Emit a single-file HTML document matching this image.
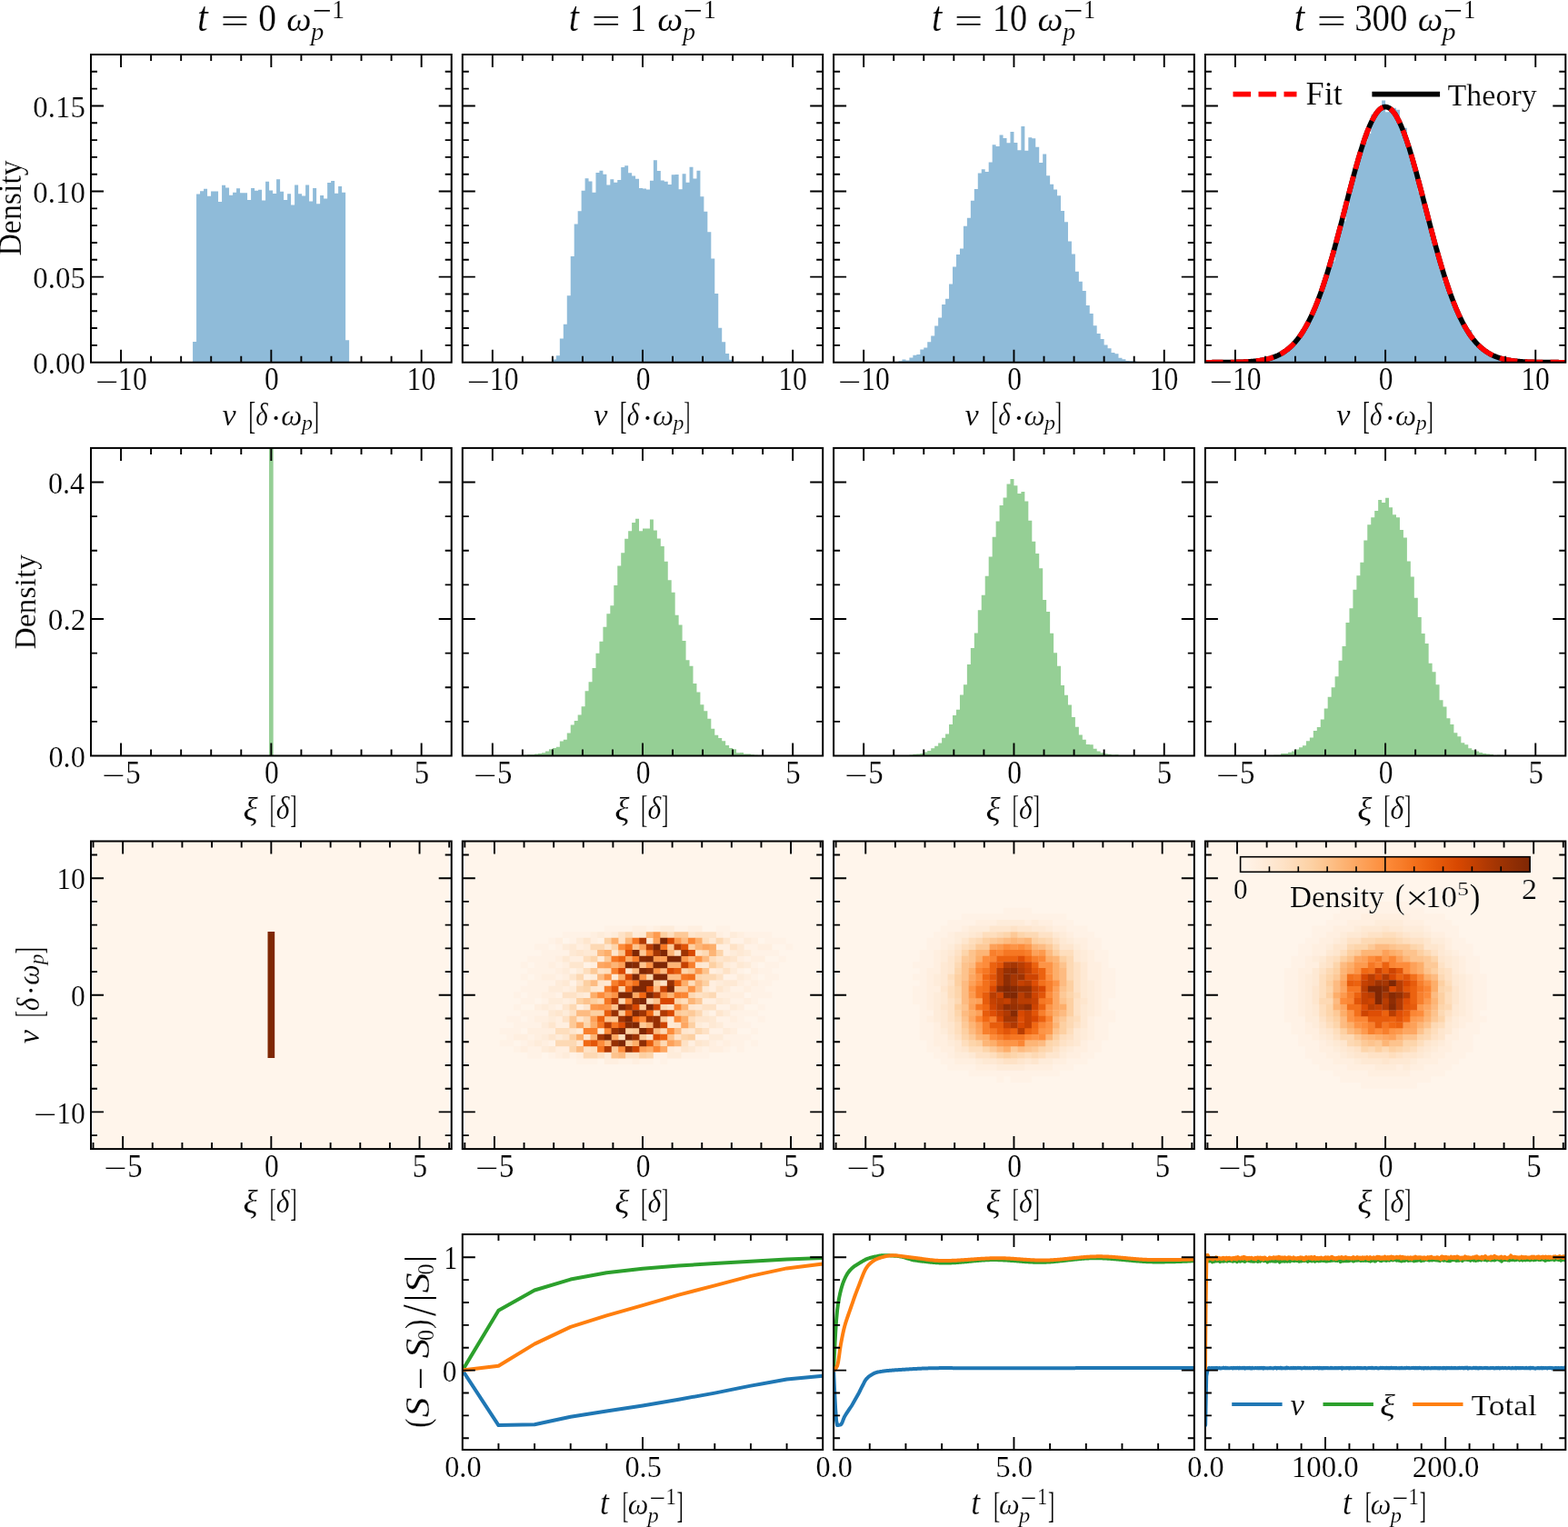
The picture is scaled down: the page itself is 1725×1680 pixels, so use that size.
<!DOCTYPE html><html><head><meta charset="utf-8"><title>Figure</title><style>html,body{margin:0;padding:0;background:#fff;overflow:hidden;width:1725px;height:1680px;}svg{display:block;}text{stroke:#fff;stroke-width:0.2px;vector-effect:non-scaling-stroke;}</style></head><body><svg width="1725" height="1680" viewBox="0 0 1725 1680" font-family="'Liberation Serif', 'DejaVu Serif', serif"><rect width="100%" height="100%" fill="#fff"/><clipPath id="c100_60"><rect x="100" y="60" width="396.7" height="338.7"/></clipPath>
<g clip-path="url(#c100_60)">
<path d="M212.07 398.7L212.07 376.12L216.07 376.12L216.07 213.6L220.07 213.6L220.07 210.32L224.07 210.32L224.07 207.85L228.07 207.85L228.07 215.73L232.08 215.73L232.08 210.52L236.08 210.52L236.08 210.54L240.08 210.54L240.08 222.09L244.08 222.09L244.08 203.83L248.08 203.83L248.08 206.58L252.08 206.58L252.08 214.65L256.09 214.65L256.09 211.66L260.09 211.66L260.09 207.21L264.09 207.21L264.09 212.25L268.09 212.25L268.09 212.13L272.09 212.13L272.09 220.1L276.09 220.1L276.09 206.88L280.09 206.88L280.09 209.72L284.1 209.72L284.1 208.73L288.1 208.73L288.1 220.59L292.1 220.59L292.1 199.66L296.1 199.66L296.1 209.52L300.1 209.52L300.1 213.08L304.1 213.08L304.1 197.17L308.11 197.17L308.11 210.83L312.11 210.83L312.11 220.09L316.11 220.09L316.11 213.2L320.11 213.2L320.11 225.6L324.11 225.6L324.11 203.62L328.11 203.62L328.11 213.28L332.12 213.28L332.12 215.42L336.12 215.42L336.12 203.47L340.12 203.47L340.12 221.41L344.12 221.41L344.12 207.01L348.12 207.01L348.12 224.13L352.12 224.13L352.12 214.89L356.13 214.89L356.13 218.46L360.13 218.46L360.13 200.91L364.13 200.91L364.13 198.9L368.13 198.9L368.13 212.7L372.13 212.7L372.13 205L376.13 205L376.13 211.72L380.13 211.72L380.13 374.24L384.14 374.24L384.14 398.7Z" fill="#8fbbd9"/>
</g>
<clipPath id="c508_60"><rect x="508.8" y="60" width="396.4" height="338.7"/></clipPath>
<g clip-path="url(#c508_60)">
<path d="M508.8 398.7L508.8 398.7L512.76 398.7L512.76 398.7L516.73 398.7L516.73 398.7L520.69 398.7L520.69 398.7L524.66 398.7L524.66 398.7L528.62 398.7L528.62 398.7L532.58 398.7L532.58 398.7L536.55 398.7L536.55 398.7L540.51 398.7L540.51 398.7L544.48 398.7L544.48 398.7L548.44 398.7L548.44 398.7L552.4 398.7L552.4 398.7L556.37 398.7L556.37 398.7L560.33 398.7L560.33 398.7L564.3 398.7L564.3 398.7L568.26 398.7L568.26 398.7L572.22 398.7L572.22 398.7L576.19 398.7L576.19 398.7L580.15 398.7L580.15 398.7L584.12 398.7L584.12 398.7L588.08 398.7L588.08 398.65L592.04 398.65L592.04 398.7L596.01 398.7L596.01 398.7L599.97 398.7L599.97 398.7L603.94 398.7L603.94 398.27L607.9 398.27L607.9 395.5L611.86 395.5L611.86 391.37L615.83 391.37L615.83 372.39L619.79 372.39L619.79 356.79L623.76 356.79L623.76 325.36L627.72 325.36L627.72 281.99L631.68 281.99L631.68 246.51L635.65 246.51L635.65 232.18L639.61 232.18L639.61 209.66L643.58 209.66L643.58 196.14L647.54 196.14L647.54 199.62L651.5 199.62L651.5 211.82L655.47 211.82L655.47 189.9L659.43 189.9L659.43 187.65L663.4 187.65L663.4 191.83L667.36 191.83L667.36 203.61L671.32 203.61L671.32 197.21L675.29 197.21L675.29 200.68L679.25 200.68L679.25 198.12L683.22 198.12L683.22 184.08L687.18 184.08L687.18 182.13L691.14 182.13L691.14 190.28L695.11 190.28L695.11 193.49L699.07 193.49L699.07 196.82L703.04 196.82L703.04 207.08L707 207.08L707 207.62L710.96 207.62L710.96 208.49L714.93 208.49L714.93 198.77L718.89 198.77L718.89 176.31L722.86 176.31L722.86 187.94L726.82 187.94L726.82 198.5L730.78 198.5L730.78 199.63L734.75 199.63L734.75 203.09L738.71 203.09L738.71 192.19L742.68 192.19L742.68 192.04L746.64 192.04L746.64 208.19L750.6 208.19L750.6 191.24L754.57 191.24L754.57 200.67L758.53 200.67L758.53 183.67L762.5 183.67L762.5 196.56L766.46 196.56L766.46 187.64L770.42 187.64L770.42 216.31L774.39 216.31L774.39 232.78L778.35 232.78L778.35 255.33L782.32 255.33L782.32 284.44L786.28 284.44L786.28 322.95L790.24 322.95L790.24 360.64L794.21 360.64L794.21 376.19L798.17 376.19L798.17 389.07L802.14 389.07L802.14 395.65L806.1 395.65L806.1 398.01L810.06 398.01L810.06 397.83L814.03 397.83L814.03 398.7L817.99 398.7L817.99 398.7L821.96 398.7L821.96 398.68L825.92 398.68L825.92 398.7L829.88 398.7L829.88 398.7L833.85 398.7L833.85 398.7L837.81 398.7L837.81 398.7L841.78 398.7L841.78 398.7L845.74 398.7L845.74 398.7L849.7 398.7L849.7 398.7L853.67 398.7L853.67 398.7L857.63 398.7L857.63 398.7L861.6 398.7L861.6 398.7L865.56 398.7L865.56 398.7L869.52 398.7L869.52 398.7L873.49 398.7L873.49 398.7L877.45 398.7L877.45 398.7L881.42 398.7L881.42 398.7L885.38 398.7L885.38 398.7L889.34 398.7L889.34 398.7L893.31 398.7L893.31 398.7L897.27 398.7L897.27 398.7L901.24 398.7L901.24 398.7L905.2 398.7L905.2 398.7Z" fill="#8fbbd9"/>
</g>
<clipPath id="c917_60"><rect x="917.1" y="60" width="396.7" height="338.7"/></clipPath>
<g clip-path="url(#c917_60)">
<path d="M917.1 398.7L917.1 398.7L921.07 398.7L921.07 398.7L925.03 398.7L925.03 398.7L929 398.7L929 398.7L932.97 398.7L932.97 398.7L936.94 398.7L936.94 398.7L940.9 398.7L940.9 398.7L944.87 398.7L944.87 398.7L948.84 398.7L948.84 398.7L952.8 398.7L952.8 398.7L956.77 398.7L956.77 398.65L960.74 398.65L960.74 398.59L964.7 398.59L964.7 398.48L968.67 398.48L968.67 398.7L972.64 398.7L972.64 398.39L976.61 398.39L976.61 398.11L980.57 398.11L980.57 397.88L984.54 397.88L984.54 398.2L988.51 398.2L988.51 397.14L992.47 397.14L992.47 395.46L996.44 395.46L996.44 396.59L1000.41 396.59L1000.41 393.51L1004.37 393.51L1004.37 390.63L1008.34 390.63L1008.34 389.88L1012.31 389.88L1012.31 384.41L1016.28 384.41L1016.28 382.45L1020.24 382.45L1020.24 376.33L1024.21 376.33L1024.21 369.43L1028.18 369.43L1028.18 358.56L1032.14 358.56L1032.14 349.46L1036.11 349.46L1036.11 334.94L1040.08 334.94L1040.08 328.86L1044.04 328.86L1044.04 312.51L1048.01 312.51L1048.01 293.62L1051.98 293.62L1051.98 280.1L1055.95 280.1L1055.95 273.54L1059.91 273.54L1059.91 248.71L1063.88 248.71L1063.88 239.63L1067.85 239.63L1067.85 220.8L1071.81 220.8L1071.81 207.94L1075.78 207.94L1075.78 190.47L1079.75 190.47L1079.75 186.2L1083.71 186.2L1083.71 189.04L1087.68 189.04L1087.68 178.57L1091.65 178.57L1091.65 159.3L1095.62 159.3L1095.62 160.89L1099.58 160.89L1099.58 148.6L1103.55 148.6L1103.55 151.95L1107.52 151.95L1107.52 157.31L1111.48 157.31L1111.48 144.95L1115.45 144.95L1115.45 157.06L1119.42 157.06L1119.42 165.16L1123.38 165.16L1123.38 138.95L1127.35 138.95L1127.35 165.64L1131.32 165.64L1131.32 151.16L1135.29 151.16L1135.29 152.3L1139.25 152.3L1139.25 161.68L1143.22 161.68L1143.22 178.88L1147.19 178.88L1147.19 169.4L1151.15 169.4L1151.15 193.14L1155.12 193.14L1155.12 202.67L1159.09 202.67L1159.09 208.57L1163.05 208.57L1163.05 215.14L1167.02 215.14L1167.02 231.91L1170.99 231.91L1170.99 244.16L1174.96 244.16L1174.96 265.58L1178.92 265.58L1178.92 279.56L1182.89 279.56L1182.89 298.68L1186.86 298.68L1186.86 309.72L1190.82 309.72L1190.82 320.12L1194.79 320.12L1194.79 335.98L1198.76 335.98L1198.76 345.11L1202.72 345.11L1202.72 358.25L1206.69 358.25L1206.69 366.96L1210.66 366.96L1210.66 372.95L1214.63 372.95L1214.63 379.57L1218.59 379.57L1218.59 383.28L1222.56 383.28L1222.56 387.91L1226.53 387.91L1226.53 389.23L1230.49 389.23L1230.49 393.68L1234.46 393.68L1234.46 395.32L1238.43 395.32L1238.43 397L1242.39 397L1242.39 397.16L1246.36 397.16L1246.36 397.46L1250.33 397.46L1250.33 398.34L1254.3 398.34L1254.3 398.36L1258.26 398.36L1258.26 398.36L1262.23 398.36L1262.23 398.6L1266.2 398.6L1266.2 398.69L1270.16 398.69L1270.16 398.59L1274.13 398.59L1274.13 398.68L1278.1 398.68L1278.1 398.68L1282.06 398.68L1282.06 398.66L1286.03 398.66L1286.03 398.68L1290 398.68L1290 398.7L1293.97 398.7L1293.97 398.7L1297.93 398.7L1297.93 398.7L1301.9 398.7L1301.9 398.7L1305.87 398.7L1305.87 398.7L1309.83 398.7L1309.83 398.7L1313.8 398.7L1313.8 398.7Z" fill="#8fbbd9"/>
</g>
<clipPath id="c1325_60"><rect x="1325.9" y="60" width="396.4" height="338.7"/></clipPath>
<g clip-path="url(#c1325_60)">
<path d="M1325.9 398.7L1325.9 398.69L1329.86 398.69L1329.86 398.64L1333.83 398.64L1333.83 398.7L1337.79 398.7L1337.79 398.56L1341.76 398.56L1341.76 398.69L1345.72 398.69L1345.72 398.62L1349.68 398.62L1349.68 398.7L1353.65 398.7L1353.65 398.53L1357.61 398.53L1357.61 398.47L1361.58 398.47L1361.58 398.37L1365.54 398.37L1365.54 398.08L1369.5 398.08L1369.5 397.98L1373.47 397.98L1373.47 397.41L1377.43 397.41L1377.43 397.59L1381.4 397.59L1381.4 397.42L1385.36 397.42L1385.36 396.42L1389.32 396.42L1389.32 395.31L1393.29 395.31L1393.29 393.91L1397.25 393.91L1397.25 392.96L1401.22 392.96L1401.22 393.69L1405.18 393.69L1405.18 389.97L1409.14 389.97L1409.14 386.51L1413.11 386.51L1413.11 385.38L1417.07 385.38L1417.07 382.94L1421.04 382.94L1421.04 377.89L1425 377.89L1425 374.68L1428.96 374.68L1428.96 367.29L1432.93 367.29L1432.93 362.36L1436.89 362.36L1436.89 352.11L1440.86 352.11L1440.86 345.99L1444.82 345.99L1444.82 340.13L1448.78 340.13L1448.78 326.41L1452.75 326.41L1452.75 314.21L1456.71 314.21L1456.71 306.99L1460.68 306.99L1460.68 293.69L1464.64 293.69L1464.64 287.13L1468.6 287.13L1468.6 260.46L1472.57 260.46L1472.57 251.61L1476.53 251.61L1476.53 243.26L1480.5 243.26L1480.5 226.74L1484.46 226.74L1484.46 204.52L1488.42 204.52L1488.42 184.94L1492.39 184.94L1492.39 175.16L1496.35 175.16L1496.35 159.17L1500.32 159.17L1500.32 155.85L1504.28 155.85L1504.28 147.04L1508.24 147.04L1508.24 126.15L1512.21 126.15L1512.21 121.76L1516.17 121.76L1516.17 120.27L1520.14 120.27L1520.14 110.46L1524.1 110.46L1524.1 123.3L1528.06 123.3L1528.06 122.5L1532.03 122.5L1532.03 118.73L1535.99 118.73L1535.99 120.81L1539.96 120.81L1539.96 139.59L1543.92 139.59L1543.92 140.8L1547.88 140.8L1547.88 164.85L1551.85 164.85L1551.85 173.01L1555.81 173.01L1555.81 189.58L1559.78 189.58L1559.78 211.06L1563.74 211.06L1563.74 217.42L1567.7 217.42L1567.7 229.81L1571.67 229.81L1571.67 249.77L1575.63 249.77L1575.63 264.34L1579.6 264.34L1579.6 273.22L1583.56 273.22L1583.56 296.61L1587.52 296.61L1587.52 310.07L1591.49 310.07L1591.49 319.14L1595.45 319.14L1595.45 331.6L1599.42 331.6L1599.42 334.6L1603.38 334.6L1603.38 346.46L1607.34 346.46L1607.34 357.21L1611.31 357.21L1611.31 363.6L1615.27 363.6L1615.27 363.11L1619.24 363.11L1619.24 374.87L1623.2 374.87L1623.2 379.55L1627.16 379.55L1627.16 381.8L1631.13 381.8L1631.13 384.66L1635.09 384.66L1635.09 387.89L1639.06 387.89L1639.06 391.24L1643.02 391.24L1643.02 393.16L1646.98 393.16L1646.98 393.13L1650.95 393.13L1650.95 394.79L1654.91 394.79L1654.91 396.66L1658.88 396.66L1658.88 395.8L1662.84 395.8L1662.84 396.62L1666.8 396.62L1666.8 397.5L1670.77 397.5L1670.77 397.83L1674.73 397.83L1674.73 397.93L1678.7 397.93L1678.7 398.35L1682.66 398.35L1682.66 398.61L1686.62 398.61L1686.62 398.38L1690.59 398.38L1690.59 398.7L1694.55 398.7L1694.55 398.52L1698.52 398.52L1698.52 398.7L1702.48 398.7L1702.48 398.64L1706.44 398.64L1706.44 398.66L1710.41 398.66L1710.41 398.56L1714.37 398.56L1714.37 398.7L1718.34 398.7L1718.34 398.7L1722.3 398.7L1722.3 398.7Z" fill="#8fbbd9"/>
<path d="M1325.9 398.69L1326.89 398.69L1327.89 398.69L1328.88 398.68L1329.87 398.68L1330.87 398.68L1331.86 398.68L1332.85 398.68L1333.85 398.67L1334.84 398.67L1335.83 398.67L1336.83 398.67L1337.82 398.66L1338.82 398.66L1339.81 398.65L1340.8 398.65L1341.8 398.65L1342.79 398.64L1343.78 398.63L1344.78 398.63L1345.77 398.62L1346.76 398.61L1347.76 398.61L1348.75 398.6L1349.74 398.59L1350.74 398.58L1351.73 398.56L1352.72 398.55L1353.72 398.54L1354.71 398.52L1355.7 398.51L1356.7 398.49L1357.69 398.47L1358.68 398.45L1359.68 398.43L1360.67 398.41L1361.67 398.38L1362.66 398.35L1363.65 398.32L1364.65 398.29L1365.64 398.26L1366.63 398.22L1367.63 398.18L1368.62 398.14L1369.61 398.09L1370.61 398.04L1371.6 397.99L1372.59 397.93L1373.59 397.87L1374.58 397.8L1375.57 397.73L1376.57 397.66L1377.56 397.57L1378.55 397.49L1379.55 397.39L1380.54 397.29L1381.54 397.19L1382.53 397.07L1383.52 396.95L1384.52 396.82L1385.51 396.69L1386.5 396.54L1387.5 396.38L1388.49 396.21L1389.48 396.04L1390.48 395.85L1391.47 395.65L1392.46 395.43L1393.46 395.21L1394.45 394.97L1395.44 394.71L1396.44 394.44L1397.43 394.16L1398.42 393.85L1399.42 393.53L1400.41 393.2L1401.4 392.84L1402.4 392.46L1403.39 392.06L1404.39 391.64L1405.38 391.2L1406.37 390.73L1407.37 390.24L1408.36 389.72L1409.35 389.18L1410.35 388.61L1411.34 388L1412.33 387.37L1413.33 386.71L1414.32 386.02L1415.31 385.29L1416.31 384.53L1417.3 383.73L1418.29 382.89L1419.29 382.02L1420.28 381.1L1421.27 380.15L1422.27 379.16L1423.26 378.12L1424.25 377.03L1425.25 375.91L1426.24 374.73L1427.24 373.51L1428.23 372.24L1429.22 370.92L1430.22 369.54L1431.21 368.12L1432.2 366.64L1433.2 365.11L1434.19 363.52L1435.18 361.88L1436.18 360.18L1437.17 358.42L1438.16 356.6L1439.16 354.72L1440.15 352.78L1441.14 350.78L1442.14 348.72L1443.13 346.6L1444.12 344.41L1445.12 342.16L1446.11 339.85L1447.11 337.47L1448.1 335.03L1449.09 332.53L1450.09 329.96L1451.08 327.33L1452.07 324.63L1453.07 321.88L1454.06 319.06L1455.05 316.18L1456.05 313.24L1457.04 310.24L1458.03 307.18L1459.03 304.06L1460.02 300.89L1461.01 297.66L1462.01 294.37L1463 291.04L1463.99 287.65L1464.99 284.22L1465.98 280.74L1466.97 277.22L1467.97 273.65L1468.96 270.04L1469.96 266.4L1470.95 262.73L1471.94 259.02L1472.94 255.28L1473.93 251.52L1474.92 247.74L1475.92 243.94L1476.91 240.12L1477.9 236.3L1478.9 232.46L1479.89 228.62L1480.88 224.78L1481.88 220.94L1482.87 217.11L1483.86 213.29L1484.86 209.49L1485.85 205.71L1486.84 201.95L1487.84 198.22L1488.83 194.52L1489.82 190.86L1490.82 187.25L1491.81 183.68L1492.81 180.16L1493.8 176.69L1494.79 173.28L1495.79 169.94L1496.78 166.67L1497.77 163.47L1498.77 160.34L1499.76 157.3L1500.75 154.34L1501.75 151.47L1502.74 148.69L1503.73 146.02L1504.73 143.44L1505.72 140.96L1506.71 138.6L1507.71 136.34L1508.7 134.21L1509.69 132.18L1510.69 130.28L1511.68 128.51L1512.67 126.86L1513.67 125.33L1514.66 123.94L1515.66 122.69L1516.65 121.56L1517.64 120.58L1518.64 119.73L1519.63 119.02L1520.62 118.45L1521.62 118.02L1522.61 117.74L1523.6 117.6L1524.6 117.6L1525.59 117.74L1526.58 118.02L1527.58 118.45L1528.57 119.02L1529.56 119.73L1530.56 120.58L1531.55 121.56L1532.54 122.69L1533.54 123.94L1534.53 125.33L1535.53 126.86L1536.52 128.51L1537.51 130.28L1538.51 132.18L1539.5 134.21L1540.49 136.34L1541.49 138.6L1542.48 140.96L1543.47 143.44L1544.47 146.02L1545.46 148.69L1546.45 151.47L1547.45 154.34L1548.44 157.3L1549.43 160.34L1550.43 163.47L1551.42 166.67L1552.41 169.94L1553.41 173.28L1554.4 176.69L1555.39 180.16L1556.39 183.68L1557.38 187.25L1558.38 190.86L1559.37 194.52L1560.36 198.22L1561.36 201.95L1562.35 205.71L1563.34 209.49L1564.34 213.29L1565.33 217.11L1566.32 220.94L1567.32 224.78L1568.31 228.62L1569.3 232.46L1570.3 236.3L1571.29 240.12L1572.28 243.94L1573.28 247.74L1574.27 251.52L1575.26 255.28L1576.26 259.02L1577.25 262.73L1578.24 266.4L1579.24 270.04L1580.23 273.65L1581.23 277.22L1582.22 280.74L1583.21 284.22L1584.21 287.65L1585.2 291.04L1586.19 294.37L1587.19 297.66L1588.18 300.89L1589.17 304.06L1590.17 307.18L1591.16 310.24L1592.15 313.24L1593.15 316.18L1594.14 319.06L1595.13 321.88L1596.13 324.63L1597.12 327.33L1598.11 329.96L1599.11 332.53L1600.1 335.03L1601.09 337.47L1602.09 339.85L1603.08 342.16L1604.08 344.41L1605.07 346.6L1606.06 348.72L1607.06 350.78L1608.05 352.78L1609.04 354.72L1610.04 356.6L1611.03 358.42L1612.02 360.18L1613.02 361.88L1614.01 363.52L1615 365.11L1616 366.64L1616.99 368.12L1617.98 369.54L1618.98 370.92L1619.97 372.24L1620.96 373.51L1621.96 374.73L1622.95 375.91L1623.95 377.03L1624.94 378.12L1625.93 379.16L1626.93 380.15L1627.92 381.1L1628.91 382.02L1629.91 382.89L1630.9 383.73L1631.89 384.53L1632.89 385.29L1633.88 386.02L1634.87 386.71L1635.87 387.37L1636.86 388L1637.85 388.61L1638.85 389.18L1639.84 389.72L1640.83 390.24L1641.83 390.73L1642.82 391.2L1643.81 391.64L1644.81 392.06L1645.8 392.46L1646.8 392.84L1647.79 393.2L1648.78 393.53L1649.78 393.85L1650.77 394.16L1651.76 394.44L1652.76 394.71L1653.75 394.97L1654.74 395.21L1655.74 395.43L1656.73 395.65L1657.72 395.85L1658.72 396.04L1659.71 396.21L1660.7 396.38L1661.7 396.54L1662.69 396.69L1663.68 396.82L1664.68 396.95L1665.67 397.07L1666.66 397.19L1667.66 397.29L1668.65 397.39L1669.65 397.49L1670.64 397.57L1671.63 397.66L1672.63 397.73L1673.62 397.8L1674.61 397.87L1675.61 397.93L1676.6 397.99L1677.59 398.04L1678.59 398.09L1679.58 398.14L1680.57 398.18L1681.57 398.22L1682.56 398.26L1683.55 398.29L1684.55 398.32L1685.54 398.35L1686.53 398.38L1687.53 398.41L1688.52 398.43L1689.52 398.45L1690.51 398.47L1691.5 398.49L1692.5 398.51L1693.49 398.52L1694.48 398.54L1695.48 398.55L1696.47 398.56L1697.46 398.58L1698.46 398.59L1699.45 398.6L1700.44 398.61L1701.44 398.61L1702.43 398.62L1703.42 398.63L1704.42 398.63L1705.41 398.64L1706.4 398.65L1707.4 398.65L1708.39 398.65L1709.38 398.66L1710.38 398.66L1711.37 398.67L1712.37 398.67L1713.36 398.67L1714.35 398.67L1715.35 398.68L1716.34 398.68L1717.33 398.68L1718.33 398.68L1719.32 398.68L1720.31 398.69L1721.31 398.69L1722.3 398.69" fill="none" stroke="#000" stroke-width="5.6" stroke-linejoin="round" stroke-linecap="butt"/>
<path d="M1325.9 398.69L1326.89 398.69L1327.89 398.69L1328.88 398.68L1329.87 398.68L1330.87 398.68L1331.86 398.68L1332.85 398.68L1333.85 398.67L1334.84 398.67L1335.83 398.67L1336.83 398.67L1337.82 398.66L1338.82 398.66L1339.81 398.65L1340.8 398.65L1341.8 398.65L1342.79 398.64L1343.78 398.63L1344.78 398.63L1345.77 398.62L1346.76 398.61L1347.76 398.61L1348.75 398.6L1349.74 398.59L1350.74 398.58L1351.73 398.56L1352.72 398.55L1353.72 398.54L1354.71 398.52L1355.7 398.51L1356.7 398.49L1357.69 398.47L1358.68 398.45L1359.68 398.43L1360.67 398.41L1361.67 398.38L1362.66 398.35L1363.65 398.32L1364.65 398.29L1365.64 398.26L1366.63 398.22L1367.63 398.18L1368.62 398.14L1369.61 398.09L1370.61 398.04L1371.6 397.99L1372.59 397.93L1373.59 397.87L1374.58 397.8L1375.57 397.73L1376.57 397.66L1377.56 397.57L1378.55 397.49L1379.55 397.39L1380.54 397.29L1381.54 397.19L1382.53 397.07L1383.52 396.95L1384.52 396.82L1385.51 396.69L1386.5 396.54L1387.5 396.38L1388.49 396.21L1389.48 396.04L1390.48 395.85L1391.47 395.65L1392.46 395.43L1393.46 395.21L1394.45 394.97L1395.44 394.71L1396.44 394.44L1397.43 394.16L1398.42 393.85L1399.42 393.53L1400.41 393.2L1401.4 392.84L1402.4 392.46L1403.39 392.06L1404.39 391.64L1405.38 391.2L1406.37 390.73L1407.37 390.24L1408.36 389.72L1409.35 389.18L1410.35 388.61L1411.34 388L1412.33 387.37L1413.33 386.71L1414.32 386.02L1415.31 385.29L1416.31 384.53L1417.3 383.73L1418.29 382.89L1419.29 382.02L1420.28 381.1L1421.27 380.15L1422.27 379.16L1423.26 378.12L1424.25 377.03L1425.25 375.91L1426.24 374.73L1427.24 373.51L1428.23 372.24L1429.22 370.92L1430.22 369.54L1431.21 368.12L1432.2 366.64L1433.2 365.11L1434.19 363.52L1435.18 361.88L1436.18 360.18L1437.17 358.42L1438.16 356.6L1439.16 354.72L1440.15 352.78L1441.14 350.78L1442.14 348.72L1443.13 346.6L1444.12 344.41L1445.12 342.16L1446.11 339.85L1447.11 337.47L1448.1 335.03L1449.09 332.53L1450.09 329.96L1451.08 327.33L1452.07 324.63L1453.07 321.88L1454.06 319.06L1455.05 316.18L1456.05 313.24L1457.04 310.24L1458.03 307.18L1459.03 304.06L1460.02 300.89L1461.01 297.66L1462.01 294.37L1463 291.04L1463.99 287.65L1464.99 284.22L1465.98 280.74L1466.97 277.22L1467.97 273.65L1468.96 270.04L1469.96 266.4L1470.95 262.73L1471.94 259.02L1472.94 255.28L1473.93 251.52L1474.92 247.74L1475.92 243.94L1476.91 240.12L1477.9 236.3L1478.9 232.46L1479.89 228.62L1480.88 224.78L1481.88 220.94L1482.87 217.11L1483.86 213.29L1484.86 209.49L1485.85 205.71L1486.84 201.95L1487.84 198.22L1488.83 194.52L1489.82 190.86L1490.82 187.25L1491.81 183.68L1492.81 180.16L1493.8 176.69L1494.79 173.28L1495.79 169.94L1496.78 166.67L1497.77 163.47L1498.77 160.34L1499.76 157.3L1500.75 154.34L1501.75 151.47L1502.74 148.69L1503.73 146.02L1504.73 143.44L1505.72 140.96L1506.71 138.6L1507.71 136.34L1508.7 134.21L1509.69 132.18L1510.69 130.28L1511.68 128.51L1512.67 126.86L1513.67 125.33L1514.66 123.94L1515.66 122.69L1516.65 121.56L1517.64 120.58L1518.64 119.73L1519.63 119.02L1520.62 118.45L1521.62 118.02L1522.61 117.74L1523.6 117.6L1524.6 117.6L1525.59 117.74L1526.58 118.02L1527.58 118.45L1528.57 119.02L1529.56 119.73L1530.56 120.58L1531.55 121.56L1532.54 122.69L1533.54 123.94L1534.53 125.33L1535.53 126.86L1536.52 128.51L1537.51 130.28L1538.51 132.18L1539.5 134.21L1540.49 136.34L1541.49 138.6L1542.48 140.96L1543.47 143.44L1544.47 146.02L1545.46 148.69L1546.45 151.47L1547.45 154.34L1548.44 157.3L1549.43 160.34L1550.43 163.47L1551.42 166.67L1552.41 169.94L1553.41 173.28L1554.4 176.69L1555.39 180.16L1556.39 183.68L1557.38 187.25L1558.38 190.86L1559.37 194.52L1560.36 198.22L1561.36 201.95L1562.35 205.71L1563.34 209.49L1564.34 213.29L1565.33 217.11L1566.32 220.94L1567.32 224.78L1568.31 228.62L1569.3 232.46L1570.3 236.3L1571.29 240.12L1572.28 243.94L1573.28 247.74L1574.27 251.52L1575.26 255.28L1576.26 259.02L1577.25 262.73L1578.24 266.4L1579.24 270.04L1580.23 273.65L1581.23 277.22L1582.22 280.74L1583.21 284.22L1584.21 287.65L1585.2 291.04L1586.19 294.37L1587.19 297.66L1588.18 300.89L1589.17 304.06L1590.17 307.18L1591.16 310.24L1592.15 313.24L1593.15 316.18L1594.14 319.06L1595.13 321.88L1596.13 324.63L1597.12 327.33L1598.11 329.96L1599.11 332.53L1600.1 335.03L1601.09 337.47L1602.09 339.85L1603.08 342.16L1604.08 344.41L1605.07 346.6L1606.06 348.72L1607.06 350.78L1608.05 352.78L1609.04 354.72L1610.04 356.6L1611.03 358.42L1612.02 360.18L1613.02 361.88L1614.01 363.52L1615 365.11L1616 366.64L1616.99 368.12L1617.98 369.54L1618.98 370.92L1619.97 372.24L1620.96 373.51L1621.96 374.73L1622.95 375.91L1623.95 377.03L1624.94 378.12L1625.93 379.16L1626.93 380.15L1627.92 381.1L1628.91 382.02L1629.91 382.89L1630.9 383.73L1631.89 384.53L1632.89 385.29L1633.88 386.02L1634.87 386.71L1635.87 387.37L1636.86 388L1637.85 388.61L1638.85 389.18L1639.84 389.72L1640.83 390.24L1641.83 390.73L1642.82 391.2L1643.81 391.64L1644.81 392.06L1645.8 392.46L1646.8 392.84L1647.79 393.2L1648.78 393.53L1649.78 393.85L1650.77 394.16L1651.76 394.44L1652.76 394.71L1653.75 394.97L1654.74 395.21L1655.74 395.43L1656.73 395.65L1657.72 395.85L1658.72 396.04L1659.71 396.21L1660.7 396.38L1661.7 396.54L1662.69 396.69L1663.68 396.82L1664.68 396.95L1665.67 397.07L1666.66 397.19L1667.66 397.29L1668.65 397.39L1669.65 397.49L1670.64 397.57L1671.63 397.66L1672.63 397.73L1673.62 397.8L1674.61 397.87L1675.61 397.93L1676.6 397.99L1677.59 398.04L1678.59 398.09L1679.58 398.14L1680.57 398.18L1681.57 398.22L1682.56 398.26L1683.55 398.29L1684.55 398.32L1685.54 398.35L1686.53 398.38L1687.53 398.41L1688.52 398.43L1689.52 398.45L1690.51 398.47L1691.5 398.49L1692.5 398.51L1693.49 398.52L1694.48 398.54L1695.48 398.55L1696.47 398.56L1697.46 398.58L1698.46 398.59L1699.45 398.6L1700.44 398.61L1701.44 398.61L1702.43 398.62L1703.42 398.63L1704.42 398.63L1705.41 398.64L1706.4 398.65L1707.4 398.65L1708.39 398.65L1709.38 398.66L1710.38 398.66L1711.37 398.67L1712.37 398.67L1713.36 398.67L1714.35 398.67L1715.35 398.68L1716.34 398.68L1717.33 398.68L1718.33 398.68L1719.32 398.68L1720.31 398.69L1721.31 398.69L1722.3 398.69" fill="none" stroke="#ff0000" stroke-width="5.6" stroke-linejoin="round" stroke-linecap="butt" stroke-dasharray="19.6 8.4"/>
</g>
<path d="M1356.5 103.6H1426.5" stroke="#ff0000" stroke-width="5.8" stroke-dasharray="19.6 8.4"/>
<path d="M1509.4 103.6H1584.1" stroke="#000" stroke-width="5.8"/>
<text transform="matrix(0.3629 0 0 0.3509 1436.61 115.35)" font-size="100">Fit</text>
<text transform="matrix(0.3400 0 0 0.3374 1592.61 115.55)" font-size="100">Theory</text>
<clipPath id="c100_492"><rect x="100" y="492.9" width="396.7" height="338.6"/></clipPath>
<g clip-path="url(#c100_492)">
<rect x="296.04" y="492.9" width="4.63" height="338.6" fill="#95cf95"/>
</g>
<clipPath id="c508_492"><rect x="508.8" y="492.9" width="396.4" height="338.6"/></clipPath>
<g clip-path="url(#c508_492)">
<path d="M508.8 831.5L508.8 831.5L512.76 831.5L512.76 831.5L516.73 831.5L516.73 831.5L520.69 831.5L520.69 831.49L524.66 831.49L524.66 831.49L528.62 831.49L528.62 831.47L532.58 831.47L532.58 831.5L536.55 831.5L536.55 831.42L540.51 831.42L540.51 831.41L544.48 831.41L544.48 831.48L548.44 831.48L548.44 831.5L552.4 831.5L552.4 831.44L556.37 831.44L556.37 831.4L560.33 831.4L560.33 831.5L564.3 831.5L564.3 831.27L568.26 831.27L568.26 831.21L572.22 831.21L572.22 831.18L576.19 831.18L576.19 830.67L580.15 830.67L580.15 830.23L584.12 830.23L584.12 830.26L588.08 830.26L588.08 829.45L592.04 829.45L592.04 829.08L596.01 829.08L596.01 828.19L599.97 828.19L599.97 826.38L603.94 826.38L603.94 824.33L607.9 824.33L607.9 822.97L611.86 822.97L611.86 821.81L615.83 821.81L615.83 815.57L619.79 815.57L619.79 813.86L623.76 813.86L623.76 806.49L627.72 806.49L627.72 797.61L631.68 797.61L631.68 792.96L635.65 792.96L635.65 786.53L639.61 786.53L639.61 777.35L643.58 777.35L643.58 760.26L647.54 760.26L647.54 750.36L651.5 750.36L651.5 734.97L655.47 734.97L655.47 718.72L659.43 718.72L659.43 705.63L663.4 705.63L663.4 689.86L667.36 689.86L667.36 675.13L671.32 675.13L671.32 666.14L675.29 666.14L675.29 643.93L679.25 643.93L679.25 622.44L683.22 622.44L683.22 608.24L687.18 608.24L687.18 592.79L691.14 592.79L691.14 584.17L695.11 584.17L695.11 575.02L699.07 575.02L699.07 570.8L703.04 570.8L703.04 584.18L707 584.18L707 581.54L710.96 581.54L710.96 581.48L714.93 581.48L714.93 571.4L718.89 571.4L718.89 583.45L722.86 583.45L722.86 592.42L726.82 592.42L726.82 601.09L730.78 601.09L730.78 617.82L734.75 617.82L734.75 638.29L738.71 638.29L738.71 651.83L742.68 651.83L742.68 676.84L746.64 676.84L746.64 687.39L750.6 687.39L750.6 705.04L754.57 705.04L754.57 726.15L758.53 726.15L758.53 732.81L762.5 732.81L762.5 752.09L766.46 752.09L766.46 761.38L770.42 761.38L770.42 775.16L774.39 775.16L774.39 782.36L778.35 782.36L778.35 790.67L782.32 790.67L782.32 801.66L786.28 801.66L786.28 808.78L790.24 808.78L790.24 812.06L794.21 812.06L794.21 815.28L798.17 815.28L798.17 820.05L802.14 820.05L802.14 823.01L806.1 823.01L806.1 824.35L810.06 824.35L810.06 828.16L814.03 828.16L814.03 828.12L817.99 828.12L817.99 829.41L821.96 829.41L821.96 829.42L825.92 829.42L825.92 830.34L829.88 830.34L829.88 830.82L833.85 830.82L833.85 830.89L837.81 830.89L837.81 831.31L841.78 831.31L841.78 831.18L845.74 831.18L845.74 831.37L849.7 831.37L849.7 831.39L853.67 831.39L853.67 831.47L857.63 831.47L857.63 831.37L861.6 831.37L861.6 831.47L865.56 831.47L865.56 831.45L869.52 831.45L869.52 831.47L873.49 831.47L873.49 831.5L877.45 831.5L877.45 831.48L881.42 831.48L881.42 831.49L885.38 831.49L885.38 831.49L889.34 831.49L889.34 831.5L893.31 831.5L893.31 831.5L897.27 831.5L897.27 831.49L901.24 831.49L901.24 831.49L905.2 831.49L905.2 831.5Z" fill="#95cf95"/>
</g>
<clipPath id="c917_492"><rect x="917.1" y="492.9" width="396.7" height="338.6"/></clipPath>
<g clip-path="url(#c917_492)">
<path d="M917.1 831.5L917.1 831.5L921.07 831.5L921.07 831.5L925.03 831.5L925.03 831.5L929 831.5L929 831.5L932.97 831.5L932.97 831.5L936.94 831.5L936.94 831.5L940.9 831.5L940.9 831.5L944.87 831.5L944.87 831.5L948.84 831.5L948.84 831.5L952.8 831.5L952.8 831.5L956.77 831.5L956.77 831.5L960.74 831.5L960.74 831.5L964.7 831.5L964.7 831.47L968.67 831.47L968.67 831.4L972.64 831.4L972.64 831.5L976.61 831.5L976.61 831.46L980.57 831.46L980.57 831.38L984.54 831.38L984.54 831.35L988.51 831.35L988.51 831.31L992.47 831.31L992.47 831.36L996.44 831.36L996.44 831.13L1000.41 831.13L1000.41 830.45L1004.37 830.45L1004.37 829.86L1008.34 829.86L1008.34 829.55L1012.31 829.55L1012.31 829.11L1016.28 829.11L1016.28 827.46L1020.24 827.46L1020.24 826.03L1024.21 826.03L1024.21 823.23L1028.18 823.23L1028.18 820.63L1032.14 820.63L1032.14 817.6L1036.11 817.6L1036.11 811.84L1040.08 811.84L1040.08 807.62L1044.04 807.62L1044.04 797.09L1048.01 797.09L1048.01 787.09L1051.98 787.09L1051.98 780.66L1055.95 780.66L1055.95 764.49L1059.91 764.49L1059.91 753.16L1063.88 753.16L1063.88 731.1L1067.85 731.1L1067.85 712.96L1071.81 712.96L1071.81 696.53L1075.78 696.53L1075.78 671.29L1079.75 671.29L1079.75 654.67L1083.71 654.67L1083.71 633.82L1087.68 633.82L1087.68 612.41L1091.65 612.41L1091.65 590.68L1095.62 590.68L1095.62 573.49L1099.58 573.49L1099.58 555.95L1103.55 555.95L1103.55 547.43L1107.52 547.43L1107.52 532.49L1111.48 532.49L1111.48 526.94L1115.45 526.94L1115.45 534.25L1119.42 534.25L1119.42 542.97L1123.38 542.97L1123.38 541.12L1127.35 541.12L1127.35 551.41L1131.32 551.41L1131.32 572.78L1135.29 572.78L1135.29 595.63L1139.25 595.63L1139.25 608.95L1143.22 608.95L1143.22 625.28L1147.19 625.28L1147.19 660.04L1151.15 660.04L1151.15 673.1L1155.12 673.1L1155.12 696.8L1159.09 696.8L1159.09 718.22L1163.05 718.22L1163.05 732.68L1167.02 732.68L1167.02 753.93L1170.99 753.93L1170.99 764.77L1174.96 764.77L1174.96 775.61L1178.92 775.61L1178.92 788.91L1182.89 788.91L1182.89 799.81L1186.86 799.81L1186.86 808.46L1190.82 808.46L1190.82 813.65L1194.79 813.65L1194.79 818.89L1198.76 818.89L1198.76 819.28L1202.72 819.28L1202.72 823.85L1206.69 823.85L1206.69 826.56L1210.66 826.56L1210.66 828.24L1214.63 828.24L1214.63 829.21L1218.59 829.21L1218.59 829.72L1222.56 829.72L1222.56 830.61L1226.53 830.61L1226.53 830.2L1230.49 830.2L1230.49 831.09L1234.46 831.09L1234.46 831.26L1238.43 831.26L1238.43 831.22L1242.39 831.22L1242.39 831.19L1246.36 831.19L1246.36 831.29L1250.33 831.29L1250.33 831.48L1254.3 831.48L1254.3 831.45L1258.26 831.45L1258.26 831.47L1262.23 831.47L1262.23 831.47L1266.2 831.47L1266.2 831.49L1270.16 831.49L1270.16 831.5L1274.13 831.5L1274.13 831.5L1278.1 831.5L1278.1 831.5L1282.06 831.5L1282.06 831.5L1286.03 831.5L1286.03 831.49L1290 831.49L1290 831.5L1293.97 831.5L1293.97 831.5L1297.93 831.5L1297.93 831.5L1301.9 831.5L1301.9 831.5L1305.87 831.5L1305.87 831.5L1309.83 831.5L1309.83 831.5L1313.8 831.5L1313.8 831.5Z" fill="#95cf95"/>
</g>
<clipPath id="c1325_492"><rect x="1325.9" y="492.9" width="396.4" height="338.6"/></clipPath>
<g clip-path="url(#c1325_492)">
<path d="M1325.9 831.5L1325.9 831.5L1329.86 831.5L1329.86 831.5L1333.83 831.5L1333.83 831.5L1337.79 831.5L1337.79 831.5L1341.76 831.5L1341.76 831.5L1345.72 831.5L1345.72 831.49L1349.68 831.49L1349.68 831.5L1353.65 831.5L1353.65 831.48L1357.61 831.48L1357.61 831.5L1361.58 831.5L1361.58 831.49L1365.54 831.49L1365.54 831.5L1369.5 831.5L1369.5 831.5L1373.47 831.5L1373.47 831.43L1377.43 831.43L1377.43 831.4L1381.4 831.4L1381.4 831.5L1385.36 831.5L1385.36 831.47L1389.32 831.47L1389.32 831.22L1393.29 831.22L1393.29 830.95L1397.25 830.95L1397.25 831.09L1401.22 831.09L1401.22 830.74L1405.18 830.74L1405.18 830.75L1409.14 830.75L1409.14 828.89L1413.11 828.89L1413.11 828.88L1417.07 828.88L1417.07 827.65L1421.04 827.65L1421.04 826.4L1425 826.4L1425 824.41L1428.96 824.41L1428.96 822.3L1432.93 822.3L1432.93 820.19L1436.89 820.19L1436.89 815.36L1440.86 815.36L1440.86 811.44L1444.82 811.44L1444.82 804L1448.78 804L1448.78 800.07L1452.75 800.07L1452.75 791.58L1456.71 791.58L1456.71 779.56L1460.68 779.56L1460.68 766.78L1464.64 766.78L1464.64 756.37L1468.6 756.37L1468.6 744.2L1472.57 744.2L1472.57 726.82L1476.53 726.82L1476.53 710.91L1480.5 710.91L1480.5 685.01L1484.46 685.01L1484.46 669.3L1488.42 669.3L1488.42 648.7L1492.39 648.7L1492.39 633.37L1496.35 633.37L1496.35 618.68L1500.32 618.68L1500.32 594.59L1504.28 594.59L1504.28 577.27L1508.24 577.27L1508.24 569.15L1512.21 569.15L1512.21 561.88L1516.17 561.88L1516.17 549.9L1520.14 549.9L1520.14 553.12L1524.1 553.12L1524.1 547.84L1528.06 547.84L1528.06 558.19L1532.03 558.19L1532.03 566.2L1535.99 566.2L1535.99 569.22L1539.96 569.22L1539.96 583.02L1543.92 583.02L1543.92 591.49L1547.88 591.49L1547.88 617.56L1551.85 617.56L1551.85 634.45L1555.81 634.45L1555.81 657.63L1559.78 657.63L1559.78 679.02L1563.74 679.02L1563.74 697.12L1567.7 697.12L1567.7 707.95L1571.67 707.95L1571.67 729.84L1575.63 729.84L1575.63 739.36L1579.6 739.36L1579.6 753.3L1583.56 753.3L1583.56 770.2L1587.52 770.2L1587.52 777.58L1591.49 777.58L1591.49 790.21L1595.45 790.21L1595.45 797.11L1599.42 797.11L1599.42 806.15L1603.38 806.15L1603.38 810.34L1607.34 810.34L1607.34 817.2L1611.31 817.2L1611.31 819.29L1615.27 819.29L1615.27 823.17L1619.24 823.17L1619.24 825.16L1623.2 825.16L1623.2 826.42L1627.16 826.42L1627.16 828.02L1631.13 828.02L1631.13 829.12L1635.09 829.12L1635.09 829.54L1639.06 829.54L1639.06 830.08L1643.02 830.08L1643.02 831.04L1646.98 831.04L1646.98 830.84L1650.95 830.84L1650.95 831.02L1654.91 831.02L1654.91 831.36L1658.88 831.36L1658.88 831.3L1662.84 831.3L1662.84 831.5L1666.8 831.5L1666.8 831.33L1670.77 831.33L1670.77 831.47L1674.73 831.47L1674.73 831.48L1678.7 831.48L1678.7 831.44L1682.66 831.44L1682.66 831.49L1686.62 831.49L1686.62 831.48L1690.59 831.48L1690.59 831.5L1694.55 831.5L1694.55 831.5L1698.52 831.5L1698.52 831.5L1702.48 831.5L1702.48 831.5L1706.44 831.5L1706.44 831.49L1710.41 831.49L1710.41 831.5L1714.37 831.5L1714.37 831.5L1718.34 831.5L1718.34 831.5L1722.3 831.5L1722.3 831.5Z" fill="#95cf95"/>
</g>
<rect x="102.45" y="925.9" width="391.8" height="337.6" fill="#fff5eb"/>
<rect x="294.51" y="1025" width="7.68" height="139" fill="#7f2704"/>
<rect x="511.25" y="925.9" width="391.5" height="337.6" fill="#fff5eb"/>
<g transform="translate(511.25 925.9) scale(7.67647 6.61961)">
<path d="M20 14h1.04v1.04h-1.04zM21 14h1.04v1.04h-1.04zM22 14h1.04v1.04h-1.04zM23 14h1.04v1.04h-1.04zM26 14h1.04v1.04h-1.04zM30 14h1.04v1.04h-1.04zM31 14h1.04v1.04h-1.04zM36 14h1.04v1.04h-1.04zM37 14h1.04v1.04h-1.04zM14 15h1.04v1.04h-1.04zM15 15h1.04v1.04h-1.04zM16 15h1.04v1.04h-1.04zM17 15h1.04v1.04h-1.04zM37 15h1.04v1.04h-1.04zM40 15h1.04v1.04h-1.04zM41 15h1.04v1.04h-1.04zM42 15h1.04v1.04h-1.04zM43 15h1.04v1.04h-1.04zM12 16h1.04v1.04h-1.04zM15 16h1.04v1.04h-1.04zM19 16h1.04v1.04h-1.04zM38 16h1.04v1.04h-1.04zM39 16h1.04v1.04h-1.04zM43 16h1.04v1.04h-1.04zM44 16h1.04v1.04h-1.04zM45 16h1.04v1.04h-1.04zM10 17h1.04v1.04h-1.04zM11 17h1.04v1.04h-1.04zM13 17h1.04v1.04h-1.04zM40 17h1.04v1.04h-1.04zM41 17h1.04v1.04h-1.04zM46 17h1.04v1.04h-1.04zM11 18h1.04v1.04h-1.04zM12 18h1.04v1.04h-1.04zM13 18h1.04v1.04h-1.04zM14 18h1.04v1.04h-1.04zM41 18h1.04v1.04h-1.04zM42 18h1.04v1.04h-1.04zM43 18h1.04v1.04h-1.04zM44 18h1.04v1.04h-1.04zM9 19h1.04v1.04h-1.04zM10 19h1.04v1.04h-1.04zM11 19h1.04v1.04h-1.04zM12 19h1.04v1.04h-1.04zM40 19h1.04v1.04h-1.04zM45 19h1.04v1.04h-1.04zM8 20h1.04v1.04h-1.04zM10 20h1.04v1.04h-1.04zM11 20h1.04v1.04h-1.04zM13 20h1.04v1.04h-1.04zM17 20h1.04v1.04h-1.04zM41 20h1.04v1.04h-1.04zM43 20h1.04v1.04h-1.04zM44 20h1.04v1.04h-1.04zM9 21h1.04v1.04h-1.04zM10 21h1.04v1.04h-1.04zM11 21h1.04v1.04h-1.04zM12 21h1.04v1.04h-1.04zM15 21h1.04v1.04h-1.04zM39 21h1.04v1.04h-1.04zM42 21h1.04v1.04h-1.04zM43 21h1.04v1.04h-1.04zM8 22h1.04v1.04h-1.04zM10 22h1.04v1.04h-1.04zM13 22h1.04v1.04h-1.04zM37 22h1.04v1.04h-1.04zM38 22h1.04v1.04h-1.04zM41 22h1.04v1.04h-1.04zM43 22h1.04v1.04h-1.04zM44 22h1.04v1.04h-1.04zM9 23h1.04v1.04h-1.04zM10 23h1.04v1.04h-1.04zM11 23h1.04v1.04h-1.04zM12 23h1.04v1.04h-1.04zM15 23h1.04v1.04h-1.04zM40 23h1.04v1.04h-1.04zM42 23h1.04v1.04h-1.04zM43 23h1.04v1.04h-1.04zM8 24h1.04v1.04h-1.04zM9 24h1.04v1.04h-1.04zM10 24h1.04v1.04h-1.04zM11 24h1.04v1.04h-1.04zM38 24h1.04v1.04h-1.04zM39 24h1.04v1.04h-1.04zM41 24h1.04v1.04h-1.04zM42 24h1.04v1.04h-1.04zM7 25h1.04v1.04h-1.04zM9 25h1.04v1.04h-1.04zM10 25h1.04v1.04h-1.04zM13 25h1.04v1.04h-1.04zM41 25h1.04v1.04h-1.04zM42 25h1.04v1.04h-1.04zM43 25h1.04v1.04h-1.04zM8 26h1.04v1.04h-1.04zM9 26h1.04v1.04h-1.04zM11 26h1.04v1.04h-1.04zM38 26h1.04v1.04h-1.04zM39 26h1.04v1.04h-1.04zM41 26h1.04v1.04h-1.04zM7 27h1.04v1.04h-1.04zM13 27h1.04v1.04h-1.04zM36 27h1.04v1.04h-1.04zM37 27h1.04v1.04h-1.04zM42 27h1.04v1.04h-1.04zM8 28h1.04v1.04h-1.04zM9 28h1.04v1.04h-1.04zM10 28h1.04v1.04h-1.04zM11 28h1.04v1.04h-1.04zM35 28h1.04v1.04h-1.04zM38 28h1.04v1.04h-1.04zM39 28h1.04v1.04h-1.04zM40 28h1.04v1.04h-1.04zM41 28h1.04v1.04h-1.04zM6 29h1.04v1.04h-1.04zM7 29h1.04v1.04h-1.04zM9 29h1.04v1.04h-1.04zM36 29h1.04v1.04h-1.04zM37 29h1.04v1.04h-1.04zM39 29h1.04v1.04h-1.04zM42 29h1.04v1.04h-1.04zM7 30h1.04v1.04h-1.04zM8 30h1.04v1.04h-1.04zM9 30h1.04v1.04h-1.04zM10 30h1.04v1.04h-1.04zM37 30h1.04v1.04h-1.04zM38 30h1.04v1.04h-1.04zM39 30h1.04v1.04h-1.04zM40 30h1.04v1.04h-1.04zM5 31h1.04v1.04h-1.04zM6 31h1.04v1.04h-1.04zM7 31h1.04v1.04h-1.04zM35 31h1.04v1.04h-1.04zM36 31h1.04v1.04h-1.04zM41 31h1.04v1.04h-1.04zM6 32h1.04v1.04h-1.04zM9 32h1.04v1.04h-1.04zM33 32h1.04v1.04h-1.04zM34 32h1.04v1.04h-1.04zM37 32h1.04v1.04h-1.04zM38 32h1.04v1.04h-1.04zM39 32h1.04v1.04h-1.04zM40 32h1.04v1.04h-1.04zM5 33h1.04v1.04h-1.04zM6 33h1.04v1.04h-1.04zM8 33h1.04v1.04h-1.04zM12 33h1.04v1.04h-1.04zM36 33h1.04v1.04h-1.04zM38 33h1.04v1.04h-1.04zM39 33h1.04v1.04h-1.04zM41 33h1.04v1.04h-1.04zM7 34h1.04v1.04h-1.04zM9 34h1.04v1.04h-1.04zM10 34h1.04v1.04h-1.04zM34 34h1.04v1.04h-1.04zM37 34h1.04v1.04h-1.04zM39 34h1.04v1.04h-1.04zM9 35h1.04v1.04h-1.04zM10 35h1.04v1.04h-1.04zM12 35h1.04v1.04h-1.04zM15 35h1.04v1.04h-1.04zM27 35h1.04v1.04h-1.04zM28 35h1.04v1.04h-1.04zM31 35h1.04v1.04h-1.04zM32 35h1.04v1.04h-1.04zM33 35h1.04v1.04h-1.04zM34 35h1.04v1.04h-1.04zM16 36h1.04v1.04h-1.04zM17 36h1.04v1.04h-1.04zM18 36h1.04v1.04h-1.04zM22 36h1.04v1.04h-1.04zM23 36h1.04v1.04h-1.04zM25 36h1.04v1.04h-1.04zM26 36h1.04v1.04h-1.04zM28 36h1.04v1.04h-1.04z" fill="#fff2e6"/>
<path d="M24 14h1.04v1.04h-1.04zM25 14h1.04v1.04h-1.04zM27 14h1.04v1.04h-1.04zM32 14h1.04v1.04h-1.04zM33 14h1.04v1.04h-1.04zM18 15h1.04v1.04h-1.04zM20 15h1.04v1.04h-1.04zM36 15h1.04v1.04h-1.04zM39 15h1.04v1.04h-1.04zM13 16h1.04v1.04h-1.04zM18 16h1.04v1.04h-1.04zM41 16h1.04v1.04h-1.04zM16 17h1.04v1.04h-1.04zM36 17h1.04v1.04h-1.04zM37 17h1.04v1.04h-1.04zM42 17h1.04v1.04h-1.04zM43 17h1.04v1.04h-1.04zM37 18h1.04v1.04h-1.04zM13 19h1.04v1.04h-1.04zM15 19h1.04v1.04h-1.04zM16 19h1.04v1.04h-1.04zM39 19h1.04v1.04h-1.04zM41 19h1.04v1.04h-1.04zM42 19h1.04v1.04h-1.04zM12 20h1.04v1.04h-1.04zM14 20h1.04v1.04h-1.04zM18 20h1.04v1.04h-1.04zM38 20h1.04v1.04h-1.04zM13 21h1.04v1.04h-1.04zM35 21h1.04v1.04h-1.04zM41 21h1.04v1.04h-1.04zM11 22h1.04v1.04h-1.04zM12 22h1.04v1.04h-1.04zM14 22h1.04v1.04h-1.04zM17 22h1.04v1.04h-1.04zM40 22h1.04v1.04h-1.04zM35 23h1.04v1.04h-1.04zM39 23h1.04v1.04h-1.04zM41 23h1.04v1.04h-1.04zM14 24h1.04v1.04h-1.04zM35 24h1.04v1.04h-1.04zM40 24h1.04v1.04h-1.04zM11 25h1.04v1.04h-1.04zM12 25h1.04v1.04h-1.04zM36 25h1.04v1.04h-1.04zM37 25h1.04v1.04h-1.04zM38 25h1.04v1.04h-1.04zM39 25h1.04v1.04h-1.04zM14 26h1.04v1.04h-1.04zM34 26h1.04v1.04h-1.04zM35 26h1.04v1.04h-1.04zM40 26h1.04v1.04h-1.04zM10 27h1.04v1.04h-1.04zM12 27h1.04v1.04h-1.04zM16 27h1.04v1.04h-1.04zM39 27h1.04v1.04h-1.04zM10 29h1.04v1.04h-1.04zM11 29h1.04v1.04h-1.04zM13 29h1.04v1.04h-1.04zM38 29h1.04v1.04h-1.04zM13 30h1.04v1.04h-1.04zM14 30h1.04v1.04h-1.04zM34 30h1.04v1.04h-1.04zM9 31h1.04v1.04h-1.04zM10 31h1.04v1.04h-1.04zM11 31h1.04v1.04h-1.04zM12 31h1.04v1.04h-1.04zM38 31h1.04v1.04h-1.04zM7 32h1.04v1.04h-1.04zM8 32h1.04v1.04h-1.04zM10 32h1.04v1.04h-1.04zM9 33h1.04v1.04h-1.04zM11 33h1.04v1.04h-1.04zM32 33h1.04v1.04h-1.04zM35 33h1.04v1.04h-1.04zM37 33h1.04v1.04h-1.04zM8 34h1.04v1.04h-1.04zM13 34h1.04v1.04h-1.04zM14 34h1.04v1.04h-1.04zM30 34h1.04v1.04h-1.04zM33 34h1.04v1.04h-1.04zM35 34h1.04v1.04h-1.04zM36 34h1.04v1.04h-1.04zM13 35h1.04v1.04h-1.04zM16 35h1.04v1.04h-1.04zM20 36h1.04v1.04h-1.04zM21 36h1.04v1.04h-1.04zM24 36h1.04v1.04h-1.04z" fill="#ffefe0"/>
<path d="M28 14h1.04v1.04h-1.04zM29 14h1.04v1.04h-1.04zM19 15h1.04v1.04h-1.04zM21 15h1.04v1.04h-1.04zM24 15h1.04v1.04h-1.04zM38 15h1.04v1.04h-1.04zM16 16h1.04v1.04h-1.04zM40 16h1.04v1.04h-1.04zM14 17h1.04v1.04h-1.04zM17 17h1.04v1.04h-1.04zM38 18h1.04v1.04h-1.04zM40 18h1.04v1.04h-1.04zM19 19h1.04v1.04h-1.04zM37 20h1.04v1.04h-1.04zM40 20h1.04v1.04h-1.04zM14 21h1.04v1.04h-1.04zM16 21h1.04v1.04h-1.04zM36 21h1.04v1.04h-1.04zM38 21h1.04v1.04h-1.04zM18 22h1.04v1.04h-1.04zM39 22h1.04v1.04h-1.04zM13 23h1.04v1.04h-1.04zM36 23h1.04v1.04h-1.04zM12 24h1.04v1.04h-1.04zM13 24h1.04v1.04h-1.04zM15 24h1.04v1.04h-1.04zM37 24h1.04v1.04h-1.04zM17 25h1.04v1.04h-1.04zM12 26h1.04v1.04h-1.04zM13 26h1.04v1.04h-1.04zM15 26h1.04v1.04h-1.04zM37 26h1.04v1.04h-1.04zM11 27h1.04v1.04h-1.04zM38 27h1.04v1.04h-1.04zM14 28h1.04v1.04h-1.04zM34 28h1.04v1.04h-1.04zM37 28h1.04v1.04h-1.04zM12 29h1.04v1.04h-1.04zM11 30h1.04v1.04h-1.04zM33 30h1.04v1.04h-1.04zM36 30h1.04v1.04h-1.04zM16 31h1.04v1.04h-1.04zM37 31h1.04v1.04h-1.04zM11 32h1.04v1.04h-1.04zM13 32h1.04v1.04h-1.04zM35 32h1.04v1.04h-1.04zM36 32h1.04v1.04h-1.04zM10 33h1.04v1.04h-1.04zM11 34h1.04v1.04h-1.04zM29 34h1.04v1.04h-1.04zM14 35h1.04v1.04h-1.04zM20 35h1.04v1.04h-1.04zM29 35h1.04v1.04h-1.04zM30 35h1.04v1.04h-1.04z" fill="#feecda"/>
<path d="M25 15h1.04v1.04h-1.04zM35 16h1.04v1.04h-1.04zM15 17h1.04v1.04h-1.04zM39 17h1.04v1.04h-1.04zM15 18h1.04v1.04h-1.04zM17 18h1.04v1.04h-1.04zM18 18h1.04v1.04h-1.04zM39 18h1.04v1.04h-1.04zM14 19h1.04v1.04h-1.04zM34 20h1.04v1.04h-1.04zM39 20h1.04v1.04h-1.04zM21 22h1.04v1.04h-1.04zM14 23h1.04v1.04h-1.04zM20 23h1.04v1.04h-1.04zM37 23h1.04v1.04h-1.04zM38 23h1.04v1.04h-1.04zM19 24h1.04v1.04h-1.04zM34 24h1.04v1.04h-1.04zM16 25h1.04v1.04h-1.04zM36 26h1.04v1.04h-1.04zM33 27h1.04v1.04h-1.04zM12 28h1.04v1.04h-1.04zM29 29h1.04v1.04h-1.04zM35 29h1.04v1.04h-1.04zM29 30h1.04v1.04h-1.04zM35 30h1.04v1.04h-1.04zM19 31h1.04v1.04h-1.04zM32 31h1.04v1.04h-1.04zM16 33h1.04v1.04h-1.04zM34 33h1.04v1.04h-1.04zM12 34h1.04v1.04h-1.04zM32 34h1.04v1.04h-1.04z" fill="#fee9d4"/>
<path d="M32 15h1.04v1.04h-1.04zM17 16h1.04v1.04h-1.04zM26 16h1.04v1.04h-1.04zM37 16h1.04v1.04h-1.04zM20 17h1.04v1.04h-1.04zM16 18h1.04v1.04h-1.04zM21 18h1.04v1.04h-1.04zM36 19h1.04v1.04h-1.04zM38 19h1.04v1.04h-1.04zM15 20h1.04v1.04h-1.04zM16 20h1.04v1.04h-1.04zM33 20h1.04v1.04h-1.04zM15 22h1.04v1.04h-1.04zM16 23h1.04v1.04h-1.04zM19 23h1.04v1.04h-1.04zM18 24h1.04v1.04h-1.04zM36 24h1.04v1.04h-1.04zM14 27h1.04v1.04h-1.04zM17 27h1.04v1.04h-1.04zM32 27h1.04v1.04h-1.04zM13 28h1.04v1.04h-1.04zM36 28h1.04v1.04h-1.04zM16 29h1.04v1.04h-1.04zM33 29h1.04v1.04h-1.04zM34 29h1.04v1.04h-1.04zM12 30h1.04v1.04h-1.04zM30 30h1.04v1.04h-1.04zM15 31h1.04v1.04h-1.04zM31 31h1.04v1.04h-1.04zM12 32h1.04v1.04h-1.04zM14 32h1.04v1.04h-1.04zM17 32h1.04v1.04h-1.04zM33 33h1.04v1.04h-1.04zM31 34h1.04v1.04h-1.04z" fill="#fee6ce"/>
<path d="M22 15h1.04v1.04h-1.04zM33 15h1.04v1.04h-1.04zM34 15h1.04v1.04h-1.04zM35 15h1.04v1.04h-1.04zM22 16h1.04v1.04h-1.04zM38 17h1.04v1.04h-1.04zM33 18h1.04v1.04h-1.04zM37 19h1.04v1.04h-1.04zM19 21h1.04v1.04h-1.04zM23 21h1.04v1.04h-1.04zM37 21h1.04v1.04h-1.04zM36 22h1.04v1.04h-1.04zM28 23h1.04v1.04h-1.04zM14 25h1.04v1.04h-1.04zM15 25h1.04v1.04h-1.04zM33 25h1.04v1.04h-1.04zM29 27h1.04v1.04h-1.04zM34 27h1.04v1.04h-1.04zM35 27h1.04v1.04h-1.04zM15 28h1.04v1.04h-1.04zM14 29h1.04v1.04h-1.04zM34 31h1.04v1.04h-1.04zM26 32h1.04v1.04h-1.04zM30 32h1.04v1.04h-1.04zM31 33h1.04v1.04h-1.04zM17 34h1.04v1.04h-1.04zM19 35h1.04v1.04h-1.04zM23 35h1.04v1.04h-1.04zM24 35h1.04v1.04h-1.04z" fill="#fee2c6"/>
<path d="M29 15h1.04v1.04h-1.04zM34 16h1.04v1.04h-1.04zM30 18h1.04v1.04h-1.04zM17 19h1.04v1.04h-1.04zM35 19h1.04v1.04h-1.04zM36 20h1.04v1.04h-1.04zM17 21h1.04v1.04h-1.04zM20 21h1.04v1.04h-1.04zM32 23h1.04v1.04h-1.04zM34 25h1.04v1.04h-1.04zM31 26h1.04v1.04h-1.04zM32 29h1.04v1.04h-1.04zM13 31h1.04v1.04h-1.04zM14 31h1.04v1.04h-1.04zM22 32h1.04v1.04h-1.04zM18 34h1.04v1.04h-1.04z" fill="#fedebd"/>
<path d="M23 15h1.04v1.04h-1.04zM36 16h1.04v1.04h-1.04zM18 17h1.04v1.04h-1.04zM19 17h1.04v1.04h-1.04zM34 18h1.04v1.04h-1.04zM16 22h1.04v1.04h-1.04zM34 22h1.04v1.04h-1.04zM35 22h1.04v1.04h-1.04zM16 24h1.04v1.04h-1.04zM32 25h1.04v1.04h-1.04zM35 25h1.04v1.04h-1.04zM19 26h1.04v1.04h-1.04zM22 26h1.04v1.04h-1.04zM26 26h1.04v1.04h-1.04zM15 27h1.04v1.04h-1.04zM28 27h1.04v1.04h-1.04zM33 28h1.04v1.04h-1.04zM17 29h1.04v1.04h-1.04zM28 31h1.04v1.04h-1.04zM33 31h1.04v1.04h-1.04zM13 33h1.04v1.04h-1.04zM14 33h1.04v1.04h-1.04zM15 33h1.04v1.04h-1.04zM28 33h1.04v1.04h-1.04zM17 35h1.04v1.04h-1.04zM18 35h1.04v1.04h-1.04z" fill="#fdd9b4"/>
<path d="M21 17h1.04v1.04h-1.04zM36 18h1.04v1.04h-1.04zM18 19h1.04v1.04h-1.04zM31 21h1.04v1.04h-1.04zM26 22h1.04v1.04h-1.04zM33 22h1.04v1.04h-1.04zM17 24h1.04v1.04h-1.04zM22 24h1.04v1.04h-1.04zM30 26h1.04v1.04h-1.04zM27 28h1.04v1.04h-1.04zM17 30h1.04v1.04h-1.04zM31 32h1.04v1.04h-1.04zM15 34h1.04v1.04h-1.04zM26 35h1.04v1.04h-1.04z" fill="#fdd5ab"/>
<path d="M28 15h1.04v1.04h-1.04zM20 16h1.04v1.04h-1.04zM32 17h1.04v1.04h-1.04zM35 20h1.04v1.04h-1.04zM17 23h1.04v1.04h-1.04zM27 23h1.04v1.04h-1.04zM34 23h1.04v1.04h-1.04zM16 26h1.04v1.04h-1.04zM18 26h1.04v1.04h-1.04zM18 28h1.04v1.04h-1.04zM19 28h1.04v1.04h-1.04zM31 28h1.04v1.04h-1.04zM32 30h1.04v1.04h-1.04zM23 31h1.04v1.04h-1.04zM15 32h1.04v1.04h-1.04zM32 32h1.04v1.04h-1.04zM25 35h1.04v1.04h-1.04z" fill="#fdd0a2"/>
<path d="M30 15h1.04v1.04h-1.04zM31 15h1.04v1.04h-1.04zM29 17h1.04v1.04h-1.04zM25 18h1.04v1.04h-1.04zM20 19h1.04v1.04h-1.04zM18 21h1.04v1.04h-1.04zM32 21h1.04v1.04h-1.04zM30 24h1.04v1.04h-1.04zM31 24h1.04v1.04h-1.04zM33 26h1.04v1.04h-1.04zM25 27h1.04v1.04h-1.04zM22 28h1.04v1.04h-1.04zM30 28h1.04v1.04h-1.04zM32 28h1.04v1.04h-1.04zM15 29h1.04v1.04h-1.04zM21 29h1.04v1.04h-1.04zM28 29h1.04v1.04h-1.04zM15 30h1.04v1.04h-1.04zM25 30h1.04v1.04h-1.04zM24 31h1.04v1.04h-1.04zM25 32h1.04v1.04h-1.04zM23 33h1.04v1.04h-1.04zM21 34h1.04v1.04h-1.04z" fill="#fdc997"/>
<path d="M24 17h1.04v1.04h-1.04zM22 18h1.04v1.04h-1.04zM25 20h1.04v1.04h-1.04zM34 21h1.04v1.04h-1.04zM33 24h1.04v1.04h-1.04zM17 26h1.04v1.04h-1.04zM27 26h1.04v1.04h-1.04zM21 27h1.04v1.04h-1.04zM20 29h1.04v1.04h-1.04zM29 32h1.04v1.04h-1.04zM21 35h1.04v1.04h-1.04z" fill="#fdc38d"/>
<path d="M31 16h1.04v1.04h-1.04zM19 18h1.04v1.04h-1.04zM32 19h1.04v1.04h-1.04zM34 19h1.04v1.04h-1.04zM24 21h1.04v1.04h-1.04zM28 21h1.04v1.04h-1.04zM19 22h1.04v1.04h-1.04zM29 22h1.04v1.04h-1.04zM30 22h1.04v1.04h-1.04zM18 23h1.04v1.04h-1.04zM33 23h1.04v1.04h-1.04zM27 24h1.04v1.04h-1.04zM16 28h1.04v1.04h-1.04zM17 28h1.04v1.04h-1.04zM27 31h1.04v1.04h-1.04zM30 31h1.04v1.04h-1.04zM16 34h1.04v1.04h-1.04zM22 35h1.04v1.04h-1.04z" fill="#fdbb81"/>
<path d="M26 15h1.04v1.04h-1.04zM23 16h1.04v1.04h-1.04zM33 17h1.04v1.04h-1.04zM29 18h1.04v1.04h-1.04zM35 18h1.04v1.04h-1.04zM21 20h1.04v1.04h-1.04zM29 20h1.04v1.04h-1.04zM30 20h1.04v1.04h-1.04zM29 25h1.04v1.04h-1.04zM32 26h1.04v1.04h-1.04zM31 27h1.04v1.04h-1.04zM26 30h1.04v1.04h-1.04zM18 32h1.04v1.04h-1.04zM20 33h1.04v1.04h-1.04zM30 33h1.04v1.04h-1.04z" fill="#fdb576"/>
<path d="M21 16h1.04v1.04h-1.04zM33 16h1.04v1.04h-1.04zM35 17h1.04v1.04h-1.04zM20 18h1.04v1.04h-1.04zM23 19h1.04v1.04h-1.04zM22 22h1.04v1.04h-1.04zM31 23h1.04v1.04h-1.04zM18 25h1.04v1.04h-1.04zM31 29h1.04v1.04h-1.04zM18 30h1.04v1.04h-1.04zM16 32h1.04v1.04h-1.04zM24 33h1.04v1.04h-1.04zM27 33h1.04v1.04h-1.04zM26 34h1.04v1.04h-1.04z" fill="#fdae6a"/>
<path d="M34 17h1.04v1.04h-1.04zM19 20h1.04v1.04h-1.04zM20 25h1.04v1.04h-1.04zM24 25h1.04v1.04h-1.04zM16 30h1.04v1.04h-1.04zM31 30h1.04v1.04h-1.04zM21 32h1.04v1.04h-1.04zM28 34h1.04v1.04h-1.04z" fill="#fda762"/>
<path d="M27 16h1.04v1.04h-1.04zM25 17h1.04v1.04h-1.04zM28 19h1.04v1.04h-1.04zM20 20h1.04v1.04h-1.04zM22 20h1.04v1.04h-1.04zM18 29h1.04v1.04h-1.04zM29 33h1.04v1.04h-1.04zM25 34h1.04v1.04h-1.04z" fill="#fda159"/>
<path d="M27 15h1.04v1.04h-1.04zM30 16h1.04v1.04h-1.04zM27 19h1.04v1.04h-1.04zM31 19h1.04v1.04h-1.04zM33 21h1.04v1.04h-1.04zM18 27h1.04v1.04h-1.04zM20 27h1.04v1.04h-1.04z" fill="#fd9a4e"/>
<path d="M33 19h1.04v1.04h-1.04zM26 20h1.04v1.04h-1.04zM27 21h1.04v1.04h-1.04zM20 22h1.04v1.04h-1.04zM25 22h1.04v1.04h-1.04zM32 24h1.04v1.04h-1.04zM21 25h1.04v1.04h-1.04zM28 25h1.04v1.04h-1.04zM19 27h1.04v1.04h-1.04z" fill="#fd9446"/>
<path d="M22 17h1.04v1.04h-1.04zM23 23h1.04v1.04h-1.04zM19 25h1.04v1.04h-1.04zM25 29h1.04v1.04h-1.04zM30 29h1.04v1.04h-1.04zM20 31h1.04v1.04h-1.04zM29 31h1.04v1.04h-1.04zM19 33h1.04v1.04h-1.04zM22 34h1.04v1.04h-1.04z" fill="#fd8c3b"/>
<path d="M32 16h1.04v1.04h-1.04zM31 25h1.04v1.04h-1.04zM23 26h1.04v1.04h-1.04zM30 27h1.04v1.04h-1.04zM27 34h1.04v1.04h-1.04z" fill="#fb8634"/>
<path d="M26 18h1.04v1.04h-1.04zM24 19h1.04v1.04h-1.04zM32 20h1.04v1.04h-1.04zM21 21h1.04v1.04h-1.04zM21 23h1.04v1.04h-1.04zM20 24h1.04v1.04h-1.04zM30 25h1.04v1.04h-1.04zM17 31h1.04v1.04h-1.04zM18 31h1.04v1.04h-1.04z" fill="#f87f2c"/>
<path d="M24 16h1.04v1.04h-1.04zM28 17h1.04v1.04h-1.04zM21 19h1.04v1.04h-1.04zM31 22h1.04v1.04h-1.04zM20 26h1.04v1.04h-1.04zM19 30h1.04v1.04h-1.04zM21 30h1.04v1.04h-1.04zM19 34h1.04v1.04h-1.04z" fill="#f67723"/>
<path d="M23 17h1.04v1.04h-1.04zM32 22h1.04v1.04h-1.04zM24 23h1.04v1.04h-1.04z" fill="#f3701b"/>
<path d="M25 25h1.04v1.04h-1.04zM26 28h1.04v1.04h-1.04zM24 29h1.04v1.04h-1.04zM17 33h1.04v1.04h-1.04z" fill="#f16813"/>
<path d="M22 19h1.04v1.04h-1.04zM30 23h1.04v1.04h-1.04zM23 28h1.04v1.04h-1.04zM19 29h1.04v1.04h-1.04zM28 32h1.04v1.04h-1.04z" fill="#ec620f"/>
<path d="M30 21h1.04v1.04h-1.04zM22 23h1.04v1.04h-1.04zM23 24h1.04v1.04h-1.04zM20 28h1.04v1.04h-1.04zM26 33h1.04v1.04h-1.04z" fill="#e75c0c"/>
<path d="M31 17h1.04v1.04h-1.04zM21 24h1.04v1.04h-1.04zM18 33h1.04v1.04h-1.04z" fill="#e25508"/>
<path d="M23 18h1.04v1.04h-1.04zM26 24h1.04v1.04h-1.04zM22 30h1.04v1.04h-1.04zM27 32h1.04v1.04h-1.04z" fill="#de4e05"/>
<path d="M29 16h1.04v1.04h-1.04zM32 18h1.04v1.04h-1.04zM22 21h1.04v1.04h-1.04zM29 21h1.04v1.04h-1.04zM23 22h1.04v1.04h-1.04zM28 26h1.04v1.04h-1.04zM29 26h1.04v1.04h-1.04zM24 27h1.04v1.04h-1.04zM29 28h1.04v1.04h-1.04z" fill="#d84801"/>
<path d="M27 27h1.04v1.04h-1.04zM28 30h1.04v1.04h-1.04zM24 34h1.04v1.04h-1.04z" fill="#ce4401"/>
<path d="M31 20h1.04v1.04h-1.04zM28 24h1.04v1.04h-1.04z" fill="#c54102"/>
<path d="M26 17h1.04v1.04h-1.04zM30 17h1.04v1.04h-1.04zM21 26h1.04v1.04h-1.04zM20 30h1.04v1.04h-1.04z" fill="#b93d02"/>
<path d="M25 16h1.04v1.04h-1.04zM27 25h1.04v1.04h-1.04zM28 28h1.04v1.04h-1.04zM26 31h1.04v1.04h-1.04zM20 34h1.04v1.04h-1.04z" fill="#b03903"/>
<path d="M27 18h1.04v1.04h-1.04zM19 32h1.04v1.04h-1.04z" fill="#a53603"/>
<path d="M31 18h1.04v1.04h-1.04zM23 27h1.04v1.04h-1.04zM25 28h1.04v1.04h-1.04zM22 29h1.04v1.04h-1.04zM26 29h1.04v1.04h-1.04zM24 32h1.04v1.04h-1.04z" fill="#9e3303"/>
<path d="M29 23h1.04v1.04h-1.04zM21 28h1.04v1.04h-1.04zM27 29h1.04v1.04h-1.04zM27 30h1.04v1.04h-1.04zM21 31h1.04v1.04h-1.04zM21 33h1.04v1.04h-1.04zM23 34h1.04v1.04h-1.04z" fill="#963003"/>
<path d="M26 21h1.04v1.04h-1.04zM24 26h1.04v1.04h-1.04zM25 33h1.04v1.04h-1.04z" fill="#8e2d04"/>
<path d="M25 19h1.04v1.04h-1.04zM24 20h1.04v1.04h-1.04zM23 30h1.04v1.04h-1.04z" fill="#862a04"/>
<path d="M28 16h1.04v1.04h-1.04zM27 17h1.04v1.04h-1.04zM24 18h1.04v1.04h-1.04zM28 18h1.04v1.04h-1.04zM26 19h1.04v1.04h-1.04zM29 19h1.04v1.04h-1.04zM30 19h1.04v1.04h-1.04zM23 20h1.04v1.04h-1.04zM27 20h1.04v1.04h-1.04zM28 20h1.04v1.04h-1.04zM25 21h1.04v1.04h-1.04zM24 22h1.04v1.04h-1.04zM27 22h1.04v1.04h-1.04zM28 22h1.04v1.04h-1.04zM25 23h1.04v1.04h-1.04zM26 23h1.04v1.04h-1.04zM24 24h1.04v1.04h-1.04zM25 24h1.04v1.04h-1.04zM29 24h1.04v1.04h-1.04zM22 25h1.04v1.04h-1.04zM23 25h1.04v1.04h-1.04zM26 25h1.04v1.04h-1.04zM25 26h1.04v1.04h-1.04zM22 27h1.04v1.04h-1.04zM26 27h1.04v1.04h-1.04zM24 28h1.04v1.04h-1.04zM23 29h1.04v1.04h-1.04zM24 30h1.04v1.04h-1.04zM22 31h1.04v1.04h-1.04zM25 31h1.04v1.04h-1.04zM20 32h1.04v1.04h-1.04zM23 32h1.04v1.04h-1.04zM22 33h1.04v1.04h-1.04z" fill="#7f2704"/>
</g>
<rect x="919.55" y="925.9" width="391.8" height="337.6" fill="#fff5eb"/>
<g transform="translate(919.55 925.9) scale(7.68235 6.61961)">
<path d="M24 11h1.04v1.04h-1.04zM25 11h1.04v1.04h-1.04zM26 11h1.04v1.04h-1.04zM27 11h1.04v1.04h-1.04zM18 12h1.04v1.04h-1.04zM19 12h1.04v1.04h-1.04zM20 12h1.04v1.04h-1.04zM21 12h1.04v1.04h-1.04zM22 12h1.04v1.04h-1.04zM23 12h1.04v1.04h-1.04zM24 12h1.04v1.04h-1.04zM25 12h1.04v1.04h-1.04zM26 12h1.04v1.04h-1.04zM27 12h1.04v1.04h-1.04zM28 12h1.04v1.04h-1.04zM29 12h1.04v1.04h-1.04zM30 12h1.04v1.04h-1.04zM31 12h1.04v1.04h-1.04zM32 12h1.04v1.04h-1.04zM16 13h1.04v1.04h-1.04zM17 13h1.04v1.04h-1.04zM18 13h1.04v1.04h-1.04zM19 13h1.04v1.04h-1.04zM31 13h1.04v1.04h-1.04zM32 13h1.04v1.04h-1.04zM33 13h1.04v1.04h-1.04zM15 14h1.04v1.04h-1.04zM16 14h1.04v1.04h-1.04zM17 14h1.04v1.04h-1.04zM33 14h1.04v1.04h-1.04zM34 14h1.04v1.04h-1.04zM35 14h1.04v1.04h-1.04zM14 15h1.04v1.04h-1.04zM15 15h1.04v1.04h-1.04zM34 15h1.04v1.04h-1.04zM35 15h1.04v1.04h-1.04zM36 15h1.04v1.04h-1.04zM13 16h1.04v1.04h-1.04zM14 16h1.04v1.04h-1.04zM36 16h1.04v1.04h-1.04zM37 16h1.04v1.04h-1.04zM13 17h1.04v1.04h-1.04zM14 17h1.04v1.04h-1.04zM36 17h1.04v1.04h-1.04zM37 17h1.04v1.04h-1.04zM12 18h1.04v1.04h-1.04zM13 18h1.04v1.04h-1.04zM37 18h1.04v1.04h-1.04zM38 18h1.04v1.04h-1.04zM12 19h1.04v1.04h-1.04zM13 19h1.04v1.04h-1.04zM37 19h1.04v1.04h-1.04zM38 19h1.04v1.04h-1.04zM11 20h1.04v1.04h-1.04zM12 20h1.04v1.04h-1.04zM13 20h1.04v1.04h-1.04zM38 20h1.04v1.04h-1.04zM12 21h1.04v1.04h-1.04zM38 21h1.04v1.04h-1.04zM39 21h1.04v1.04h-1.04zM11 22h1.04v1.04h-1.04zM12 22h1.04v1.04h-1.04zM38 22h1.04v1.04h-1.04zM39 22h1.04v1.04h-1.04zM12 23h1.04v1.04h-1.04zM38 23h1.04v1.04h-1.04zM39 23h1.04v1.04h-1.04zM11 24h1.04v1.04h-1.04zM12 24h1.04v1.04h-1.04zM38 24h1.04v1.04h-1.04zM39 24h1.04v1.04h-1.04zM11 25h1.04v1.04h-1.04zM12 25h1.04v1.04h-1.04zM38 25h1.04v1.04h-1.04zM39 25h1.04v1.04h-1.04zM11 26h1.04v1.04h-1.04zM12 26h1.04v1.04h-1.04zM38 26h1.04v1.04h-1.04zM12 27h1.04v1.04h-1.04zM38 27h1.04v1.04h-1.04zM12 28h1.04v1.04h-1.04zM13 28h1.04v1.04h-1.04zM38 28h1.04v1.04h-1.04zM39 28h1.04v1.04h-1.04zM12 29h1.04v1.04h-1.04zM37 29h1.04v1.04h-1.04zM38 29h1.04v1.04h-1.04zM39 29h1.04v1.04h-1.04zM12 30h1.04v1.04h-1.04zM13 30h1.04v1.04h-1.04zM37 30h1.04v1.04h-1.04zM38 30h1.04v1.04h-1.04zM12 31h1.04v1.04h-1.04zM13 31h1.04v1.04h-1.04zM37 31h1.04v1.04h-1.04zM38 31h1.04v1.04h-1.04zM12 32h1.04v1.04h-1.04zM13 32h1.04v1.04h-1.04zM37 32h1.04v1.04h-1.04zM38 32h1.04v1.04h-1.04zM13 33h1.04v1.04h-1.04zM36 33h1.04v1.04h-1.04zM37 33h1.04v1.04h-1.04zM13 34h1.04v1.04h-1.04zM14 34h1.04v1.04h-1.04zM36 34h1.04v1.04h-1.04zM37 34h1.04v1.04h-1.04zM14 35h1.04v1.04h-1.04zM15 35h1.04v1.04h-1.04zM35 35h1.04v1.04h-1.04zM36 35h1.04v1.04h-1.04zM15 36h1.04v1.04h-1.04zM16 36h1.04v1.04h-1.04zM33 36h1.04v1.04h-1.04zM34 36h1.04v1.04h-1.04zM35 36h1.04v1.04h-1.04zM16 37h1.04v1.04h-1.04zM17 37h1.04v1.04h-1.04zM18 37h1.04v1.04h-1.04zM19 37h1.04v1.04h-1.04zM31 37h1.04v1.04h-1.04zM32 37h1.04v1.04h-1.04zM33 37h1.04v1.04h-1.04zM19 38h1.04v1.04h-1.04zM20 38h1.04v1.04h-1.04zM21 38h1.04v1.04h-1.04zM22 38h1.04v1.04h-1.04zM23 38h1.04v1.04h-1.04zM24 38h1.04v1.04h-1.04zM25 38h1.04v1.04h-1.04zM26 38h1.04v1.04h-1.04zM27 38h1.04v1.04h-1.04zM28 38h1.04v1.04h-1.04zM29 38h1.04v1.04h-1.04zM30 38h1.04v1.04h-1.04zM31 38h1.04v1.04h-1.04zM23 39h1.04v1.04h-1.04zM25 39h1.04v1.04h-1.04zM26 39h1.04v1.04h-1.04zM27 39h1.04v1.04h-1.04z" fill="#fff2e6"/>
<path d="M20 13h1.04v1.04h-1.04zM21 13h1.04v1.04h-1.04zM22 13h1.04v1.04h-1.04zM27 13h1.04v1.04h-1.04zM29 13h1.04v1.04h-1.04zM30 13h1.04v1.04h-1.04zM18 14h1.04v1.04h-1.04zM31 14h1.04v1.04h-1.04zM32 14h1.04v1.04h-1.04zM16 15h1.04v1.04h-1.04zM33 15h1.04v1.04h-1.04zM15 16h1.04v1.04h-1.04zM16 16h1.04v1.04h-1.04zM34 16h1.04v1.04h-1.04zM35 16h1.04v1.04h-1.04zM15 17h1.04v1.04h-1.04zM35 17h1.04v1.04h-1.04zM14 18h1.04v1.04h-1.04zM36 18h1.04v1.04h-1.04zM14 19h1.04v1.04h-1.04zM36 19h1.04v1.04h-1.04zM14 20h1.04v1.04h-1.04zM36 20h1.04v1.04h-1.04zM37 20h1.04v1.04h-1.04zM13 21h1.04v1.04h-1.04zM14 21h1.04v1.04h-1.04zM36 21h1.04v1.04h-1.04zM37 21h1.04v1.04h-1.04zM13 22h1.04v1.04h-1.04zM36 22h1.04v1.04h-1.04zM37 22h1.04v1.04h-1.04zM13 23h1.04v1.04h-1.04zM37 23h1.04v1.04h-1.04zM13 24h1.04v1.04h-1.04zM14 24h1.04v1.04h-1.04zM37 24h1.04v1.04h-1.04zM13 25h1.04v1.04h-1.04zM37 25h1.04v1.04h-1.04zM13 26h1.04v1.04h-1.04zM37 26h1.04v1.04h-1.04zM13 27h1.04v1.04h-1.04zM37 27h1.04v1.04h-1.04zM37 28h1.04v1.04h-1.04zM13 29h1.04v1.04h-1.04zM36 29h1.04v1.04h-1.04zM14 30h1.04v1.04h-1.04zM36 30h1.04v1.04h-1.04zM14 31h1.04v1.04h-1.04zM36 31h1.04v1.04h-1.04zM14 32h1.04v1.04h-1.04zM15 32h1.04v1.04h-1.04zM36 32h1.04v1.04h-1.04zM14 33h1.04v1.04h-1.04zM15 33h1.04v1.04h-1.04zM35 33h1.04v1.04h-1.04zM15 34h1.04v1.04h-1.04zM16 34h1.04v1.04h-1.04zM34 34h1.04v1.04h-1.04zM35 34h1.04v1.04h-1.04zM16 35h1.04v1.04h-1.04zM33 35h1.04v1.04h-1.04zM34 35h1.04v1.04h-1.04zM17 36h1.04v1.04h-1.04zM18 36h1.04v1.04h-1.04zM19 36h1.04v1.04h-1.04zM31 36h1.04v1.04h-1.04zM32 36h1.04v1.04h-1.04zM20 37h1.04v1.04h-1.04zM21 37h1.04v1.04h-1.04zM22 37h1.04v1.04h-1.04zM27 37h1.04v1.04h-1.04zM28 37h1.04v1.04h-1.04zM29 37h1.04v1.04h-1.04zM30 37h1.04v1.04h-1.04z" fill="#ffefe0"/>
<path d="M23 13h1.04v1.04h-1.04zM24 13h1.04v1.04h-1.04zM25 13h1.04v1.04h-1.04zM26 13h1.04v1.04h-1.04zM28 13h1.04v1.04h-1.04zM19 14h1.04v1.04h-1.04zM20 14h1.04v1.04h-1.04zM21 14h1.04v1.04h-1.04zM30 14h1.04v1.04h-1.04zM17 15h1.04v1.04h-1.04zM18 15h1.04v1.04h-1.04zM32 15h1.04v1.04h-1.04zM17 16h1.04v1.04h-1.04zM33 16h1.04v1.04h-1.04zM16 17h1.04v1.04h-1.04zM34 17h1.04v1.04h-1.04zM15 18h1.04v1.04h-1.04zM35 18h1.04v1.04h-1.04zM15 19h1.04v1.04h-1.04zM35 19h1.04v1.04h-1.04zM14 22h1.04v1.04h-1.04zM14 23h1.04v1.04h-1.04zM36 23h1.04v1.04h-1.04zM36 24h1.04v1.04h-1.04zM14 25h1.04v1.04h-1.04zM36 25h1.04v1.04h-1.04zM14 26h1.04v1.04h-1.04zM36 26h1.04v1.04h-1.04zM14 27h1.04v1.04h-1.04zM36 27h1.04v1.04h-1.04zM14 28h1.04v1.04h-1.04zM36 28h1.04v1.04h-1.04zM14 29h1.04v1.04h-1.04zM15 31h1.04v1.04h-1.04zM35 31h1.04v1.04h-1.04zM35 32h1.04v1.04h-1.04zM16 33h1.04v1.04h-1.04zM33 34h1.04v1.04h-1.04zM17 35h1.04v1.04h-1.04zM18 35h1.04v1.04h-1.04zM32 35h1.04v1.04h-1.04zM20 36h1.04v1.04h-1.04zM29 36h1.04v1.04h-1.04zM30 36h1.04v1.04h-1.04zM23 37h1.04v1.04h-1.04zM24 37h1.04v1.04h-1.04zM25 37h1.04v1.04h-1.04zM26 37h1.04v1.04h-1.04z" fill="#feecda"/>
<path d="M28 14h1.04v1.04h-1.04zM29 14h1.04v1.04h-1.04zM19 15h1.04v1.04h-1.04zM31 15h1.04v1.04h-1.04zM32 16h1.04v1.04h-1.04zM16 18h1.04v1.04h-1.04zM34 18h1.04v1.04h-1.04zM34 19h1.04v1.04h-1.04zM15 20h1.04v1.04h-1.04zM35 20h1.04v1.04h-1.04zM15 21h1.04v1.04h-1.04zM35 21h1.04v1.04h-1.04zM15 22h1.04v1.04h-1.04zM35 22h1.04v1.04h-1.04zM15 23h1.04v1.04h-1.04zM35 23h1.04v1.04h-1.04zM35 24h1.04v1.04h-1.04zM15 25h1.04v1.04h-1.04zM35 25h1.04v1.04h-1.04zM15 26h1.04v1.04h-1.04zM35 27h1.04v1.04h-1.04zM15 28h1.04v1.04h-1.04zM35 28h1.04v1.04h-1.04zM15 29h1.04v1.04h-1.04zM35 29h1.04v1.04h-1.04zM15 30h1.04v1.04h-1.04zM35 30h1.04v1.04h-1.04zM34 31h1.04v1.04h-1.04zM16 32h1.04v1.04h-1.04zM34 32h1.04v1.04h-1.04zM17 33h1.04v1.04h-1.04zM34 33h1.04v1.04h-1.04zM17 34h1.04v1.04h-1.04zM32 34h1.04v1.04h-1.04zM19 35h1.04v1.04h-1.04zM21 36h1.04v1.04h-1.04zM22 36h1.04v1.04h-1.04zM27 36h1.04v1.04h-1.04z" fill="#fee9d4"/>
<path d="M22 14h1.04v1.04h-1.04zM23 14h1.04v1.04h-1.04zM24 14h1.04v1.04h-1.04zM26 14h1.04v1.04h-1.04zM27 14h1.04v1.04h-1.04zM20 15h1.04v1.04h-1.04zM18 16h1.04v1.04h-1.04zM17 17h1.04v1.04h-1.04zM32 17h1.04v1.04h-1.04zM33 17h1.04v1.04h-1.04zM16 19h1.04v1.04h-1.04zM16 20h1.04v1.04h-1.04zM16 21h1.04v1.04h-1.04zM15 24h1.04v1.04h-1.04zM35 26h1.04v1.04h-1.04zM15 27h1.04v1.04h-1.04zM16 30h1.04v1.04h-1.04zM16 31h1.04v1.04h-1.04zM33 33h1.04v1.04h-1.04zM18 34h1.04v1.04h-1.04zM30 35h1.04v1.04h-1.04zM31 35h1.04v1.04h-1.04zM23 36h1.04v1.04h-1.04zM26 36h1.04v1.04h-1.04zM28 36h1.04v1.04h-1.04z" fill="#fee6ce"/>
<path d="M25 14h1.04v1.04h-1.04zM29 15h1.04v1.04h-1.04zM30 15h1.04v1.04h-1.04zM31 16h1.04v1.04h-1.04zM17 18h1.04v1.04h-1.04zM34 20h1.04v1.04h-1.04zM34 21h1.04v1.04h-1.04zM34 22h1.04v1.04h-1.04zM16 23h1.04v1.04h-1.04zM34 23h1.04v1.04h-1.04zM34 24h1.04v1.04h-1.04zM16 26h1.04v1.04h-1.04zM34 26h1.04v1.04h-1.04zM16 27h1.04v1.04h-1.04zM34 27h1.04v1.04h-1.04zM16 28h1.04v1.04h-1.04zM34 28h1.04v1.04h-1.04zM16 29h1.04v1.04h-1.04zM34 30h1.04v1.04h-1.04zM17 32h1.04v1.04h-1.04zM33 32h1.04v1.04h-1.04zM32 33h1.04v1.04h-1.04zM31 34h1.04v1.04h-1.04zM20 35h1.04v1.04h-1.04zM21 35h1.04v1.04h-1.04zM24 36h1.04v1.04h-1.04zM25 36h1.04v1.04h-1.04z" fill="#fee2c6"/>
<path d="M21 15h1.04v1.04h-1.04zM22 15h1.04v1.04h-1.04zM19 16h1.04v1.04h-1.04zM18 17h1.04v1.04h-1.04zM32 18h1.04v1.04h-1.04zM33 18h1.04v1.04h-1.04zM17 19h1.04v1.04h-1.04zM16 22h1.04v1.04h-1.04zM16 24h1.04v1.04h-1.04zM16 25h1.04v1.04h-1.04zM34 25h1.04v1.04h-1.04zM34 29h1.04v1.04h-1.04zM17 30h1.04v1.04h-1.04zM17 31h1.04v1.04h-1.04zM33 31h1.04v1.04h-1.04zM32 32h1.04v1.04h-1.04zM18 33h1.04v1.04h-1.04zM19 34h1.04v1.04h-1.04zM20 34h1.04v1.04h-1.04zM22 35h1.04v1.04h-1.04zM27 35h1.04v1.04h-1.04zM29 35h1.04v1.04h-1.04z" fill="#fedebd"/>
<path d="M23 15h1.04v1.04h-1.04zM27 15h1.04v1.04h-1.04zM28 15h1.04v1.04h-1.04zM20 16h1.04v1.04h-1.04zM30 16h1.04v1.04h-1.04zM19 17h1.04v1.04h-1.04zM31 17h1.04v1.04h-1.04zM33 19h1.04v1.04h-1.04zM17 20h1.04v1.04h-1.04zM33 20h1.04v1.04h-1.04zM33 21h1.04v1.04h-1.04zM33 22h1.04v1.04h-1.04zM17 26h1.04v1.04h-1.04zM17 29h1.04v1.04h-1.04zM33 29h1.04v1.04h-1.04zM33 30h1.04v1.04h-1.04zM31 33h1.04v1.04h-1.04zM30 34h1.04v1.04h-1.04zM26 35h1.04v1.04h-1.04zM28 35h1.04v1.04h-1.04z" fill="#fdd9b4"/>
<path d="M24 15h1.04v1.04h-1.04zM26 15h1.04v1.04h-1.04zM29 16h1.04v1.04h-1.04zM18 18h1.04v1.04h-1.04zM17 21h1.04v1.04h-1.04zM17 24h1.04v1.04h-1.04zM17 25h1.04v1.04h-1.04zM33 25h1.04v1.04h-1.04zM17 28h1.04v1.04h-1.04zM18 32h1.04v1.04h-1.04zM19 33h1.04v1.04h-1.04zM30 33h1.04v1.04h-1.04zM21 34h1.04v1.04h-1.04zM29 34h1.04v1.04h-1.04zM23 35h1.04v1.04h-1.04zM25 35h1.04v1.04h-1.04z" fill="#fdd5ab"/>
<path d="M21 16h1.04v1.04h-1.04zM28 16h1.04v1.04h-1.04zM31 18h1.04v1.04h-1.04zM32 19h1.04v1.04h-1.04zM17 22h1.04v1.04h-1.04zM17 23h1.04v1.04h-1.04zM33 23h1.04v1.04h-1.04zM33 24h1.04v1.04h-1.04zM33 26h1.04v1.04h-1.04zM17 27h1.04v1.04h-1.04zM33 27h1.04v1.04h-1.04zM33 28h1.04v1.04h-1.04zM32 30h1.04v1.04h-1.04zM18 31h1.04v1.04h-1.04zM32 31h1.04v1.04h-1.04zM31 32h1.04v1.04h-1.04zM20 33h1.04v1.04h-1.04zM24 35h1.04v1.04h-1.04z" fill="#fdd0a2"/>
<path d="M25 15h1.04v1.04h-1.04zM22 16h1.04v1.04h-1.04zM20 17h1.04v1.04h-1.04zM21 17h1.04v1.04h-1.04zM30 17h1.04v1.04h-1.04zM18 19h1.04v1.04h-1.04zM32 25h1.04v1.04h-1.04zM32 29h1.04v1.04h-1.04zM18 30h1.04v1.04h-1.04zM19 32h1.04v1.04h-1.04zM22 34h1.04v1.04h-1.04zM25 34h1.04v1.04h-1.04zM28 34h1.04v1.04h-1.04z" fill="#fdc997"/>
<path d="M23 16h1.04v1.04h-1.04zM19 18h1.04v1.04h-1.04zM19 19h1.04v1.04h-1.04zM18 20h1.04v1.04h-1.04zM32 20h1.04v1.04h-1.04zM18 21h1.04v1.04h-1.04zM18 22h1.04v1.04h-1.04zM32 24h1.04v1.04h-1.04zM32 26h1.04v1.04h-1.04zM18 27h1.04v1.04h-1.04zM18 29h1.04v1.04h-1.04zM31 31h1.04v1.04h-1.04zM27 34h1.04v1.04h-1.04z" fill="#fdc38d"/>
<path d="M24 16h1.04v1.04h-1.04zM26 16h1.04v1.04h-1.04zM29 17h1.04v1.04h-1.04zM30 18h1.04v1.04h-1.04zM19 20h1.04v1.04h-1.04zM32 21h1.04v1.04h-1.04zM32 22h1.04v1.04h-1.04zM18 23h1.04v1.04h-1.04zM32 23h1.04v1.04h-1.04zM18 24h1.04v1.04h-1.04zM18 25h1.04v1.04h-1.04zM18 26h1.04v1.04h-1.04zM18 28h1.04v1.04h-1.04zM32 28h1.04v1.04h-1.04zM31 29h1.04v1.04h-1.04zM19 31h1.04v1.04h-1.04zM29 33h1.04v1.04h-1.04zM23 34h1.04v1.04h-1.04zM26 34h1.04v1.04h-1.04z" fill="#fdbb81"/>
<path d="M25 16h1.04v1.04h-1.04zM27 16h1.04v1.04h-1.04zM28 17h1.04v1.04h-1.04zM20 18h1.04v1.04h-1.04zM21 18h1.04v1.04h-1.04zM31 19h1.04v1.04h-1.04zM19 30h1.04v1.04h-1.04zM31 30h1.04v1.04h-1.04zM20 32h1.04v1.04h-1.04zM30 32h1.04v1.04h-1.04zM21 33h1.04v1.04h-1.04zM27 33h1.04v1.04h-1.04zM28 33h1.04v1.04h-1.04z" fill="#fdb576"/>
<path d="M20 19h1.04v1.04h-1.04zM30 19h1.04v1.04h-1.04zM31 20h1.04v1.04h-1.04zM19 21h1.04v1.04h-1.04zM31 21h1.04v1.04h-1.04zM31 22h1.04v1.04h-1.04zM32 27h1.04v1.04h-1.04zM19 28h1.04v1.04h-1.04zM31 28h1.04v1.04h-1.04zM21 32h1.04v1.04h-1.04zM22 33h1.04v1.04h-1.04zM24 34h1.04v1.04h-1.04z" fill="#fdae6a"/>
<path d="M19 22h1.04v1.04h-1.04zM31 25h1.04v1.04h-1.04zM19 26h1.04v1.04h-1.04zM31 26h1.04v1.04h-1.04zM31 27h1.04v1.04h-1.04zM19 29h1.04v1.04h-1.04zM20 31h1.04v1.04h-1.04z" fill="#fda762"/>
<path d="M22 17h1.04v1.04h-1.04zM28 18h1.04v1.04h-1.04zM19 23h1.04v1.04h-1.04zM31 24h1.04v1.04h-1.04zM20 26h1.04v1.04h-1.04zM19 27h1.04v1.04h-1.04zM20 28h1.04v1.04h-1.04zM20 30h1.04v1.04h-1.04z" fill="#fda159"/>
<path d="M23 17h1.04v1.04h-1.04zM27 17h1.04v1.04h-1.04zM29 18h1.04v1.04h-1.04zM19 25h1.04v1.04h-1.04zM30 28h1.04v1.04h-1.04zM30 31h1.04v1.04h-1.04zM23 33h1.04v1.04h-1.04z" fill="#fd9a4e"/>
<path d="M25 17h1.04v1.04h-1.04zM20 20h1.04v1.04h-1.04zM29 20h1.04v1.04h-1.04zM30 20h1.04v1.04h-1.04zM30 21h1.04v1.04h-1.04zM20 22h1.04v1.04h-1.04zM31 23h1.04v1.04h-1.04zM19 24h1.04v1.04h-1.04zM30 27h1.04v1.04h-1.04zM30 30h1.04v1.04h-1.04zM29 31h1.04v1.04h-1.04zM28 32h1.04v1.04h-1.04zM24 33h1.04v1.04h-1.04zM25 33h1.04v1.04h-1.04z" fill="#fd9446"/>
<path d="M24 17h1.04v1.04h-1.04zM26 17h1.04v1.04h-1.04zM21 19h1.04v1.04h-1.04zM21 20h1.04v1.04h-1.04zM30 22h1.04v1.04h-1.04zM20 23h1.04v1.04h-1.04zM30 25h1.04v1.04h-1.04zM22 32h1.04v1.04h-1.04zM27 32h1.04v1.04h-1.04zM29 32h1.04v1.04h-1.04z" fill="#fd8c3b"/>
<path d="M23 18h1.04v1.04h-1.04zM22 19h1.04v1.04h-1.04zM29 19h1.04v1.04h-1.04zM20 21h1.04v1.04h-1.04zM20 29h1.04v1.04h-1.04zM30 29h1.04v1.04h-1.04zM29 30h1.04v1.04h-1.04zM26 33h1.04v1.04h-1.04z" fill="#fb8634"/>
<path d="M22 18h1.04v1.04h-1.04zM27 18h1.04v1.04h-1.04zM28 19h1.04v1.04h-1.04zM30 23h1.04v1.04h-1.04zM30 24h1.04v1.04h-1.04zM30 26h1.04v1.04h-1.04zM29 28h1.04v1.04h-1.04zM22 29h1.04v1.04h-1.04zM21 30h1.04v1.04h-1.04zM21 31h1.04v1.04h-1.04zM23 32h1.04v1.04h-1.04z" fill="#f87f2c"/>
<path d="M24 18h1.04v1.04h-1.04zM25 18h1.04v1.04h-1.04zM26 18h1.04v1.04h-1.04zM21 21h1.04v1.04h-1.04zM20 24h1.04v1.04h-1.04zM20 25h1.04v1.04h-1.04zM29 26h1.04v1.04h-1.04zM20 27h1.04v1.04h-1.04zM22 31h1.04v1.04h-1.04zM25 32h1.04v1.04h-1.04zM26 32h1.04v1.04h-1.04z" fill="#f67723"/>
<path d="M21 23h1.04v1.04h-1.04zM29 23h1.04v1.04h-1.04zM21 24h1.04v1.04h-1.04zM28 31h1.04v1.04h-1.04zM24 32h1.04v1.04h-1.04z" fill="#f3701b"/>
<path d="M27 19h1.04v1.04h-1.04zM21 22h1.04v1.04h-1.04zM21 27h1.04v1.04h-1.04zM21 29h1.04v1.04h-1.04zM28 30h1.04v1.04h-1.04z" fill="#f16813"/>
<path d="M23 19h1.04v1.04h-1.04zM24 19h1.04v1.04h-1.04zM25 19h1.04v1.04h-1.04zM22 20h1.04v1.04h-1.04zM28 20h1.04v1.04h-1.04zM22 21h1.04v1.04h-1.04zM29 21h1.04v1.04h-1.04zM29 22h1.04v1.04h-1.04zM29 27h1.04v1.04h-1.04zM29 29h1.04v1.04h-1.04zM23 31h1.04v1.04h-1.04zM25 31h1.04v1.04h-1.04zM27 31h1.04v1.04h-1.04z" fill="#ec620f"/>
<path d="M22 23h1.04v1.04h-1.04zM21 25h1.04v1.04h-1.04zM21 26h1.04v1.04h-1.04zM21 28h1.04v1.04h-1.04zM22 30h1.04v1.04h-1.04zM23 30h1.04v1.04h-1.04z" fill="#e75c0c"/>
<path d="M23 20h1.04v1.04h-1.04zM28 21h1.04v1.04h-1.04zM22 22h1.04v1.04h-1.04zM29 25h1.04v1.04h-1.04zM28 28h1.04v1.04h-1.04zM24 31h1.04v1.04h-1.04z" fill="#e25508"/>
<path d="M26 19h1.04v1.04h-1.04zM28 23h1.04v1.04h-1.04zM22 28h1.04v1.04h-1.04zM26 29h1.04v1.04h-1.04z" fill="#de4e05"/>
<path d="M22 24h1.04v1.04h-1.04zM29 24h1.04v1.04h-1.04zM26 28h1.04v1.04h-1.04zM23 29h1.04v1.04h-1.04zM28 29h1.04v1.04h-1.04zM26 30h1.04v1.04h-1.04z" fill="#d84801"/>
<path d="M27 20h1.04v1.04h-1.04zM27 22h1.04v1.04h-1.04zM28 22h1.04v1.04h-1.04zM23 25h1.04v1.04h-1.04zM28 25h1.04v1.04h-1.04zM22 27h1.04v1.04h-1.04zM28 27h1.04v1.04h-1.04z" fill="#ce4401"/>
<path d="M27 21h1.04v1.04h-1.04zM26 23h1.04v1.04h-1.04zM28 24h1.04v1.04h-1.04zM22 26h1.04v1.04h-1.04zM24 26h1.04v1.04h-1.04zM28 26h1.04v1.04h-1.04zM23 28h1.04v1.04h-1.04zM27 28h1.04v1.04h-1.04zM27 29h1.04v1.04h-1.04zM24 30h1.04v1.04h-1.04zM27 30h1.04v1.04h-1.04z" fill="#c54102"/>
<path d="M26 20h1.04v1.04h-1.04zM23 21h1.04v1.04h-1.04zM23 22h1.04v1.04h-1.04zM23 23h1.04v1.04h-1.04zM27 23h1.04v1.04h-1.04zM22 25h1.04v1.04h-1.04zM26 25h1.04v1.04h-1.04zM23 26h1.04v1.04h-1.04zM26 26h1.04v1.04h-1.04zM27 26h1.04v1.04h-1.04zM26 31h1.04v1.04h-1.04z" fill="#b93d02"/>
<path d="M24 20h1.04v1.04h-1.04zM26 21h1.04v1.04h-1.04zM23 27h1.04v1.04h-1.04zM24 28h1.04v1.04h-1.04zM25 30h1.04v1.04h-1.04z" fill="#b03903"/>
<path d="M25 20h1.04v1.04h-1.04zM25 22h1.04v1.04h-1.04zM25 23h1.04v1.04h-1.04zM24 29h1.04v1.04h-1.04zM25 29h1.04v1.04h-1.04z" fill="#a53603"/>
<path d="M26 22h1.04v1.04h-1.04zM27 25h1.04v1.04h-1.04zM25 26h1.04v1.04h-1.04zM26 27h1.04v1.04h-1.04z" fill="#9e3303"/>
<path d="M24 21h1.04v1.04h-1.04zM26 24h1.04v1.04h-1.04zM27 24h1.04v1.04h-1.04zM25 27h1.04v1.04h-1.04z" fill="#963003"/>
<path d="M25 21h1.04v1.04h-1.04zM24 22h1.04v1.04h-1.04zM24 23h1.04v1.04h-1.04zM23 24h1.04v1.04h-1.04zM24 27h1.04v1.04h-1.04zM27 27h1.04v1.04h-1.04z" fill="#8e2d04"/>
<path d="M25 24h1.04v1.04h-1.04zM24 25h1.04v1.04h-1.04zM25 28h1.04v1.04h-1.04z" fill="#862a04"/>
<path d="M24 24h1.04v1.04h-1.04zM25 25h1.04v1.04h-1.04z" fill="#7f2704"/>
</g>
<rect x="1328.35" y="925.9" width="391.5" height="337.6" fill="#fff5eb"/>
<g transform="translate(1328.35 925.9) scale(7.67647 6.61961)">
<path d="M22 10h1.04v1.04h-1.04zM23 10h1.04v1.04h-1.04zM24 10h1.04v1.04h-1.04zM25 10h1.04v1.04h-1.04zM26 10h1.04v1.04h-1.04zM27 10h1.04v1.04h-1.04zM28 10h1.04v1.04h-1.04zM19 11h1.04v1.04h-1.04zM20 11h1.04v1.04h-1.04zM21 11h1.04v1.04h-1.04zM22 11h1.04v1.04h-1.04zM23 11h1.04v1.04h-1.04zM24 11h1.04v1.04h-1.04zM25 11h1.04v1.04h-1.04zM26 11h1.04v1.04h-1.04zM27 11h1.04v1.04h-1.04zM28 11h1.04v1.04h-1.04zM29 11h1.04v1.04h-1.04zM30 11h1.04v1.04h-1.04zM18 12h1.04v1.04h-1.04zM19 12h1.04v1.04h-1.04zM20 12h1.04v1.04h-1.04zM21 12h1.04v1.04h-1.04zM29 12h1.04v1.04h-1.04zM30 12h1.04v1.04h-1.04zM31 12h1.04v1.04h-1.04zM32 12h1.04v1.04h-1.04zM33 12h1.04v1.04h-1.04zM17 13h1.04v1.04h-1.04zM18 13h1.04v1.04h-1.04zM19 13h1.04v1.04h-1.04zM31 13h1.04v1.04h-1.04zM32 13h1.04v1.04h-1.04zM33 13h1.04v1.04h-1.04zM34 13h1.04v1.04h-1.04zM15 14h1.04v1.04h-1.04zM16 14h1.04v1.04h-1.04zM17 14h1.04v1.04h-1.04zM32 14h1.04v1.04h-1.04zM33 14h1.04v1.04h-1.04zM34 14h1.04v1.04h-1.04zM35 14h1.04v1.04h-1.04zM15 15h1.04v1.04h-1.04zM16 15h1.04v1.04h-1.04zM34 15h1.04v1.04h-1.04zM35 15h1.04v1.04h-1.04zM14 16h1.04v1.04h-1.04zM15 16h1.04v1.04h-1.04zM35 16h1.04v1.04h-1.04zM36 16h1.04v1.04h-1.04zM13 17h1.04v1.04h-1.04zM14 17h1.04v1.04h-1.04zM35 17h1.04v1.04h-1.04zM36 17h1.04v1.04h-1.04zM37 17h1.04v1.04h-1.04zM13 18h1.04v1.04h-1.04zM14 18h1.04v1.04h-1.04zM36 18h1.04v1.04h-1.04zM37 18h1.04v1.04h-1.04zM12 19h1.04v1.04h-1.04zM13 19h1.04v1.04h-1.04zM37 19h1.04v1.04h-1.04zM38 19h1.04v1.04h-1.04zM12 20h1.04v1.04h-1.04zM13 20h1.04v1.04h-1.04zM37 20h1.04v1.04h-1.04zM38 20h1.04v1.04h-1.04zM11 21h1.04v1.04h-1.04zM12 21h1.04v1.04h-1.04zM37 21h1.04v1.04h-1.04zM38 21h1.04v1.04h-1.04zM11 22h1.04v1.04h-1.04zM12 22h1.04v1.04h-1.04zM38 22h1.04v1.04h-1.04zM39 22h1.04v1.04h-1.04zM11 23h1.04v1.04h-1.04zM12 23h1.04v1.04h-1.04zM38 23h1.04v1.04h-1.04zM39 23h1.04v1.04h-1.04zM11 24h1.04v1.04h-1.04zM12 24h1.04v1.04h-1.04zM38 24h1.04v1.04h-1.04zM39 24h1.04v1.04h-1.04zM11 25h1.04v1.04h-1.04zM12 25h1.04v1.04h-1.04zM38 25h1.04v1.04h-1.04zM39 25h1.04v1.04h-1.04zM11 26h1.04v1.04h-1.04zM12 26h1.04v1.04h-1.04zM38 26h1.04v1.04h-1.04zM39 26h1.04v1.04h-1.04zM11 27h1.04v1.04h-1.04zM12 27h1.04v1.04h-1.04zM38 27h1.04v1.04h-1.04zM39 27h1.04v1.04h-1.04zM11 28h1.04v1.04h-1.04zM12 28h1.04v1.04h-1.04zM38 28h1.04v1.04h-1.04zM11 29h1.04v1.04h-1.04zM12 29h1.04v1.04h-1.04zM13 29h1.04v1.04h-1.04zM38 29h1.04v1.04h-1.04zM39 29h1.04v1.04h-1.04zM12 30h1.04v1.04h-1.04zM13 30h1.04v1.04h-1.04zM37 30h1.04v1.04h-1.04zM38 30h1.04v1.04h-1.04zM12 31h1.04v1.04h-1.04zM13 31h1.04v1.04h-1.04zM36 31h1.04v1.04h-1.04zM37 31h1.04v1.04h-1.04zM38 31h1.04v1.04h-1.04zM13 32h1.04v1.04h-1.04zM14 32h1.04v1.04h-1.04zM36 32h1.04v1.04h-1.04zM37 32h1.04v1.04h-1.04zM13 33h1.04v1.04h-1.04zM14 33h1.04v1.04h-1.04zM15 33h1.04v1.04h-1.04zM35 33h1.04v1.04h-1.04zM36 33h1.04v1.04h-1.04zM37 33h1.04v1.04h-1.04zM14 34h1.04v1.04h-1.04zM15 34h1.04v1.04h-1.04zM35 34h1.04v1.04h-1.04zM36 34h1.04v1.04h-1.04zM37 34h1.04v1.04h-1.04zM14 35h1.04v1.04h-1.04zM15 35h1.04v1.04h-1.04zM16 35h1.04v1.04h-1.04zM34 35h1.04v1.04h-1.04zM35 35h1.04v1.04h-1.04zM36 35h1.04v1.04h-1.04zM15 36h1.04v1.04h-1.04zM16 36h1.04v1.04h-1.04zM17 36h1.04v1.04h-1.04zM33 36h1.04v1.04h-1.04zM34 36h1.04v1.04h-1.04zM35 36h1.04v1.04h-1.04zM16 37h1.04v1.04h-1.04zM17 37h1.04v1.04h-1.04zM18 37h1.04v1.04h-1.04zM19 37h1.04v1.04h-1.04zM31 37h1.04v1.04h-1.04zM32 37h1.04v1.04h-1.04zM33 37h1.04v1.04h-1.04zM34 37h1.04v1.04h-1.04zM18 38h1.04v1.04h-1.04zM19 38h1.04v1.04h-1.04zM20 38h1.04v1.04h-1.04zM21 38h1.04v1.04h-1.04zM22 38h1.04v1.04h-1.04zM29 38h1.04v1.04h-1.04zM30 38h1.04v1.04h-1.04zM31 38h1.04v1.04h-1.04zM32 38h1.04v1.04h-1.04zM33 38h1.04v1.04h-1.04zM19 39h1.04v1.04h-1.04zM20 39h1.04v1.04h-1.04zM21 39h1.04v1.04h-1.04zM22 39h1.04v1.04h-1.04zM23 39h1.04v1.04h-1.04zM24 39h1.04v1.04h-1.04zM25 39h1.04v1.04h-1.04zM26 39h1.04v1.04h-1.04zM27 39h1.04v1.04h-1.04zM28 39h1.04v1.04h-1.04zM29 39h1.04v1.04h-1.04zM30 39h1.04v1.04h-1.04zM31 39h1.04v1.04h-1.04zM22 40h1.04v1.04h-1.04zM23 40h1.04v1.04h-1.04zM24 40h1.04v1.04h-1.04zM25 40h1.04v1.04h-1.04zM26 40h1.04v1.04h-1.04zM27 40h1.04v1.04h-1.04zM28 40h1.04v1.04h-1.04zM29 40h1.04v1.04h-1.04z" fill="#fff2e6"/>
<path d="M22 12h1.04v1.04h-1.04zM23 12h1.04v1.04h-1.04zM24 12h1.04v1.04h-1.04zM25 12h1.04v1.04h-1.04zM26 12h1.04v1.04h-1.04zM27 12h1.04v1.04h-1.04zM28 12h1.04v1.04h-1.04zM20 13h1.04v1.04h-1.04zM21 13h1.04v1.04h-1.04zM22 13h1.04v1.04h-1.04zM23 13h1.04v1.04h-1.04zM28 13h1.04v1.04h-1.04zM29 13h1.04v1.04h-1.04zM30 13h1.04v1.04h-1.04zM18 14h1.04v1.04h-1.04zM19 14h1.04v1.04h-1.04zM20 14h1.04v1.04h-1.04zM31 14h1.04v1.04h-1.04zM17 15h1.04v1.04h-1.04zM18 15h1.04v1.04h-1.04zM32 15h1.04v1.04h-1.04zM33 15h1.04v1.04h-1.04zM16 16h1.04v1.04h-1.04zM17 16h1.04v1.04h-1.04zM34 16h1.04v1.04h-1.04zM15 17h1.04v1.04h-1.04zM16 17h1.04v1.04h-1.04zM34 17h1.04v1.04h-1.04zM15 18h1.04v1.04h-1.04zM16 18h1.04v1.04h-1.04zM35 18h1.04v1.04h-1.04zM14 19h1.04v1.04h-1.04zM36 19h1.04v1.04h-1.04zM14 20h1.04v1.04h-1.04zM15 20h1.04v1.04h-1.04zM36 20h1.04v1.04h-1.04zM13 21h1.04v1.04h-1.04zM14 21h1.04v1.04h-1.04zM36 21h1.04v1.04h-1.04zM13 22h1.04v1.04h-1.04zM37 22h1.04v1.04h-1.04zM13 23h1.04v1.04h-1.04zM37 23h1.04v1.04h-1.04zM13 24h1.04v1.04h-1.04zM37 24h1.04v1.04h-1.04zM13 25h1.04v1.04h-1.04zM37 25h1.04v1.04h-1.04zM13 26h1.04v1.04h-1.04zM37 26h1.04v1.04h-1.04zM13 27h1.04v1.04h-1.04zM37 27h1.04v1.04h-1.04zM13 28h1.04v1.04h-1.04zM37 28h1.04v1.04h-1.04zM36 29h1.04v1.04h-1.04zM37 29h1.04v1.04h-1.04zM14 30h1.04v1.04h-1.04zM36 30h1.04v1.04h-1.04zM14 31h1.04v1.04h-1.04zM15 31h1.04v1.04h-1.04zM35 31h1.04v1.04h-1.04zM15 32h1.04v1.04h-1.04zM34 32h1.04v1.04h-1.04zM35 32h1.04v1.04h-1.04zM16 33h1.04v1.04h-1.04zM34 33h1.04v1.04h-1.04zM16 34h1.04v1.04h-1.04zM17 34h1.04v1.04h-1.04zM33 34h1.04v1.04h-1.04zM34 34h1.04v1.04h-1.04zM17 35h1.04v1.04h-1.04zM18 35h1.04v1.04h-1.04zM32 35h1.04v1.04h-1.04zM33 35h1.04v1.04h-1.04zM18 36h1.04v1.04h-1.04zM19 36h1.04v1.04h-1.04zM20 36h1.04v1.04h-1.04zM30 36h1.04v1.04h-1.04zM31 36h1.04v1.04h-1.04zM32 36h1.04v1.04h-1.04zM20 37h1.04v1.04h-1.04zM21 37h1.04v1.04h-1.04zM22 37h1.04v1.04h-1.04zM23 37h1.04v1.04h-1.04zM27 37h1.04v1.04h-1.04zM29 37h1.04v1.04h-1.04zM30 37h1.04v1.04h-1.04zM23 38h1.04v1.04h-1.04zM24 38h1.04v1.04h-1.04zM25 38h1.04v1.04h-1.04zM26 38h1.04v1.04h-1.04zM27 38h1.04v1.04h-1.04zM28 38h1.04v1.04h-1.04z" fill="#ffefe0"/>
<path d="M24 13h1.04v1.04h-1.04zM25 13h1.04v1.04h-1.04zM26 13h1.04v1.04h-1.04zM27 13h1.04v1.04h-1.04zM21 14h1.04v1.04h-1.04zM28 14h1.04v1.04h-1.04zM29 14h1.04v1.04h-1.04zM30 14h1.04v1.04h-1.04zM19 15h1.04v1.04h-1.04zM31 15h1.04v1.04h-1.04zM18 16h1.04v1.04h-1.04zM32 16h1.04v1.04h-1.04zM33 16h1.04v1.04h-1.04zM17 17h1.04v1.04h-1.04zM34 18h1.04v1.04h-1.04zM15 19h1.04v1.04h-1.04zM35 19h1.04v1.04h-1.04zM35 20h1.04v1.04h-1.04zM35 21h1.04v1.04h-1.04zM14 22h1.04v1.04h-1.04zM36 22h1.04v1.04h-1.04zM14 23h1.04v1.04h-1.04zM36 23h1.04v1.04h-1.04zM14 24h1.04v1.04h-1.04zM36 24h1.04v1.04h-1.04zM14 25h1.04v1.04h-1.04zM36 25h1.04v1.04h-1.04zM14 26h1.04v1.04h-1.04zM36 26h1.04v1.04h-1.04zM14 27h1.04v1.04h-1.04zM36 27h1.04v1.04h-1.04zM14 28h1.04v1.04h-1.04zM36 28h1.04v1.04h-1.04zM14 29h1.04v1.04h-1.04zM15 29h1.04v1.04h-1.04zM35 29h1.04v1.04h-1.04zM15 30h1.04v1.04h-1.04zM35 30h1.04v1.04h-1.04zM16 32h1.04v1.04h-1.04zM17 33h1.04v1.04h-1.04zM33 33h1.04v1.04h-1.04zM18 34h1.04v1.04h-1.04zM32 34h1.04v1.04h-1.04zM19 35h1.04v1.04h-1.04zM31 35h1.04v1.04h-1.04zM21 36h1.04v1.04h-1.04zM29 36h1.04v1.04h-1.04zM24 37h1.04v1.04h-1.04zM25 37h1.04v1.04h-1.04zM26 37h1.04v1.04h-1.04zM28 37h1.04v1.04h-1.04z" fill="#feecda"/>
<path d="M22 14h1.04v1.04h-1.04zM23 14h1.04v1.04h-1.04zM24 14h1.04v1.04h-1.04zM26 14h1.04v1.04h-1.04zM27 14h1.04v1.04h-1.04zM20 15h1.04v1.04h-1.04zM21 15h1.04v1.04h-1.04zM29 15h1.04v1.04h-1.04zM30 15h1.04v1.04h-1.04zM19 16h1.04v1.04h-1.04zM33 17h1.04v1.04h-1.04zM17 18h1.04v1.04h-1.04zM33 18h1.04v1.04h-1.04zM16 19h1.04v1.04h-1.04zM34 19h1.04v1.04h-1.04zM34 20h1.04v1.04h-1.04zM15 21h1.04v1.04h-1.04zM15 22h1.04v1.04h-1.04zM35 22h1.04v1.04h-1.04zM15 23h1.04v1.04h-1.04zM35 23h1.04v1.04h-1.04zM15 27h1.04v1.04h-1.04zM35 27h1.04v1.04h-1.04zM15 28h1.04v1.04h-1.04zM35 28h1.04v1.04h-1.04zM34 30h1.04v1.04h-1.04zM16 31h1.04v1.04h-1.04zM34 31h1.04v1.04h-1.04zM17 32h1.04v1.04h-1.04zM18 33h1.04v1.04h-1.04zM32 33h1.04v1.04h-1.04zM19 34h1.04v1.04h-1.04zM31 34h1.04v1.04h-1.04zM20 35h1.04v1.04h-1.04zM30 35h1.04v1.04h-1.04zM22 36h1.04v1.04h-1.04zM23 36h1.04v1.04h-1.04zM24 36h1.04v1.04h-1.04zM26 36h1.04v1.04h-1.04zM27 36h1.04v1.04h-1.04zM28 36h1.04v1.04h-1.04z" fill="#fee9d4"/>
<path d="M25 14h1.04v1.04h-1.04zM22 15h1.04v1.04h-1.04zM28 15h1.04v1.04h-1.04zM31 16h1.04v1.04h-1.04zM18 17h1.04v1.04h-1.04zM19 17h1.04v1.04h-1.04zM31 17h1.04v1.04h-1.04zM32 17h1.04v1.04h-1.04zM18 18h1.04v1.04h-1.04zM33 19h1.04v1.04h-1.04zM16 20h1.04v1.04h-1.04zM15 24h1.04v1.04h-1.04zM35 24h1.04v1.04h-1.04zM15 25h1.04v1.04h-1.04zM35 25h1.04v1.04h-1.04zM15 26h1.04v1.04h-1.04zM35 26h1.04v1.04h-1.04zM34 29h1.04v1.04h-1.04zM16 30h1.04v1.04h-1.04zM17 31h1.04v1.04h-1.04zM33 31h1.04v1.04h-1.04zM33 32h1.04v1.04h-1.04zM19 33h1.04v1.04h-1.04zM31 33h1.04v1.04h-1.04zM20 34h1.04v1.04h-1.04zM30 34h1.04v1.04h-1.04zM21 35h1.04v1.04h-1.04zM22 35h1.04v1.04h-1.04zM28 35h1.04v1.04h-1.04zM29 35h1.04v1.04h-1.04zM25 36h1.04v1.04h-1.04z" fill="#fee6ce"/>
<path d="M23 15h1.04v1.04h-1.04zM24 15h1.04v1.04h-1.04zM27 15h1.04v1.04h-1.04zM20 16h1.04v1.04h-1.04zM21 16h1.04v1.04h-1.04zM29 16h1.04v1.04h-1.04zM30 16h1.04v1.04h-1.04zM32 18h1.04v1.04h-1.04zM17 19h1.04v1.04h-1.04zM17 20h1.04v1.04h-1.04zM33 20h1.04v1.04h-1.04zM16 21h1.04v1.04h-1.04zM34 21h1.04v1.04h-1.04zM34 22h1.04v1.04h-1.04zM34 28h1.04v1.04h-1.04zM16 29h1.04v1.04h-1.04zM18 32h1.04v1.04h-1.04zM32 32h1.04v1.04h-1.04zM21 34h1.04v1.04h-1.04zM23 35h1.04v1.04h-1.04zM24 35h1.04v1.04h-1.04zM25 35h1.04v1.04h-1.04zM27 35h1.04v1.04h-1.04z" fill="#fee2c6"/>
<path d="M25 15h1.04v1.04h-1.04zM26 15h1.04v1.04h-1.04zM28 16h1.04v1.04h-1.04zM19 18h1.04v1.04h-1.04zM18 19h1.04v1.04h-1.04zM33 21h1.04v1.04h-1.04zM16 22h1.04v1.04h-1.04zM16 23h1.04v1.04h-1.04zM34 23h1.04v1.04h-1.04zM16 24h1.04v1.04h-1.04zM16 25h1.04v1.04h-1.04zM34 25h1.04v1.04h-1.04zM34 26h1.04v1.04h-1.04zM16 27h1.04v1.04h-1.04zM16 28h1.04v1.04h-1.04zM17 30h1.04v1.04h-1.04zM33 30h1.04v1.04h-1.04zM18 31h1.04v1.04h-1.04zM32 31h1.04v1.04h-1.04zM30 33h1.04v1.04h-1.04zM29 34h1.04v1.04h-1.04zM26 35h1.04v1.04h-1.04z" fill="#fedebd"/>
<path d="M22 16h1.04v1.04h-1.04zM23 16h1.04v1.04h-1.04zM27 16h1.04v1.04h-1.04zM20 17h1.04v1.04h-1.04zM30 17h1.04v1.04h-1.04zM31 18h1.04v1.04h-1.04zM17 21h1.04v1.04h-1.04zM33 22h1.04v1.04h-1.04zM34 24h1.04v1.04h-1.04zM16 26h1.04v1.04h-1.04zM17 26h1.04v1.04h-1.04zM34 27h1.04v1.04h-1.04zM33 28h1.04v1.04h-1.04zM17 29h1.04v1.04h-1.04zM32 30h1.04v1.04h-1.04zM19 32h1.04v1.04h-1.04zM20 32h1.04v1.04h-1.04zM31 32h1.04v1.04h-1.04zM20 33h1.04v1.04h-1.04zM23 34h1.04v1.04h-1.04zM25 34h1.04v1.04h-1.04zM28 34h1.04v1.04h-1.04z" fill="#fdd9b4"/>
<path d="M24 16h1.04v1.04h-1.04zM25 16h1.04v1.04h-1.04zM26 16h1.04v1.04h-1.04zM21 17h1.04v1.04h-1.04zM22 17h1.04v1.04h-1.04zM29 17h1.04v1.04h-1.04zM32 19h1.04v1.04h-1.04zM18 20h1.04v1.04h-1.04zM17 22h1.04v1.04h-1.04zM17 24h1.04v1.04h-1.04zM33 24h1.04v1.04h-1.04zM17 27h1.04v1.04h-1.04zM33 27h1.04v1.04h-1.04zM17 28h1.04v1.04h-1.04zM33 29h1.04v1.04h-1.04zM18 30h1.04v1.04h-1.04zM31 31h1.04v1.04h-1.04zM30 32h1.04v1.04h-1.04zM21 33h1.04v1.04h-1.04zM28 33h1.04v1.04h-1.04zM29 33h1.04v1.04h-1.04zM22 34h1.04v1.04h-1.04zM27 34h1.04v1.04h-1.04z" fill="#fdd5ab"/>
<path d="M20 18h1.04v1.04h-1.04zM30 18h1.04v1.04h-1.04zM19 19h1.04v1.04h-1.04zM18 21h1.04v1.04h-1.04zM32 21h1.04v1.04h-1.04zM17 23h1.04v1.04h-1.04zM33 23h1.04v1.04h-1.04zM17 25h1.04v1.04h-1.04zM33 25h1.04v1.04h-1.04zM33 26h1.04v1.04h-1.04zM18 29h1.04v1.04h-1.04zM19 31h1.04v1.04h-1.04zM24 34h1.04v1.04h-1.04zM26 34h1.04v1.04h-1.04z" fill="#fdd0a2"/>
<path d="M23 17h1.04v1.04h-1.04zM27 17h1.04v1.04h-1.04zM28 17h1.04v1.04h-1.04zM21 18h1.04v1.04h-1.04zM31 19h1.04v1.04h-1.04zM31 20h1.04v1.04h-1.04zM32 20h1.04v1.04h-1.04zM18 22h1.04v1.04h-1.04zM18 28h1.04v1.04h-1.04zM32 29h1.04v1.04h-1.04zM21 32h1.04v1.04h-1.04zM22 33h1.04v1.04h-1.04zM24 33h1.04v1.04h-1.04z" fill="#fdc997"/>
<path d="M26 17h1.04v1.04h-1.04zM28 18h1.04v1.04h-1.04zM29 18h1.04v1.04h-1.04zM20 19h1.04v1.04h-1.04zM29 19h1.04v1.04h-1.04zM30 19h1.04v1.04h-1.04zM31 21h1.04v1.04h-1.04zM32 28h1.04v1.04h-1.04zM31 30h1.04v1.04h-1.04zM30 31h1.04v1.04h-1.04zM28 32h1.04v1.04h-1.04zM29 32h1.04v1.04h-1.04zM23 33h1.04v1.04h-1.04zM26 33h1.04v1.04h-1.04zM27 33h1.04v1.04h-1.04z" fill="#fdc38d"/>
<path d="M24 17h1.04v1.04h-1.04zM25 17h1.04v1.04h-1.04zM19 20h1.04v1.04h-1.04zM32 22h1.04v1.04h-1.04zM18 23h1.04v1.04h-1.04zM18 24h1.04v1.04h-1.04zM32 25h1.04v1.04h-1.04zM18 26h1.04v1.04h-1.04zM32 27h1.04v1.04h-1.04zM19 29h1.04v1.04h-1.04zM19 30h1.04v1.04h-1.04zM20 31h1.04v1.04h-1.04zM22 32h1.04v1.04h-1.04z" fill="#fdbb81"/>
<path d="M22 18h1.04v1.04h-1.04zM23 18h1.04v1.04h-1.04zM24 18h1.04v1.04h-1.04zM27 18h1.04v1.04h-1.04zM28 19h1.04v1.04h-1.04zM19 21h1.04v1.04h-1.04zM32 26h1.04v1.04h-1.04zM18 27h1.04v1.04h-1.04zM31 29h1.04v1.04h-1.04zM30 30h1.04v1.04h-1.04zM23 32h1.04v1.04h-1.04zM27 32h1.04v1.04h-1.04zM25 33h1.04v1.04h-1.04z" fill="#fdb576"/>
<path d="M26 18h1.04v1.04h-1.04zM20 20h1.04v1.04h-1.04zM30 20h1.04v1.04h-1.04zM30 21h1.04v1.04h-1.04zM19 22h1.04v1.04h-1.04zM31 22h1.04v1.04h-1.04zM32 23h1.04v1.04h-1.04zM32 24h1.04v1.04h-1.04zM18 25h1.04v1.04h-1.04zM19 28h1.04v1.04h-1.04zM31 28h1.04v1.04h-1.04zM20 30h1.04v1.04h-1.04zM21 31h1.04v1.04h-1.04zM24 32h1.04v1.04h-1.04z" fill="#fdae6a"/>
<path d="M21 19h1.04v1.04h-1.04zM20 21h1.04v1.04h-1.04zM19 24h1.04v1.04h-1.04zM19 27h1.04v1.04h-1.04zM31 27h1.04v1.04h-1.04zM28 31h1.04v1.04h-1.04zM29 31h1.04v1.04h-1.04zM25 32h1.04v1.04h-1.04z" fill="#fda762"/>
<path d="M25 18h1.04v1.04h-1.04zM22 19h1.04v1.04h-1.04zM27 19h1.04v1.04h-1.04zM29 20h1.04v1.04h-1.04zM29 21h1.04v1.04h-1.04zM19 23h1.04v1.04h-1.04zM30 29h1.04v1.04h-1.04zM29 30h1.04v1.04h-1.04zM26 32h1.04v1.04h-1.04z" fill="#fda159"/>
<path d="M25 19h1.04v1.04h-1.04zM21 20h1.04v1.04h-1.04zM22 20h1.04v1.04h-1.04zM19 25h1.04v1.04h-1.04zM31 26h1.04v1.04h-1.04zM30 27h1.04v1.04h-1.04zM29 29h1.04v1.04h-1.04zM28 30h1.04v1.04h-1.04zM22 31h1.04v1.04h-1.04zM27 31h1.04v1.04h-1.04z" fill="#fd9a4e"/>
<path d="M21 21h1.04v1.04h-1.04zM31 23h1.04v1.04h-1.04zM20 28h1.04v1.04h-1.04zM20 29h1.04v1.04h-1.04zM21 30h1.04v1.04h-1.04zM26 31h1.04v1.04h-1.04z" fill="#fd9446"/>
<path d="M23 19h1.04v1.04h-1.04zM27 20h1.04v1.04h-1.04zM28 20h1.04v1.04h-1.04zM28 21h1.04v1.04h-1.04zM30 22h1.04v1.04h-1.04zM31 25h1.04v1.04h-1.04zM19 26h1.04v1.04h-1.04zM30 28h1.04v1.04h-1.04zM22 30h1.04v1.04h-1.04zM24 31h1.04v1.04h-1.04z" fill="#fd8c3b"/>
<path d="M26 19h1.04v1.04h-1.04zM24 20h1.04v1.04h-1.04zM26 20h1.04v1.04h-1.04zM31 24h1.04v1.04h-1.04zM20 26h1.04v1.04h-1.04zM29 28h1.04v1.04h-1.04zM21 29h1.04v1.04h-1.04zM22 29h1.04v1.04h-1.04z" fill="#fb8634"/>
<path d="M24 19h1.04v1.04h-1.04zM30 23h1.04v1.04h-1.04zM20 25h1.04v1.04h-1.04zM30 25h1.04v1.04h-1.04zM30 26h1.04v1.04h-1.04zM23 30h1.04v1.04h-1.04zM23 31h1.04v1.04h-1.04zM25 31h1.04v1.04h-1.04z" fill="#f87f2c"/>
<path d="M23 20h1.04v1.04h-1.04zM21 22h1.04v1.04h-1.04zM20 24h1.04v1.04h-1.04zM21 24h1.04v1.04h-1.04zM30 24h1.04v1.04h-1.04zM25 30h1.04v1.04h-1.04z" fill="#f67723"/>
<path d="M23 21h1.04v1.04h-1.04zM20 22h1.04v1.04h-1.04zM29 22h1.04v1.04h-1.04zM20 27h1.04v1.04h-1.04zM21 27h1.04v1.04h-1.04zM21 28h1.04v1.04h-1.04z" fill="#f3701b"/>
<path d="M22 21h1.04v1.04h-1.04zM28 29h1.04v1.04h-1.04zM26 30h1.04v1.04h-1.04z" fill="#f16813"/>
<path d="M25 20h1.04v1.04h-1.04zM27 22h1.04v1.04h-1.04zM21 23h1.04v1.04h-1.04zM29 24h1.04v1.04h-1.04zM21 25h1.04v1.04h-1.04zM29 25h1.04v1.04h-1.04zM29 26h1.04v1.04h-1.04zM25 28h1.04v1.04h-1.04zM26 29h1.04v1.04h-1.04zM27 30h1.04v1.04h-1.04z" fill="#ec620f"/>
<path d="M25 21h1.04v1.04h-1.04zM20 23h1.04v1.04h-1.04zM29 23h1.04v1.04h-1.04zM29 27h1.04v1.04h-1.04zM28 28h1.04v1.04h-1.04zM23 29h1.04v1.04h-1.04zM24 29h1.04v1.04h-1.04zM25 29h1.04v1.04h-1.04zM24 30h1.04v1.04h-1.04z" fill="#e75c0c"/>
<path d="M27 21h1.04v1.04h-1.04zM28 22h1.04v1.04h-1.04zM28 24h1.04v1.04h-1.04zM21 26h1.04v1.04h-1.04zM28 27h1.04v1.04h-1.04zM27 29h1.04v1.04h-1.04z" fill="#e25508"/>
<path d="M28 26h1.04v1.04h-1.04zM22 27h1.04v1.04h-1.04zM23 28h1.04v1.04h-1.04zM24 28h1.04v1.04h-1.04zM27 28h1.04v1.04h-1.04z" fill="#de4e05"/>
<path d="M22 22h1.04v1.04h-1.04zM24 22h1.04v1.04h-1.04zM26 22h1.04v1.04h-1.04zM28 23h1.04v1.04h-1.04zM26 24h1.04v1.04h-1.04z" fill="#d84801"/>
<path d="M24 21h1.04v1.04h-1.04zM26 21h1.04v1.04h-1.04zM23 26h1.04v1.04h-1.04zM22 28h1.04v1.04h-1.04z" fill="#ce4401"/>
<path d="M22 23h1.04v1.04h-1.04zM22 25h1.04v1.04h-1.04zM22 26h1.04v1.04h-1.04zM24 27h1.04v1.04h-1.04z" fill="#c54102"/>
<path d="M23 22h1.04v1.04h-1.04zM23 23h1.04v1.04h-1.04zM27 23h1.04v1.04h-1.04zM22 24h1.04v1.04h-1.04zM27 24h1.04v1.04h-1.04zM23 25h1.04v1.04h-1.04zM28 25h1.04v1.04h-1.04zM25 26h1.04v1.04h-1.04zM23 27h1.04v1.04h-1.04zM26 28h1.04v1.04h-1.04z" fill="#b93d02"/>
<path d="M25 22h1.04v1.04h-1.04zM27 26h1.04v1.04h-1.04zM25 27h1.04v1.04h-1.04zM27 27h1.04v1.04h-1.04z" fill="#b03903"/>
<path d="M25 23h1.04v1.04h-1.04zM25 25h1.04v1.04h-1.04z" fill="#a53603"/>
<path d="M24 23h1.04v1.04h-1.04z" fill="#9e3303"/>
<path d="M27 25h1.04v1.04h-1.04z" fill="#963003"/>
<path d="M25 24h1.04v1.04h-1.04zM26 26h1.04v1.04h-1.04z" fill="#8e2d04"/>
<path d="M26 25h1.04v1.04h-1.04zM26 27h1.04v1.04h-1.04z" fill="#862a04"/>
<path d="M26 23h1.04v1.04h-1.04zM23 24h1.04v1.04h-1.04zM24 24h1.04v1.04h-1.04zM24 25h1.04v1.04h-1.04zM24 26h1.04v1.04h-1.04z" fill="#7f2704"/>
</g>
<defs><linearGradient id="cbg" x1="0" x2="1" y1="0" y2="0"><stop offset="0.00" stop-color="#fff5eb"/><stop offset="0.05" stop-color="#ffefe0"/><stop offset="0.10" stop-color="#fee9d4"/><stop offset="0.15" stop-color="#fee2c6"/><stop offset="0.20" stop-color="#fdd9b4"/><stop offset="0.25" stop-color="#fdd0a2"/><stop offset="0.30" stop-color="#fdc38d"/><stop offset="0.35" stop-color="#fdb576"/><stop offset="0.40" stop-color="#fda762"/><stop offset="0.45" stop-color="#fd9a4e"/><stop offset="0.50" stop-color="#fd8c3b"/><stop offset="0.55" stop-color="#f87f2c"/><stop offset="0.60" stop-color="#f3701b"/><stop offset="0.65" stop-color="#ec620f"/><stop offset="0.70" stop-color="#e25508"/><stop offset="0.75" stop-color="#d84801"/><stop offset="0.80" stop-color="#c54102"/><stop offset="0.85" stop-color="#b03903"/><stop offset="0.90" stop-color="#9e3303"/><stop offset="0.95" stop-color="#8e2d04"/><stop offset="1.00" stop-color="#7f2704"/></linearGradient></defs>
<rect x="1364.6" y="942.7" width="318.5" height="16.6" fill="url(#cbg)"/>
<path d="M1396.45 959.3V953.3M1428.3 959.3V953.3M1460.15 959.3V953.3M1492 959.3V953.3M1523.85 942.7V959.3M1555.7 959.3V953.3M1587.55 959.3V953.3M1619.4 959.3V953.3M1651.25 959.3V953.3" stroke="#000" stroke-width="1.6" fill="none"/>
<rect x="1364.6" y="942.7" width="318.5" height="16.6" fill="none" stroke="#000" stroke-width="1.6"/>
<text transform="matrix(0.3106 0 0 0.3156 1356.94 989.48)" font-size="100">0</text>
<text transform="matrix(0.3400 0 0 0.3109 1674.07 989.10)" font-size="100">2</text>
<text transform="matrix(0.3330 0 0 0.3350 1419.00 997.80)" font-size="100">Density</text>
<text transform="matrix(0.3216 0 0 0.3802 1534.75 998.92)" font-size="100">(</text>
<text transform="matrix(0.4519 0 0 0.3778 1546.19 1000.81)" font-size="100">×</text>
<text transform="matrix(0.3486 0 0 0.3407 1568.05 998.26)" font-size="100">10</text>
<text transform="matrix(0.2534 0 0 0.2165 1603.14 984.68)" font-size="100">5</text>
<text transform="matrix(0.3534 0 0 0.3802 1616.65 998.92)" font-size="100">)</text>
<clipPath id="c508_1358"><rect x="508.8" y="1358" width="396.4" height="237"/></clipPath>
<g clip-path="url(#c508_1358)">
<path d="M508.8 1507.6L548.44 1568.06L588.08 1567.31L627.72 1558.73L667.36 1552.51L707 1546.54L746.64 1539.69L786.28 1532.6L825.92 1524.64L865.56 1517.55L905.2 1513.82" fill="none" stroke="#1f77b4" stroke-width="4.0" stroke-linejoin="round" stroke-linecap="butt"/>
<path d="M508.8 1507.6L548.44 1441.67L588.08 1419.53L627.72 1407.58L667.36 1400.25L707 1395.64L746.64 1392.53L786.28 1390.04L825.92 1387.68L865.56 1385.44L905.2 1384.07" fill="none" stroke="#2ca02c" stroke-width="4.0" stroke-linejoin="round" stroke-linecap="butt"/>
<path d="M508.8 1507.6L548.44 1502.75L588.08 1478.61L627.72 1459.83L667.36 1447.39L707 1436.07L746.64 1424.63L786.28 1414.43L825.92 1403.85L865.56 1395.39L905.2 1390.54" fill="none" stroke="#ff7f0e" stroke-width="4.0" stroke-linejoin="round" stroke-linecap="butt"/>
</g>
<clipPath id="c917_1358"><rect x="917.1" y="1358" width="396.7" height="237"/></clipPath>
<g clip-path="url(#c917_1358)">
<path d="M917.1 1507.6L918.09 1529.9L919.09 1549.29L920.08 1562.95L921.08 1568.06L922.07 1568L923.07 1567.85L924.06 1567.61L925.05 1567.3L926.05 1566.07L927.04 1563.68L928.04 1560.94L929.03 1558.67L930.03 1556.97L931.02 1555.42L932.01 1553.94L933.01 1552.45L934 1550.95L935 1549.49L935.99 1548.01L936.98 1546.46L937.98 1544.81L938.97 1543.09L939.97 1541.34L940.96 1539.59L941.96 1537.85L942.95 1536.1L943.94 1534.32L944.94 1532.47L945.93 1530.51L946.93 1528.47L947.92 1526.43L948.92 1524.49L949.91 1522.55L950.9 1520.61L951.9 1518.85L952.89 1517.44L953.89 1516.31L954.88 1515.32L955.88 1514.47L956.87 1513.75L957.86 1513.1L958.86 1512.47L959.85 1511.88L960.85 1511.33L961.84 1510.84L962.83 1510.41L963.83 1510.05L964.82 1509.77L965.82 1509.57L966.81 1509.38L967.81 1509.2L968.8 1509.03L969.79 1508.87L970.79 1508.72L971.78 1508.58L972.78 1508.45L973.77 1508.32L974.77 1508.21L975.76 1508.1L976.75 1508L977.75 1507.9L978.74 1507.81L979.74 1507.72L980.73 1507.64L981.73 1507.56L982.72 1507.49L983.71 1507.42L984.71 1507.35L985.7 1507.28L986.7 1507.21L987.69 1507.15L988.68 1507.08L989.68 1507.02L990.67 1506.95L991.67 1506.89L992.66 1506.82L993.66 1506.76L994.65 1506.7L995.64 1506.63L996.64 1506.57L997.63 1506.51L998.63 1506.45L999.62 1506.39L1000.62 1506.33L1001.61 1506.27L1002.6 1506.22L1003.6 1506.16L1004.59 1506.1L1005.59 1506.05L1006.58 1506L1007.58 1505.94L1008.57 1505.89L1009.56 1505.84L1010.56 1505.79L1011.55 1505.75L1012.55 1505.7L1013.54 1505.65L1014.54 1505.61L1015.53 1505.57L1016.52 1505.53L1017.52 1505.49L1018.51 1505.45L1019.51 1505.42L1020.5 1505.38L1021.49 1505.35L1022.49 1505.32L1023.48 1505.29L1024.48 1505.27L1025.47 1505.24L1026.47 1505.22L1027.46 1505.2L1028.45 1505.18L1029.45 1505.16L1030.44 1505.15L1031.44 1505.14L1032.43 1505.13L1033.43 1505.12L1034.42 1505.11L1035.41 1505.11L1036.41 1505.11L1037.4 1505.11L1038.4 1505.11L1039.39 1505.11L1040.39 1505.11L1041.38 1505.11L1042.37 1505.12L1043.37 1505.12L1044.36 1505.12L1045.36 1505.12L1046.35 1505.12L1047.34 1505.12L1048.34 1505.13L1049.33 1505.13L1050.33 1505.13L1051.32 1505.14L1052.32 1505.14L1053.31 1505.14L1054.3 1505.14L1055.3 1505.15L1056.29 1505.15L1057.29 1505.15L1058.28 1505.16L1059.28 1505.16L1060.27 1505.17L1061.26 1505.17L1062.26 1505.17L1063.25 1505.18L1064.25 1505.18L1065.24 1505.19L1066.24 1505.19L1067.23 1505.2L1068.22 1505.2L1069.22 1505.2L1070.21 1505.21L1071.21 1505.21L1072.2 1505.22L1073.19 1505.22L1074.19 1505.23L1075.18 1505.23L1076.18 1505.24L1077.17 1505.24L1078.17 1505.25L1079.16 1505.25L1080.15 1505.26L1081.15 1505.26L1082.14 1505.27L1083.14 1505.27L1084.13 1505.27L1085.13 1505.28L1086.12 1505.28L1087.11 1505.29L1088.11 1505.29L1089.1 1505.3L1090.1 1505.3L1091.09 1505.3L1092.09 1505.31L1093.08 1505.31L1094.07 1505.32L1095.07 1505.32L1096.06 1505.32L1097.06 1505.33L1098.05 1505.33L1099.05 1505.33L1100.04 1505.34L1101.03 1505.34L1102.03 1505.34L1103.02 1505.34L1104.02 1505.35L1105.01 1505.35L1106 1505.35L1107 1505.35L1107.99 1505.35L1108.99 1505.36L1109.98 1505.36L1110.98 1505.36L1111.97 1505.36L1112.96 1505.36L1113.96 1505.36L1114.95 1505.36L1115.95 1505.36L1116.94 1505.36L1117.94 1505.36L1118.93 1505.36L1119.92 1505.36L1120.92 1505.36L1121.91 1505.36L1122.91 1505.35L1123.9 1505.35L1124.9 1505.35L1125.89 1505.35L1126.88 1505.35L1127.88 1505.34L1128.87 1505.34L1129.87 1505.34L1130.86 1505.34L1131.85 1505.33L1132.85 1505.33L1133.84 1505.33L1134.84 1505.32L1135.83 1505.32L1136.83 1505.32L1137.82 1505.31L1138.81 1505.31L1139.81 1505.3L1140.8 1505.3L1141.8 1505.3L1142.79 1505.29L1143.79 1505.29L1144.78 1505.28L1145.77 1505.28L1146.77 1505.27L1147.76 1505.27L1148.76 1505.27L1149.75 1505.26L1150.75 1505.26L1151.74 1505.25L1152.73 1505.25L1153.73 1505.24L1154.72 1505.24L1155.72 1505.23L1156.71 1505.23L1157.71 1505.22L1158.7 1505.22L1159.69 1505.21L1160.69 1505.21L1161.68 1505.2L1162.68 1505.2L1163.67 1505.2L1164.66 1505.19L1165.66 1505.19L1166.65 1505.18L1167.65 1505.18L1168.64 1505.17L1169.64 1505.17L1170.63 1505.17L1171.62 1505.16L1172.62 1505.16L1173.61 1505.15L1174.61 1505.15L1175.6 1505.15L1176.6 1505.14L1177.59 1505.14L1178.58 1505.14L1179.58 1505.14L1180.57 1505.13L1181.57 1505.13L1182.56 1505.13L1183.56 1505.12L1184.55 1505.12L1185.54 1505.12L1186.54 1505.12L1187.53 1505.12L1188.53 1505.12L1189.52 1505.11L1190.51 1505.11L1191.51 1505.11L1192.5 1505.11L1193.5 1505.11L1194.49 1505.11L1195.49 1505.11L1196.48 1505.11L1197.47 1505.11L1198.47 1505.11L1199.46 1505.11L1200.46 1505.11L1201.45 1505.11L1202.45 1505.11L1203.44 1505.11L1204.43 1505.11L1205.43 1505.11L1206.42 1505.11L1207.42 1505.11L1208.41 1505.11L1209.41 1505.11L1210.4 1505.11L1211.39 1505.11L1212.39 1505.11L1213.38 1505.11L1214.38 1505.11L1215.37 1505.11L1216.36 1505.11L1217.36 1505.11L1218.35 1505.11L1219.35 1505.11L1220.34 1505.11L1221.34 1505.11L1222.33 1505.11L1223.32 1505.11L1224.32 1505.11L1225.31 1505.11L1226.31 1505.11L1227.3 1505.11L1228.3 1505.11L1229.29 1505.11L1230.28 1505.11L1231.28 1505.11L1232.27 1505.11L1233.27 1505.11L1234.26 1505.11L1235.26 1505.11L1236.25 1505.11L1237.24 1505.11L1238.24 1505.11L1239.23 1505.11L1240.23 1505.11L1241.22 1505.11L1242.22 1505.11L1243.21 1505.11L1244.2 1505.11L1245.2 1505.11L1246.19 1505.11L1247.19 1505.11L1248.18 1505.11L1249.17 1505.11L1250.17 1505.11L1251.16 1505.11L1252.16 1505.11L1253.15 1505.11L1254.15 1505.11L1255.14 1505.11L1256.13 1505.11L1257.13 1505.11L1258.12 1505.11L1259.12 1505.11L1260.11 1505.11L1261.11 1505.11L1262.1 1505.11L1263.09 1505.11L1264.09 1505.11L1265.08 1505.11L1266.08 1505.11L1267.07 1505.11L1268.07 1505.11L1269.06 1505.11L1270.05 1505.11L1271.05 1505.11L1272.04 1505.11L1273.04 1505.11L1274.03 1505.11L1275.02 1505.11L1276.02 1505.11L1277.01 1505.11L1278.01 1505.11L1279 1505.11L1280 1505.11L1280.99 1505.11L1281.98 1505.11L1282.98 1505.11L1283.97 1505.11L1284.97 1505.11L1285.96 1505.11L1286.96 1505.11L1287.95 1505.11L1288.94 1505.11L1289.94 1505.11L1290.93 1505.11L1291.93 1505.11L1292.92 1505.11L1293.92 1505.11L1294.91 1505.11L1295.9 1505.11L1296.9 1505.11L1297.89 1505.11L1298.89 1505.11L1299.88 1505.11L1300.87 1505.11L1301.87 1505.11L1302.86 1505.11L1303.86 1505.11L1304.85 1505.11L1305.85 1505.11L1306.84 1505.11L1307.83 1505.11L1308.83 1505.11L1309.82 1505.11L1310.82 1505.11L1311.81 1505.11L1312.81 1505.11L1313.8 1505.11" fill="none" stroke="#1f77b4" stroke-width="4.0" stroke-linejoin="round" stroke-linecap="butt"/>
<path d="M917.1 1507.6L918.09 1486.45L919.09 1467.71L920.08 1452.42L921.08 1441.59L922.07 1434.19L923.07 1428.31L924.06 1423.54L925.05 1419.45L926.05 1415.83L927.04 1412.68L928.04 1409.93L929.03 1407.52L930.03 1405.36L931.02 1403.42L932.01 1401.7L933.01 1400.19L934 1398.85L935 1397.65L935.99 1396.57L936.98 1395.6L937.98 1394.72L938.97 1393.93L939.97 1393.19L940.96 1392.49L941.96 1391.83L942.95 1391.21L943.94 1390.6L944.94 1390L945.93 1389.4L946.93 1388.8L947.92 1388.21L948.92 1387.63L949.91 1387.04L950.9 1386.44L951.9 1385.88L952.89 1385.4L953.89 1385L954.88 1384.64L955.88 1384.32L956.87 1384.05L957.86 1383.8L958.86 1383.54L959.85 1383.29L960.85 1383.04L961.84 1382.79L962.83 1382.55L963.83 1382.33L964.82 1382.12L965.82 1381.92L966.81 1381.74L967.81 1381.59L968.8 1381.46L969.79 1381.35L970.79 1381.27L971.78 1381.23L972.78 1381.21L973.77 1381.22L974.77 1381.23L975.76 1381.25L976.75 1381.28L977.75 1381.32L978.74 1381.36L979.74 1381.41L980.73 1381.46L981.73 1381.52L982.72 1381.58L983.71 1381.64L984.71 1381.71L985.7 1381.78L986.7 1381.85L987.69 1381.94L988.68 1382.08L989.68 1382.24L990.67 1382.43L991.67 1382.65L992.66 1382.89L993.66 1383.15L994.65 1383.42L995.64 1383.7L996.64 1383.99L997.63 1384.29L998.63 1384.59L999.62 1384.88L1000.62 1385.17L1001.61 1385.45L1002.6 1385.72L1003.6 1385.97L1004.59 1386.21L1005.59 1386.42L1006.58 1386.6L1007.58 1386.76L1008.57 1386.89L1009.56 1387.02L1010.56 1387.15L1011.55 1387.27L1012.55 1387.4L1013.54 1387.52L1014.54 1387.64L1015.53 1387.77L1016.52 1387.88L1017.52 1388L1018.51 1388.12L1019.51 1388.23L1020.5 1388.34L1021.49 1388.44L1022.49 1388.55L1023.48 1388.64L1024.48 1388.74L1025.47 1388.83L1026.47 1388.92L1027.46 1389L1028.45 1389.08L1029.45 1389.15L1030.44 1389.22L1031.44 1389.28L1032.43 1389.33L1033.43 1389.38L1034.42 1389.43L1035.41 1389.47L1036.41 1389.5L1037.4 1389.52L1038.4 1389.54L1039.39 1389.55L1040.39 1389.55L1041.38 1389.54L1042.37 1389.53L1043.37 1389.51L1044.36 1389.48L1045.36 1389.45L1046.35 1389.41L1047.34 1389.37L1048.34 1389.32L1049.33 1389.27L1050.33 1389.21L1051.32 1389.15L1052.32 1389.08L1053.31 1389.01L1054.3 1388.93L1055.3 1388.85L1056.29 1388.77L1057.29 1388.69L1058.28 1388.6L1059.28 1388.51L1060.27 1388.42L1061.26 1388.33L1062.26 1388.23L1063.25 1388.14L1064.25 1388.04L1065.24 1387.94L1066.24 1387.85L1067.23 1387.75L1068.22 1387.65L1069.22 1387.55L1070.21 1387.46L1071.21 1387.36L1072.2 1387.27L1073.19 1387.18L1074.19 1387.08L1075.18 1387L1076.18 1386.91L1077.17 1386.83L1078.17 1386.74L1079.16 1386.67L1080.15 1386.59L1081.15 1386.52L1082.14 1386.46L1083.14 1386.39L1084.13 1386.34L1085.13 1386.28L1086.12 1386.23L1087.11 1386.19L1088.11 1386.15L1089.1 1386.12L1090.1 1386.1L1091.09 1386.08L1092.09 1386.07L1093.08 1386.06L1094.07 1386.07L1095.07 1386.07L1096.06 1386.09L1097.06 1386.11L1098.05 1386.13L1099.05 1386.16L1100.04 1386.2L1101.03 1386.24L1102.03 1386.28L1103.02 1386.33L1104.02 1386.38L1105.01 1386.43L1106 1386.49L1107 1386.55L1107.99 1386.62L1108.99 1386.68L1109.98 1386.75L1110.98 1386.82L1111.97 1386.9L1112.96 1386.97L1113.96 1387.05L1114.95 1387.12L1115.95 1387.2L1116.94 1387.28L1117.94 1387.36L1118.93 1387.44L1119.92 1387.52L1120.92 1387.6L1121.91 1387.68L1122.91 1387.76L1123.9 1387.83L1124.9 1387.91L1125.89 1387.98L1126.88 1388.06L1127.88 1388.13L1128.87 1388.2L1129.87 1388.26L1130.86 1388.33L1131.85 1388.39L1132.85 1388.44L1133.84 1388.5L1134.84 1388.55L1135.83 1388.6L1136.83 1388.64L1137.82 1388.68L1138.81 1388.71L1139.81 1388.74L1140.8 1388.76L1141.8 1388.78L1142.79 1388.79L1143.79 1388.8L1144.78 1388.8L1145.77 1388.79L1146.77 1388.78L1147.76 1388.76L1148.76 1388.73L1149.75 1388.7L1150.75 1388.66L1151.74 1388.61L1152.73 1388.56L1153.73 1388.5L1154.72 1388.44L1155.72 1388.38L1156.71 1388.3L1157.71 1388.23L1158.7 1388.15L1159.69 1388.06L1160.69 1387.98L1161.68 1387.88L1162.68 1387.79L1163.67 1387.69L1164.66 1387.59L1165.66 1387.49L1166.65 1387.38L1167.65 1387.28L1168.64 1387.17L1169.64 1387.06L1170.63 1386.95L1171.62 1386.83L1172.62 1386.72L1173.61 1386.61L1174.61 1386.49L1175.6 1386.38L1176.6 1386.27L1177.59 1386.15L1178.58 1386.04L1179.58 1385.93L1180.57 1385.82L1181.57 1385.71L1182.56 1385.6L1183.56 1385.5L1184.55 1385.4L1185.54 1385.3L1186.54 1385.2L1187.53 1385.11L1188.53 1385.01L1189.52 1384.93L1190.51 1384.84L1191.51 1384.76L1192.5 1384.69L1193.5 1384.62L1194.49 1384.55L1195.49 1384.49L1196.48 1384.43L1197.47 1384.38L1198.47 1384.34L1199.46 1384.3L1200.46 1384.26L1201.45 1384.24L1202.45 1384.22L1203.44 1384.2L1204.43 1384.2L1205.43 1384.2L1206.42 1384.21L1207.42 1384.22L1208.41 1384.24L1209.41 1384.26L1210.4 1384.28L1211.39 1384.32L1212.39 1384.35L1213.38 1384.39L1214.38 1384.44L1215.37 1384.48L1216.36 1384.54L1217.36 1384.59L1218.35 1384.65L1219.35 1384.71L1220.34 1384.78L1221.34 1384.85L1222.33 1384.92L1223.32 1385L1224.32 1385.07L1225.31 1385.15L1226.31 1385.23L1227.3 1385.32L1228.3 1385.4L1229.29 1385.49L1230.28 1385.57L1231.28 1385.66L1232.27 1385.75L1233.27 1385.85L1234.26 1385.94L1235.26 1386.03L1236.25 1386.13L1237.24 1386.22L1238.24 1386.31L1239.23 1386.41L1240.23 1386.5L1241.22 1386.6L1242.22 1386.69L1243.21 1386.78L1244.2 1386.87L1245.2 1386.96L1246.19 1387.05L1247.19 1387.14L1248.18 1387.23L1249.17 1387.31L1250.17 1387.39L1251.16 1387.48L1252.16 1387.55L1253.15 1387.63L1254.15 1387.71L1255.14 1387.78L1256.13 1387.85L1257.13 1387.91L1258.12 1387.97L1259.12 1388.03L1260.11 1388.09L1261.11 1388.14L1262.1 1388.19L1263.09 1388.23L1264.09 1388.27L1265.08 1388.31L1266.08 1388.34L1267.07 1388.37L1268.07 1388.39L1269.06 1388.41L1270.05 1388.42L1271.05 1388.43L1272.04 1388.43L1273.04 1388.43L1274.03 1388.42L1275.02 1388.42L1276.02 1388.42L1277.01 1388.41L1278.01 1388.4L1279 1388.4L1280 1388.39L1280.99 1388.38L1281.98 1388.37L1282.98 1388.35L1283.97 1388.34L1284.97 1388.32L1285.96 1388.3L1286.96 1388.29L1287.95 1388.27L1288.94 1388.24L1289.94 1388.22L1290.93 1388.2L1291.93 1388.17L1292.92 1388.14L1293.92 1388.12L1294.91 1388.09L1295.9 1388.05L1296.9 1388.02L1297.89 1387.98L1298.89 1387.95L1299.88 1387.91L1300.87 1387.87L1301.87 1387.83L1302.86 1387.78L1303.86 1387.74L1304.85 1387.69L1305.85 1387.64L1306.84 1387.59L1307.83 1387.54L1308.83 1387.48L1309.82 1387.43L1310.82 1387.37L1311.81 1387.31L1312.81 1387.25L1313.8 1387.18" fill="none" stroke="#2ca02c" stroke-width="4.0" stroke-linejoin="round" stroke-linecap="butt"/>
<path d="M917.1 1507.6L918.09 1507.22L919.09 1506.18L920.08 1504.63L921.08 1502.73L922.07 1498.76L923.07 1492.2L924.06 1484.85L925.05 1478.51L926.05 1473.3L927.04 1468.33L928.04 1463.76L929.03 1459.72L930.03 1456.23L931.02 1453.12L932.01 1450.19L933.01 1447.27L934 1444.37L935 1441.55L935.99 1438.75L936.98 1435.93L937.98 1433.03L938.97 1430.11L939.97 1427.24L940.96 1424.46L941.96 1421.84L942.95 1419.31L943.94 1416.8L944.94 1414.24L945.93 1411.56L946.93 1408.81L947.92 1406.14L948.92 1403.66L949.91 1401.31L950.9 1399.03L951.9 1396.97L952.89 1395.26L953.89 1393.81L954.88 1392.53L955.88 1391.41L956.87 1390.45L957.86 1389.58L958.86 1388.75L959.85 1387.96L960.85 1387.23L961.84 1386.57L962.83 1385.98L963.83 1385.47L964.82 1385.05L965.82 1384.69L966.81 1384.35L967.81 1384.02L968.8 1383.7L969.79 1383.39L970.79 1383.09L971.78 1382.81L972.78 1382.54L973.77 1382.3L974.77 1382.07L975.76 1381.87L976.75 1381.69L977.75 1381.54L978.74 1381.41L979.74 1381.31L980.73 1381.25L981.73 1381.22L982.72 1381.22L983.71 1381.24L984.71 1381.28L985.7 1381.34L986.7 1381.42L987.69 1381.51L988.68 1381.62L989.68 1381.73L990.67 1381.86L991.67 1381.99L992.66 1382.12L993.66 1382.26L994.65 1382.4L995.64 1382.54L996.64 1382.68L997.63 1382.82L998.63 1382.95L999.62 1383.07L1000.62 1383.18L1001.61 1383.29L1002.6 1383.4L1003.6 1383.52L1004.59 1383.64L1005.59 1383.76L1006.58 1383.89L1007.58 1384.02L1008.57 1384.16L1009.56 1384.29L1010.56 1384.43L1011.55 1384.56L1012.55 1384.7L1013.54 1384.84L1014.54 1384.98L1015.53 1385.12L1016.52 1385.25L1017.52 1385.39L1018.51 1385.52L1019.51 1385.65L1020.5 1385.78L1021.49 1385.9L1022.49 1386.02L1023.48 1386.14L1024.48 1386.25L1025.47 1386.36L1026.47 1386.46L1027.46 1386.55L1028.45 1386.64L1029.45 1386.72L1030.44 1386.79L1031.44 1386.86L1032.43 1386.91L1033.43 1386.96L1034.42 1387L1035.41 1387.03L1036.41 1387.05L1037.4 1387.06L1038.4 1387.06L1039.39 1387.05L1040.39 1387.04L1041.38 1387.03L1042.37 1387.01L1043.37 1386.99L1044.36 1386.96L1045.36 1386.93L1046.35 1386.9L1047.34 1386.86L1048.34 1386.82L1049.33 1386.78L1050.33 1386.73L1051.32 1386.69L1052.32 1386.64L1053.31 1386.58L1054.3 1386.53L1055.3 1386.47L1056.29 1386.41L1057.29 1386.35L1058.28 1386.29L1059.28 1386.22L1060.27 1386.16L1061.26 1386.09L1062.26 1386.02L1063.25 1385.95L1064.25 1385.88L1065.24 1385.81L1066.24 1385.74L1067.23 1385.67L1068.22 1385.6L1069.22 1385.53L1070.21 1385.46L1071.21 1385.39L1072.2 1385.32L1073.19 1385.25L1074.19 1385.18L1075.18 1385.12L1076.18 1385.05L1077.17 1384.99L1078.17 1384.92L1079.16 1384.86L1080.15 1384.8L1081.15 1384.74L1082.14 1384.69L1083.14 1384.63L1084.13 1384.58L1085.13 1384.53L1086.12 1384.49L1087.11 1384.44L1088.11 1384.4L1089.1 1384.37L1090.1 1384.33L1091.09 1384.3L1092.09 1384.27L1093.08 1384.25L1094.07 1384.23L1095.07 1384.22L1096.06 1384.21L1097.06 1384.2L1098.05 1384.2L1099.05 1384.2L1100.04 1384.21L1101.03 1384.22L1102.03 1384.24L1103.02 1384.27L1104.02 1384.3L1105.01 1384.33L1106 1384.37L1107 1384.41L1107.99 1384.45L1108.99 1384.5L1109.98 1384.56L1110.98 1384.61L1111.97 1384.67L1112.96 1384.73L1113.96 1384.79L1114.95 1384.86L1115.95 1384.92L1116.94 1384.99L1117.94 1385.06L1118.93 1385.13L1119.92 1385.2L1120.92 1385.27L1121.91 1385.34L1122.91 1385.42L1123.9 1385.49L1124.9 1385.56L1125.89 1385.63L1126.88 1385.7L1127.88 1385.77L1128.87 1385.84L1129.87 1385.91L1130.86 1385.97L1131.85 1386.03L1132.85 1386.09L1133.84 1386.15L1134.84 1386.21L1135.83 1386.26L1136.83 1386.31L1137.82 1386.35L1138.81 1386.39L1139.81 1386.43L1140.8 1386.46L1141.8 1386.49L1142.79 1386.52L1143.79 1386.54L1144.78 1386.55L1145.77 1386.56L1146.77 1386.56L1147.76 1386.56L1148.76 1386.55L1149.75 1386.53L1150.75 1386.51L1151.74 1386.49L1152.73 1386.45L1153.73 1386.42L1154.72 1386.38L1155.72 1386.33L1156.71 1386.28L1157.71 1386.22L1158.7 1386.16L1159.69 1386.1L1160.69 1386.03L1161.68 1385.96L1162.68 1385.88L1163.67 1385.81L1164.66 1385.73L1165.66 1385.64L1166.65 1385.56L1167.65 1385.47L1168.64 1385.38L1169.64 1385.29L1170.63 1385.19L1171.62 1385.1L1172.62 1385L1173.61 1384.9L1174.61 1384.8L1175.6 1384.7L1176.6 1384.6L1177.59 1384.5L1178.58 1384.4L1179.58 1384.3L1180.57 1384.2L1181.57 1384.1L1182.56 1384L1183.56 1383.9L1184.55 1383.81L1185.54 1383.71L1186.54 1383.62L1187.53 1383.52L1188.53 1383.43L1189.52 1383.34L1190.51 1383.26L1191.51 1383.17L1192.5 1383.09L1193.5 1383.02L1194.49 1382.94L1195.49 1382.87L1196.48 1382.8L1197.47 1382.74L1198.47 1382.68L1199.46 1382.62L1200.46 1382.57L1201.45 1382.52L1202.45 1382.48L1203.44 1382.44L1204.43 1382.41L1205.43 1382.38L1206.42 1382.36L1207.42 1382.35L1208.41 1382.34L1209.41 1382.33L1210.4 1382.33L1211.39 1382.34L1212.39 1382.36L1213.38 1382.38L1214.38 1382.4L1215.37 1382.43L1216.36 1382.47L1217.36 1382.51L1218.35 1382.55L1219.35 1382.6L1220.34 1382.66L1221.34 1382.71L1222.33 1382.77L1223.32 1382.84L1224.32 1382.91L1225.31 1382.98L1226.31 1383.05L1227.3 1383.13L1228.3 1383.21L1229.29 1383.29L1230.28 1383.37L1231.28 1383.46L1232.27 1383.54L1233.27 1383.63L1234.26 1383.72L1235.26 1383.81L1236.25 1383.9L1237.24 1383.99L1238.24 1384.09L1239.23 1384.18L1240.23 1384.27L1241.22 1384.37L1242.22 1384.46L1243.21 1384.55L1244.2 1384.64L1245.2 1384.73L1246.19 1384.82L1247.19 1384.91L1248.18 1384.99L1249.17 1385.08L1250.17 1385.16L1251.16 1385.24L1252.16 1385.32L1253.15 1385.39L1254.15 1385.46L1255.14 1385.53L1256.13 1385.6L1257.13 1385.66L1258.12 1385.72L1259.12 1385.77L1260.11 1385.82L1261.11 1385.87L1262.1 1385.91L1263.09 1385.95L1264.09 1385.98L1265.08 1386.01L1266.08 1386.03L1267.07 1386.05L1268.07 1386.06L1269.06 1386.06L1270.05 1386.06L1271.05 1386.06L1272.04 1386.06L1273.04 1386.06L1274.03 1386.06L1275.02 1386.06L1276.02 1386.06L1277.01 1386.06L1278.01 1386.06L1279 1386.06L1280 1386.06L1280.99 1386.05L1281.98 1386.05L1282.98 1386.05L1283.97 1386.04L1284.97 1386.04L1285.96 1386.03L1286.96 1386.03L1287.95 1386.02L1288.94 1386.01L1289.94 1386L1290.93 1385.99L1291.93 1385.98L1292.92 1385.97L1293.92 1385.96L1294.91 1385.95L1295.9 1385.93L1296.9 1385.92L1297.89 1385.9L1298.89 1385.88L1299.88 1385.86L1300.87 1385.84L1301.87 1385.82L1302.86 1385.8L1303.86 1385.77L1304.85 1385.75L1305.85 1385.72L1306.84 1385.69L1307.83 1385.66L1308.83 1385.63L1309.82 1385.59L1310.82 1385.56L1311.81 1385.52L1312.81 1385.48L1313.8 1385.44" fill="none" stroke="#ff7f0e" stroke-width="4.0" stroke-linejoin="round" stroke-linecap="butt"/>
</g>
<clipPath id="c1325_1358"><rect x="1325.9" y="1358" width="396.4" height="237"/></clipPath>
<g clip-path="url(#c1325_1358)">
<path d="M1325.9 1507.6L1326.03 1568.06L1326.16 1567.31L1326.56 1546.54L1327.22 1513.82L1328.54 1507.23L1329.86 1504.94L1330.43 1505.03L1330.99 1505.1L1331.55 1505.13L1332.11 1505.41L1332.67 1505.01L1333.23 1505.28L1333.79 1505.03L1334.36 1505.16L1334.92 1505.26L1335.48 1505.1L1336.04 1505.12L1336.6 1505.6L1337.16 1505.2L1337.72 1505.03L1338.29 1505.08L1338.85 1505.36L1339.41 1505.06L1339.97 1505.3L1340.53 1505.14L1341.09 1505.09L1341.65 1505.06L1342.22 1505.38L1342.78 1505.17L1343.34 1505.4L1343.9 1505.24L1344.46 1505.3L1345.02 1505.1L1345.58 1504.9L1346.15 1504.7L1346.71 1504.84L1347.27 1505.21L1347.83 1505.19L1348.39 1504.87L1348.95 1504.84L1349.51 1505.18L1350.08 1505.22L1350.64 1504.98L1351.2 1505.26L1351.76 1505.23L1352.32 1505.16L1352.88 1505.19L1353.44 1505.28L1354.01 1505.04L1354.57 1505.03L1355.13 1505.23L1355.69 1505.1L1356.25 1505.44L1356.81 1504.86L1357.37 1505.24L1357.94 1505.11L1358.5 1505.17L1359.06 1505.06L1359.62 1505.08L1360.18 1505.2L1360.74 1505.16L1361.3 1504.87L1361.87 1505.07L1362.43 1504.9L1362.99 1505.36L1363.55 1504.76L1364.11 1505.03L1364.67 1505.12L1365.23 1505.3L1365.8 1505.08L1366.36 1505.01L1366.92 1505.23L1367.48 1504.86L1368.04 1505.16L1368.6 1505.06L1369.16 1504.83L1369.73 1505.54L1370.29 1505.1L1370.85 1505.24L1371.41 1505.01L1371.97 1505.27L1372.53 1504.93L1373.09 1505.14L1373.66 1505.21L1374.22 1504.77L1374.78 1505.32L1375.34 1505.1L1375.9 1505.38L1376.46 1505.41L1377.02 1505.51L1377.59 1504.91L1378.15 1505.19L1378.71 1505.22L1379.27 1505.18L1379.83 1505.28L1380.39 1505.11L1380.95 1505.14L1381.52 1505.05L1382.08 1505.08L1382.64 1505.26L1383.2 1505.05L1383.76 1505.04L1384.32 1505.28L1384.88 1505.41L1385.45 1504.93L1386.01 1504.98L1386.57 1505.17L1387.13 1505.29L1387.69 1504.82L1388.25 1504.98L1388.81 1505.33L1389.38 1504.91L1389.94 1505.58L1390.5 1504.97L1391.06 1504.95L1391.62 1505.08L1392.18 1505.36L1392.74 1505.28L1393.31 1505.16L1393.87 1505.17L1394.43 1505.39L1394.99 1505.21L1395.55 1505.14L1396.11 1505.15L1396.67 1505.23L1397.23 1504.85L1397.8 1504.98L1398.36 1505.29L1398.92 1505.21L1399.48 1505.25L1400.04 1505.39L1400.6 1505.49L1401.16 1505.32L1401.73 1504.92L1402.29 1505.05L1402.85 1504.79L1403.41 1504.92L1403.97 1504.9L1404.53 1505.54L1405.09 1505.06L1405.66 1504.93L1406.22 1505L1406.78 1505.08L1407.34 1505.27L1407.9 1505.25L1408.46 1504.71L1409.02 1504.72L1409.59 1505.12L1410.15 1505.43L1410.71 1505.37L1411.27 1505.2L1411.83 1505.22L1412.39 1505.37L1412.95 1505.34L1413.52 1505.25L1414.08 1505.45L1414.64 1504.76L1415.2 1505.16L1415.76 1504.67L1416.32 1505.24L1416.88 1504.94L1417.45 1505.04L1418.01 1505.24L1418.57 1505.23L1419.13 1505.22L1419.69 1505.1L1420.25 1505.2L1420.81 1505.03L1421.38 1505.26L1421.94 1505.24L1422.5 1504.8L1423.06 1505.12L1423.62 1504.93L1424.18 1504.88L1424.74 1505.25L1425.31 1504.89L1425.87 1505.07L1426.43 1505.24L1426.99 1505.14L1427.55 1504.92L1428.11 1504.85L1428.67 1505L1429.24 1504.93L1429.8 1505.05L1430.36 1505.09L1430.92 1505.04L1431.48 1505.5L1432.04 1505.42L1432.6 1505.14L1433.17 1505.23L1433.73 1505.11L1434.29 1505.1L1434.85 1504.84L1435.41 1505.14L1435.97 1504.85L1436.53 1505.24L1437.1 1505.03L1437.66 1505.34L1438.22 1505.18L1438.78 1505.03L1439.34 1505.23L1439.9 1505.26L1440.46 1504.91L1441.03 1505.11L1441.59 1505.16L1442.15 1505.25L1442.71 1505.3L1443.27 1504.99L1443.83 1505.05L1444.39 1505.16L1444.96 1505.05L1445.52 1505.38L1446.08 1505.15L1446.64 1504.88L1447.2 1504.97L1447.76 1504.98L1448.32 1505.09L1448.89 1505.1L1449.45 1504.81L1450.01 1504.96L1450.57 1504.92L1451.13 1505.44L1451.69 1504.86L1452.25 1505.31L1452.82 1505.03L1453.38 1505.39L1453.94 1505.02L1454.5 1505.11L1455.06 1505.44L1455.62 1505.14L1456.18 1504.95L1456.75 1505.08L1457.31 1505.15L1457.87 1505.08L1458.43 1505.15L1458.99 1504.99L1459.55 1504.99L1460.11 1505.32L1460.68 1504.98L1461.24 1505.07L1461.8 1505.22L1462.36 1505.17L1462.92 1505.13L1463.48 1505.19L1464.04 1504.73L1464.61 1505.09L1465.17 1505.27L1465.73 1505.06L1466.29 1505.13L1466.85 1505.3L1467.41 1505.31L1467.97 1505.17L1468.54 1505.03L1469.1 1505.26L1469.66 1504.93L1470.22 1505.01L1470.78 1505.26L1471.34 1505.31L1471.9 1504.9L1472.47 1504.89L1473.03 1505.13L1473.59 1505.11L1474.15 1505.09L1474.71 1504.96L1475.27 1505.19L1475.83 1504.88L1476.4 1505.65L1476.96 1504.94L1477.52 1505.28L1478.08 1505.32L1478.64 1505.05L1479.2 1505.19L1479.76 1505.2L1480.33 1505.34L1480.89 1505.02L1481.45 1504.89L1482.01 1505.2L1482.57 1504.94L1483.13 1504.95L1483.69 1505.18L1484.26 1505.54L1484.82 1505.03L1485.38 1504.78L1485.94 1505.2L1486.5 1505.3L1487.06 1505L1487.62 1505.27L1488.19 1505.14L1488.75 1505.14L1489.31 1504.93L1489.87 1505.31L1490.43 1505.03L1490.99 1505.21L1491.55 1505.28L1492.12 1504.97L1492.68 1505L1493.24 1504.79L1493.8 1505.22L1494.36 1504.91L1494.92 1504.89L1495.48 1505.05L1496.05 1505.18L1496.61 1504.94L1497.17 1505.21L1497.73 1505.02L1498.29 1505.06L1498.85 1505.23L1499.41 1505.3L1499.98 1505.31L1500.54 1505.02L1501.1 1505.12L1501.66 1505.15L1502.22 1504.96L1502.78 1505.15L1503.34 1505.47L1503.91 1505.21L1504.47 1505.27L1505.03 1505.09L1505.59 1505.05L1506.15 1504.89L1506.71 1504.99L1507.27 1505.1L1507.84 1504.92L1508.4 1505.26L1508.96 1504.83L1509.52 1504.82L1510.08 1505.33L1510.64 1505.07L1511.2 1505.13L1511.77 1505.17L1512.33 1505.33L1512.89 1504.95L1513.45 1504.94L1514.01 1504.98L1514.57 1504.88L1515.13 1505.2L1515.7 1505.24L1516.26 1505.48L1516.82 1505.24L1517.38 1505.14L1517.94 1505.34L1518.5 1504.82L1519.06 1505.04L1519.63 1505.11L1520.19 1504.87L1520.75 1505.16L1521.31 1505.03L1521.87 1505.02L1522.43 1505.06L1522.99 1505.11L1523.56 1505.32L1524.12 1505.01L1524.68 1505.16L1525.24 1505.32L1525.8 1504.8L1526.36 1505.17L1526.92 1505.19L1527.49 1504.91L1528.05 1505.36L1528.61 1504.97L1529.17 1505.07L1529.73 1505.34L1530.29 1504.86L1530.85 1504.83L1531.42 1505.07L1531.98 1505.08L1532.54 1505.31L1533.1 1505.05L1533.66 1504.99L1534.22 1505.07L1534.78 1505.28L1535.35 1505.07L1535.91 1505.04L1536.47 1505.08L1537.03 1505.35L1537.59 1505.2L1538.15 1505.25L1538.71 1505.15L1539.28 1505.01L1539.84 1505.43L1540.4 1505.01L1540.96 1505.27L1541.52 1505.08L1542.08 1504.86L1542.64 1505.18L1543.21 1505.29L1543.77 1505.33L1544.33 1505.31L1544.89 1505.19L1545.45 1505.02L1546.01 1505.3L1546.57 1505.21L1547.14 1504.93L1547.7 1504.72L1548.26 1505.04L1548.82 1505.03L1549.38 1505.13L1549.94 1504.96L1550.5 1504.93L1551.07 1505.34L1551.63 1505.2L1552.19 1505.21L1552.75 1505.01L1553.31 1504.97L1553.87 1505.08L1554.43 1505.07L1555 1504.84L1555.56 1505.29L1556.12 1505.1L1556.68 1505.29L1557.24 1504.9L1557.8 1505.35L1558.36 1505.14L1558.93 1504.92L1559.49 1505.13L1560.05 1504.9L1560.61 1505.28L1561.17 1505.12L1561.73 1504.74L1562.29 1505.06L1562.86 1505.01L1563.42 1505.17L1563.98 1505.4L1564.54 1505.3L1565.1 1505.13L1565.66 1505.09L1566.22 1505.55L1566.79 1505.02L1567.35 1505.1L1567.91 1505.05L1568.47 1505.19L1569.03 1505.07L1569.59 1505.37L1570.15 1505.41L1570.72 1505.29L1571.28 1504.88L1571.84 1505.19L1572.4 1505.15L1572.96 1505.15L1573.52 1505.16L1574.08 1505.43L1574.65 1505.01L1575.21 1505.17L1575.77 1505.11L1576.33 1505.25L1576.89 1505.03L1577.45 1505.2L1578.01 1505.17L1578.58 1504.97L1579.14 1505.19L1579.7 1505.32L1580.26 1504.92L1580.82 1505.29L1581.38 1505.39L1581.94 1505.03L1582.51 1505.19L1583.07 1505.44L1583.63 1504.95L1584.19 1505.03L1584.75 1504.9L1585.31 1505.31L1585.87 1505.22L1586.44 1505.19L1587 1505.08L1587.56 1505.38L1588.12 1504.81L1588.68 1505.24L1589.24 1505.06L1589.8 1504.97L1590.37 1505.44L1590.93 1504.92L1591.49 1504.87L1592.05 1505.32L1592.61 1504.97L1593.17 1505.12L1593.73 1504.92L1594.3 1505.33L1594.86 1505.03L1595.42 1505.24L1595.98 1505.1L1596.54 1504.87L1597.1 1505.13L1597.66 1505.09L1598.23 1505.24L1598.79 1505.02L1599.35 1505.2L1599.91 1505.19L1600.47 1505.07L1601.03 1505.18L1601.59 1504.99L1602.16 1505.33L1602.72 1505.17L1603.28 1505.32L1603.84 1505.03L1604.4 1505.2L1604.96 1505.15L1605.52 1504.74L1606.09 1504.97L1606.65 1505.23L1607.21 1505.12L1607.77 1504.91L1608.33 1504.85L1608.89 1505.29L1609.45 1505.07L1610.02 1505.04L1610.58 1505.37L1611.14 1505.12L1611.7 1504.72L1612.26 1504.91L1612.82 1505.15L1613.38 1504.79L1613.94 1504.95L1614.51 1504.81L1615.07 1505.61L1615.63 1505.26L1616.19 1505.26L1616.75 1504.91L1617.31 1505.05L1617.87 1505.16L1618.44 1505.21L1619 1505.32L1619.56 1505.26L1620.12 1505.29L1620.68 1505L1621.24 1504.85L1621.8 1504.8L1622.37 1505.23L1622.93 1505.26L1623.49 1504.92L1624.05 1504.76L1624.61 1505.18L1625.17 1505.24L1625.73 1504.96L1626.3 1505.44L1626.86 1505.1L1627.42 1505.33L1627.98 1504.85L1628.54 1505.14L1629.1 1505.07L1629.66 1504.97L1630.23 1505.24L1630.79 1505.06L1631.35 1505.31L1631.91 1505.21L1632.47 1505.02L1633.03 1505.08L1633.59 1505.13L1634.16 1504.96L1634.72 1504.86L1635.28 1504.9L1635.84 1505.26L1636.4 1504.94L1636.96 1505.1L1637.52 1505.29L1638.09 1505.13L1638.65 1505.34L1639.21 1505.12L1639.77 1505.01L1640.33 1505.23L1640.89 1505.03L1641.45 1504.96L1642.02 1504.98L1642.58 1505.14L1643.14 1505.14L1643.7 1505.09L1644.26 1505.45L1644.82 1505.25L1645.38 1505.1L1645.95 1505.09L1646.51 1505.11L1647.07 1505.35L1647.63 1505L1648.19 1504.84L1648.75 1505.07L1649.31 1505.46L1649.88 1504.94L1650.44 1505.12L1651 1505.19L1651.56 1505.16L1652.12 1505L1652.68 1504.8L1653.24 1504.99L1653.81 1504.96L1654.37 1505.25L1654.93 1504.98L1655.49 1504.96L1656.05 1504.96L1656.61 1504.88L1657.17 1505.22L1657.74 1505.14L1658.3 1505.23L1658.86 1504.97L1659.42 1504.96L1659.98 1504.76L1660.54 1504.99L1661.1 1505.29L1661.67 1505.22L1662.23 1505.24L1662.79 1505.46L1663.35 1505.24L1663.91 1504.77L1664.47 1505.22L1665.03 1505.17L1665.6 1505.19L1666.16 1505.12L1666.72 1505.29L1667.28 1504.85L1667.84 1505.43L1668.4 1505.09L1668.96 1505.05L1669.53 1505.1L1670.09 1504.9L1670.65 1505.32L1671.21 1504.92L1671.77 1505.3L1672.33 1505.07L1672.89 1505.17L1673.46 1505.13L1674.02 1504.98L1674.58 1505.15L1675.14 1505.12L1675.7 1505.11L1676.26 1505.22L1676.82 1505.08L1677.39 1505.29L1677.95 1505.35L1678.51 1505.33L1679.07 1504.78L1679.63 1505.35L1680.19 1505.22L1680.75 1505.32L1681.32 1505.11L1681.88 1505.31L1682.44 1505.03L1683 1504.75L1683.56 1505.44L1684.12 1504.84L1684.68 1505.14L1685.25 1505L1685.81 1505.14L1686.37 1504.84L1686.93 1505.34L1687.49 1505.14L1688.05 1505.32L1688.61 1505.48L1689.18 1505.72L1689.74 1505.34L1690.3 1505.17L1690.86 1505.27L1691.42 1505.02L1691.98 1505.16L1692.54 1504.99L1693.11 1505.2L1693.67 1505.38L1694.23 1505.34L1694.79 1505.06L1695.35 1505.32L1695.91 1504.84L1696.47 1505.15L1697.04 1505.45L1697.6 1505.07L1698.16 1504.99L1698.72 1505.15L1699.28 1505.23L1699.84 1505L1700.4 1504.96L1700.97 1505.01L1701.53 1505.37L1702.09 1505.4L1702.65 1504.9L1703.21 1505.06L1703.77 1505.03L1704.33 1505.22L1704.9 1504.83L1705.46 1504.99L1706.02 1504.87L1706.58 1505.08L1707.14 1505.41L1707.7 1505.11L1708.26 1505.11L1708.83 1505.22L1709.39 1505.24L1709.95 1505.17L1710.51 1505.19L1711.07 1505.05L1711.63 1505.35L1712.19 1504.97L1712.76 1505.3L1713.32 1505.39L1713.88 1505.16L1714.44 1504.93L1715 1505.06L1715.56 1505.21L1716.12 1505.23L1716.69 1505L1717.25 1505.21L1717.81 1504.89L1718.37 1505.05L1718.93 1505.01L1719.49 1505.28L1720.05 1505.33L1720.62 1505.09L1721.18 1504.95L1721.74 1504.43L1722.3 1505.35" fill="none" stroke="#1f77b4" stroke-width="4.0" stroke-linejoin="round" stroke-linecap="butt"/>
<path d="M1325.9 1507.6L1326.03 1441.67L1326.16 1419.53L1326.56 1395.64L1327.22 1384.07L1328.54 1384.45L1329.86 1387.11L1330.43 1387.43L1330.99 1387.24L1331.55 1386.24L1332.11 1387.22L1332.67 1386.65L1333.23 1385.84L1333.79 1388.37L1334.36 1387.1L1334.92 1387.66L1335.48 1387.51L1336.04 1387.83L1336.6 1387.48L1337.16 1386.9L1337.72 1386.66L1338.29 1387.36L1338.85 1387.18L1339.41 1385.87L1339.97 1387.21L1340.53 1386.82L1341.09 1387.54L1341.65 1387.45L1342.22 1388.06L1342.78 1386.66L1343.34 1387.21L1343.9 1386.55L1344.46 1387.49L1345.02 1386.55L1345.58 1387.35L1346.15 1387.57L1346.71 1385.96L1347.27 1387.05L1347.83 1386.61L1348.39 1387.22L1348.95 1387.34L1349.51 1386.95L1350.08 1387.6L1350.64 1386.64L1351.2 1386.88L1351.76 1386.57L1352.32 1386.2L1352.88 1385.84L1353.44 1387.08L1354.01 1385.81L1354.57 1386.02L1355.13 1386.9L1355.69 1387.59L1356.25 1386.28L1356.81 1387.1L1357.37 1386.24L1357.94 1387.34L1358.5 1386.77L1359.06 1386.41L1359.62 1386.7L1360.18 1386.49L1360.74 1388.23L1361.3 1387.17L1361.87 1386.64L1362.43 1387.11L1362.99 1386.65L1363.55 1387.37L1364.11 1386.58L1364.67 1387.71L1365.23 1386.91L1365.8 1387.23L1366.36 1386.6L1366.92 1386.65L1367.48 1386.42L1368.04 1386.79L1368.6 1387.61L1369.16 1386.91L1369.73 1387.85L1370.29 1386.83L1370.85 1386.93L1371.41 1386.59L1371.97 1386.72L1372.53 1386.43L1373.09 1386.38L1373.66 1386.28L1374.22 1387.21L1374.78 1386.34L1375.34 1386.74L1375.9 1387.42L1376.46 1386.75L1377.02 1386.9L1377.59 1387.47L1378.15 1387.74L1378.71 1387.23L1379.27 1387.81L1379.83 1387.75L1380.39 1387.45L1380.95 1386.69L1381.52 1386.55L1382.08 1387.15L1382.64 1386.89L1383.2 1386.7L1383.76 1387.92L1384.32 1386.58L1384.88 1387.2L1385.45 1386.52L1386.01 1386.27L1386.57 1387.6L1387.13 1386.52L1387.69 1386.69L1388.25 1386.09L1388.81 1385.71L1389.38 1385.83L1389.94 1387.02L1390.5 1387.33L1391.06 1386.85L1391.62 1386.95L1392.18 1386.97L1392.74 1386.09L1393.31 1386.6L1393.87 1386.31L1394.43 1388.52L1394.99 1386.73L1395.55 1386.74L1396.11 1386.16L1396.67 1386.9L1397.23 1387.44L1397.8 1386.97L1398.36 1386.62L1398.92 1386.31L1399.48 1387.27L1400.04 1386.68L1400.6 1386.42L1401.16 1387.53L1401.73 1386.63L1402.29 1387.17L1402.85 1387.63L1403.41 1387.18L1403.97 1387L1404.53 1387.38L1405.09 1387.08L1405.66 1386.31L1406.22 1386.92L1406.78 1386.73L1407.34 1385.91L1407.9 1388.62L1408.46 1387.11L1409.02 1386.35L1409.59 1386.88L1410.15 1386.53L1410.71 1387.45L1411.27 1386.63L1411.83 1387.27L1412.39 1386.42L1412.95 1386.36L1413.52 1387.67L1414.08 1385.34L1414.64 1387.31L1415.2 1387.16L1415.76 1387.38L1416.32 1387.74L1416.88 1386.76L1417.45 1386.81L1418.01 1387.05L1418.57 1386.01L1419.13 1387.73L1419.69 1386.64L1420.25 1386.65L1420.81 1386.81L1421.38 1386.31L1421.94 1386.5L1422.5 1386.97L1423.06 1386.82L1423.62 1386.64L1424.18 1387.11L1424.74 1386.49L1425.31 1386.46L1425.87 1385.93L1426.43 1386.94L1426.99 1386.24L1427.55 1386.41L1428.11 1386.94L1428.67 1386.26L1429.24 1387.8L1429.8 1387.15L1430.36 1386.64L1430.92 1386.74L1431.48 1387.44L1432.04 1386.73L1432.6 1385.45L1433.17 1386.62L1433.73 1386.98L1434.29 1386.57L1434.85 1387.08L1435.41 1386.95L1435.97 1386.68L1436.53 1386.32L1437.1 1386.44L1437.66 1385.9L1438.22 1386.96L1438.78 1387.85L1439.34 1386.88L1439.9 1385.58L1440.46 1386.99L1441.03 1386.38L1441.59 1386.84L1442.15 1386.43L1442.71 1386.62L1443.27 1387.34L1443.83 1386.51L1444.39 1386.75L1444.96 1386.46L1445.52 1386.62L1446.08 1385.5L1446.64 1387.78L1447.2 1386.31L1447.76 1386.57L1448.32 1386.17L1448.89 1386.94L1449.45 1385.9L1450.01 1386.62L1450.57 1387.38L1451.13 1387.35L1451.69 1386.39L1452.25 1386.62L1452.82 1387.09L1453.38 1386.33L1453.94 1386.62L1454.5 1385.78L1455.06 1386.5L1455.62 1387.06L1456.18 1387.1L1456.75 1386.59L1457.31 1386.29L1457.87 1386.58L1458.43 1387.52L1458.99 1387.3L1459.55 1386.9L1460.11 1387.41L1460.68 1386.73L1461.24 1387.09L1461.8 1386.07L1462.36 1386.79L1462.92 1387.16L1463.48 1387.08L1464.04 1386.85L1464.61 1386.75L1465.17 1385.85L1465.73 1386.64L1466.29 1386.65L1466.85 1386.01L1467.41 1386.43L1467.97 1385.55L1468.54 1386.76L1469.1 1385.83L1469.66 1386.83L1470.22 1386.45L1470.78 1386.67L1471.34 1386.98L1471.9 1385.24L1472.47 1386.45L1473.03 1386.03L1473.59 1385.86L1474.15 1385.64L1474.71 1388.13L1475.27 1385.95L1475.83 1384.78L1476.4 1386.36L1476.96 1385.8L1477.52 1387.38L1478.08 1387.24L1478.64 1386.26L1479.2 1386.47L1479.76 1387.26L1480.33 1386.57L1480.89 1385.64L1481.45 1386.15L1482.01 1387.21L1482.57 1387.26L1483.13 1386.52L1483.69 1387.2L1484.26 1386.18L1484.82 1386.8L1485.38 1386.15L1485.94 1386.62L1486.5 1386.5L1487.06 1386.55L1487.62 1386.4L1488.19 1387.14L1488.75 1387.49L1489.31 1387.43L1489.87 1387.19L1490.43 1385.76L1490.99 1385.58L1491.55 1385.58L1492.12 1385.28L1492.68 1386.78L1493.24 1385.48L1493.8 1386.37L1494.36 1386.39L1494.92 1385.48L1495.48 1386.29L1496.05 1386.64L1496.61 1386.56L1497.17 1387.03L1497.73 1386.52L1498.29 1386.69L1498.85 1385.83L1499.41 1386.08L1499.98 1386.94L1500.54 1386.14L1501.1 1386.69L1501.66 1386.38L1502.22 1386.92L1502.78 1386.29L1503.34 1386.46L1503.91 1386.74L1504.47 1385.94L1505.03 1386.68L1505.59 1387.03L1506.15 1386.11L1506.71 1385.61L1507.27 1386.44L1507.84 1387.57L1508.4 1386.55L1508.96 1386.96L1509.52 1385.44L1510.08 1386.21L1510.64 1385.98L1511.2 1386.34L1511.77 1385.33L1512.33 1387.41L1512.89 1386.69L1513.45 1387.34L1514.01 1386.6L1514.57 1386.48L1515.13 1385.9L1515.7 1385.67L1516.26 1385.25L1516.82 1385.94L1517.38 1386.06L1517.94 1386.67L1518.5 1386.97L1519.06 1387.01L1519.63 1387.24L1520.19 1385.59L1520.75 1386.17L1521.31 1385.56L1521.87 1386.31L1522.43 1385.95L1522.99 1386.29L1523.56 1386.5L1524.12 1386.41L1524.68 1385.49L1525.24 1386.93L1525.8 1385.83L1526.36 1385.95L1526.92 1385.2L1527.49 1386.37L1528.05 1385.72L1528.61 1386.72L1529.17 1385.86L1529.73 1385.84L1530.29 1386L1530.85 1386.22L1531.42 1386.23L1531.98 1385.58L1532.54 1386.39L1533.1 1386.19L1533.66 1384.99L1534.22 1385.69L1534.78 1385.58L1535.35 1385.56L1535.91 1386.35L1536.47 1386.67L1537.03 1386.01L1537.59 1385.3L1538.15 1386.19L1538.71 1386.63L1539.28 1385.42L1539.84 1386.84L1540.4 1386.18L1540.96 1386.61L1541.52 1387.35L1542.08 1386.48L1542.64 1387.22L1543.21 1385.96L1543.77 1386.3L1544.33 1386.06L1544.89 1386.96L1545.45 1386.95L1546.01 1385.94L1546.57 1386.38L1547.14 1386.32L1547.7 1385.38L1548.26 1386.23L1548.82 1385.47L1549.38 1386.98L1549.94 1386.78L1550.5 1385.88L1551.07 1386.06L1551.63 1386.63L1552.19 1385.85L1552.75 1386.28L1553.31 1386.68L1553.87 1386.24L1554.43 1386.42L1555 1385.78L1555.56 1387.39L1556.12 1386.57L1556.68 1385.67L1557.24 1386.89L1557.8 1386.97L1558.36 1385.45L1558.93 1386.59L1559.49 1386.7L1560.05 1385.29L1560.61 1385.57L1561.17 1385.92L1561.73 1386.37L1562.29 1386.14L1562.86 1386.37L1563.42 1387.23L1563.98 1386.59L1564.54 1385.85L1565.1 1385.98L1565.66 1386.27L1566.22 1386.71L1566.79 1385.38L1567.35 1386.34L1567.91 1385.52L1568.47 1385.51L1569.03 1385.66L1569.59 1385.27L1570.15 1385.33L1570.72 1386.26L1571.28 1385.39L1571.84 1385.72L1572.4 1386.61L1572.96 1385.59L1573.52 1386.38L1574.08 1386.28L1574.65 1385.64L1575.21 1386.49L1575.77 1386.51L1576.33 1386.07L1576.89 1386L1577.45 1385.86L1578.01 1385.3L1578.58 1386.17L1579.14 1386.05L1579.7 1385.87L1580.26 1386.28L1580.82 1385.35L1581.38 1385.1L1581.94 1385.95L1582.51 1386.7L1583.07 1385.98L1583.63 1386.51L1584.19 1387.08L1584.75 1386L1585.31 1385.78L1585.87 1385.96L1586.44 1385.86L1587 1385.91L1587.56 1386.15L1588.12 1386.63L1588.68 1385.17L1589.24 1385.92L1589.8 1386.54L1590.37 1386.36L1590.93 1386L1591.49 1386.15L1592.05 1387.1L1592.61 1386.06L1593.17 1385.67L1593.73 1387.14L1594.3 1385.73L1594.86 1385.87L1595.42 1387.3L1595.98 1386.42L1596.54 1386.24L1597.1 1385.35L1597.66 1385.27L1598.23 1386.17L1598.79 1386.16L1599.35 1385.98L1599.91 1385.94L1600.47 1386.14L1601.03 1385.98L1601.59 1386.74L1602.16 1386.87L1602.72 1385.91L1603.28 1385.32L1603.84 1386.6L1604.4 1386.74L1604.96 1385.1L1605.52 1386.57L1606.09 1385.21L1606.65 1385.64L1607.21 1385.29L1607.77 1386.1L1608.33 1386.2L1608.89 1387.14L1609.45 1384.86L1610.02 1385.4L1610.58 1385.38L1611.14 1385.74L1611.7 1385.32L1612.26 1385.8L1612.82 1385.64L1613.38 1385.56L1613.94 1385.97L1614.51 1385.81L1615.07 1385.84L1615.63 1386.02L1616.19 1385.85L1616.75 1386.24L1617.31 1386.21L1617.87 1386.85L1618.44 1384.72L1619 1385.48L1619.56 1385.32L1620.12 1385.7L1620.68 1385.99L1621.24 1386.6L1621.8 1385.41L1622.37 1385.92L1622.93 1385.13L1623.49 1387.06L1624.05 1386.1L1624.61 1385.32L1625.17 1385.42L1625.73 1386.44L1626.3 1386.54L1626.86 1386.26L1627.42 1386.03L1627.98 1386L1628.54 1386.12L1629.1 1384.88L1629.66 1386.35L1630.23 1385.85L1630.79 1385.26L1631.35 1385.34L1631.91 1385.54L1632.47 1385.26L1633.03 1386.09L1633.59 1385.55L1634.16 1385.92L1634.72 1386.27L1635.28 1385.29L1635.84 1386.55L1636.4 1385.94L1636.96 1386.05L1637.52 1386.15L1638.09 1385.73L1638.65 1385.72L1639.21 1386.11L1639.77 1385.41L1640.33 1386.41L1640.89 1386.34L1641.45 1385.44L1642.02 1385.87L1642.58 1386.27L1643.14 1385.7L1643.7 1385.17L1644.26 1386.48L1644.82 1386.25L1645.38 1384.92L1645.95 1384.7L1646.51 1384.72L1647.07 1385.38L1647.63 1384.31L1648.19 1385.34L1648.75 1385.54L1649.31 1385.5L1649.88 1386.52L1650.44 1386.1L1651 1385.74L1651.56 1385.65L1652.12 1387.65L1652.68 1385.13L1653.24 1385.35L1653.81 1385.99L1654.37 1385.94L1654.93 1385.19L1655.49 1386.32L1656.05 1386.14L1656.61 1385.77L1657.17 1384.72L1657.74 1385.82L1658.3 1385.09L1658.86 1386.49L1659.42 1385.78L1659.98 1386.11L1660.54 1386.59L1661.1 1385.92L1661.67 1385.18L1662.23 1385.65L1662.79 1385.96L1663.35 1385.64L1663.91 1385.9L1664.47 1386.06L1665.03 1386.11L1665.6 1385.97L1666.16 1385.42L1666.72 1386.33L1667.28 1385.01L1667.84 1385.61L1668.4 1385.9L1668.96 1384.6L1669.53 1384.52L1670.09 1385.4L1670.65 1385.57L1671.21 1385.25L1671.77 1386.54L1672.33 1385.35L1672.89 1385.83L1673.46 1385.45L1674.02 1385.95L1674.58 1385.54L1675.14 1386.59L1675.7 1385.38L1676.26 1384.83L1676.82 1385.45L1677.39 1386.01L1677.95 1386.38L1678.51 1385.73L1679.07 1386.05L1679.63 1386.05L1680.19 1384.98L1680.75 1385.23L1681.32 1385.85L1681.88 1385.33L1682.44 1385.77L1683 1386.44L1683.56 1386.35L1684.12 1385.99L1684.68 1385.36L1685.25 1385.3L1685.81 1385.17L1686.37 1385.95L1686.93 1385.33L1687.49 1386.34L1688.05 1384.68L1688.61 1385.09L1689.18 1385.65L1689.74 1385.87L1690.3 1385.41L1690.86 1384.96L1691.42 1385.2L1691.98 1384.81L1692.54 1385.89L1693.11 1385.92L1693.67 1386.04L1694.23 1385.75L1694.79 1386L1695.35 1385.84L1695.91 1385.27L1696.47 1385.16L1697.04 1385.55L1697.6 1385.61L1698.16 1385.91L1698.72 1385.42L1699.28 1385.35L1699.84 1386.89L1700.4 1385.92L1700.97 1385.3L1701.53 1386.33L1702.09 1384.86L1702.65 1385.93L1703.21 1385.01L1703.77 1384.75L1704.33 1386.21L1704.9 1385.24L1705.46 1384.39L1706.02 1385.75L1706.58 1384.72L1707.14 1385.59L1707.7 1385.17L1708.26 1385.07L1708.83 1385.69L1709.39 1385.34L1709.95 1386.34L1710.51 1385.83L1711.07 1385.21L1711.63 1384.62L1712.19 1385.36L1712.76 1384.51L1713.32 1385.55L1713.88 1385.15L1714.44 1386.08L1715 1386.01L1715.56 1384.81L1716.12 1384.78L1716.69 1385.52L1717.25 1386.76L1717.81 1384.82L1718.37 1386.09L1718.93 1384.26L1719.49 1385.15L1720.05 1385.53L1720.62 1384.74L1721.18 1385.28L1721.74 1386.37L1722.3 1385.01" fill="none" stroke="#2ca02c" stroke-width="4.0" stroke-linejoin="round" stroke-linecap="butt"/>
<path d="M1325.9 1507.6L1326.03 1502.75L1326.16 1478.61L1326.56 1436.07L1327.22 1390.54L1328.54 1380.71L1329.86 1384.03L1330.43 1384.41L1330.99 1384.23L1331.55 1384.1L1332.11 1384.8L1332.67 1385.17L1333.23 1385.16L1333.79 1385.47L1334.36 1384.04L1334.92 1385.37L1335.48 1384.57L1336.04 1384.33L1336.6 1384.13L1337.16 1383.79L1337.72 1383.34L1338.29 1383.87L1338.85 1385.4L1339.41 1383.86L1339.97 1384.63L1340.53 1384.88L1341.09 1384.08L1341.65 1384.13L1342.22 1384.16L1342.78 1384.57L1343.34 1385.12L1343.9 1384.66L1344.46 1384.23L1345.02 1385.07L1345.58 1383.84L1346.15 1383.89L1346.71 1384.09L1347.27 1384.15L1347.83 1384.16L1348.39 1384.33L1348.95 1385.78L1349.51 1383.83L1350.08 1383.9L1350.64 1384.22L1351.2 1384.01L1351.76 1384.83L1352.32 1383.76L1352.88 1384.43L1353.44 1384.14L1354.01 1384.32L1354.57 1384.41L1355.13 1385.64L1355.69 1384.3L1356.25 1384.03L1356.81 1384.31L1357.37 1384.07L1357.94 1384.06L1358.5 1385.19L1359.06 1385.04L1359.62 1383.56L1360.18 1384.06L1360.74 1385.37L1361.3 1384.41L1361.87 1383.05L1362.43 1383.54L1362.99 1384.06L1363.55 1384.25L1364.11 1384.48L1364.67 1384.86L1365.23 1384.47L1365.8 1383.71L1366.36 1384.43L1366.92 1384.71L1367.48 1384.88L1368.04 1383.01L1368.6 1384.21L1369.16 1382.96L1369.73 1383.96L1370.29 1384.16L1370.85 1384.69L1371.41 1383.87L1371.97 1385.49L1372.53 1383.99L1373.09 1384.04L1373.66 1384.31L1374.22 1383.84L1374.78 1384.83L1375.34 1384.52L1375.9 1383.9L1376.46 1383.85L1377.02 1383.84L1377.59 1384.28L1378.15 1384.58L1378.71 1384.91L1379.27 1384.83L1379.83 1384.93L1380.39 1384.83L1380.95 1383.83L1381.52 1385.53L1382.08 1384.56L1382.64 1384.42L1383.2 1383.6L1383.76 1383.42L1384.32 1383.75L1384.88 1383.69L1385.45 1384.24L1386.01 1384.59L1386.57 1383.59L1387.13 1385.21L1387.69 1383.76L1388.25 1384.11L1388.81 1383.84L1389.38 1384.71L1389.94 1385.61L1390.5 1383.84L1391.06 1384.83L1391.62 1383.67L1392.18 1383.99L1392.74 1384.6L1393.31 1385.07L1393.87 1385.27L1394.43 1385L1394.99 1385.07L1395.55 1384.66L1396.11 1384.58L1396.67 1383.54L1397.23 1383.65L1397.8 1384.58L1398.36 1384.14L1398.92 1383.7L1399.48 1384.15L1400.04 1383.9L1400.6 1384.45L1401.16 1383.38L1401.73 1384.5L1402.29 1383.61L1402.85 1383.72L1403.41 1383.76L1403.97 1383.34L1404.53 1384.4L1405.09 1384.58L1405.66 1384.34L1406.22 1384.2L1406.78 1382.93L1407.34 1384.71L1407.9 1384.11L1408.46 1383.39L1409.02 1383.68L1409.59 1384.41L1410.15 1383.69L1410.71 1384.77L1411.27 1383.63L1411.83 1384.04L1412.39 1384.49L1412.95 1384.28L1413.52 1383.48L1414.08 1384.41L1414.64 1384.16L1415.2 1384.06L1415.76 1384.29L1416.32 1385.02L1416.88 1384.07L1417.45 1383.35L1418.01 1384.27L1418.57 1383.59L1419.13 1383.51L1419.69 1383.48L1420.25 1384.3L1420.81 1384.13L1421.38 1384.65L1421.94 1384.88L1422.5 1384.09L1423.06 1383.39L1423.62 1384.59L1424.18 1384.43L1424.74 1384.18L1425.31 1384.62L1425.87 1384.29L1426.43 1384.68L1426.99 1385.03L1427.55 1383.95L1428.11 1384L1428.67 1384.38L1429.24 1384.02L1429.8 1383.51L1430.36 1384.61L1430.92 1383.42L1431.48 1384.25L1432.04 1384.1L1432.6 1383.53L1433.17 1384.07L1433.73 1385.67L1434.29 1384.36L1434.85 1384.98L1435.41 1385.69L1435.97 1383.59L1436.53 1383.7L1437.1 1383.02L1437.66 1384.82L1438.22 1383.68L1438.78 1383.91L1439.34 1383.93L1439.9 1383.36L1440.46 1384.03L1441.03 1384.58L1441.59 1383.34L1442.15 1383.43L1442.71 1383.13L1443.27 1383.96L1443.83 1385.2L1444.39 1383.79L1444.96 1383.92L1445.52 1383.48L1446.08 1382.92L1446.64 1384.58L1447.2 1385.16L1447.76 1383.86L1448.32 1384.1L1448.89 1384.59L1449.45 1383.85L1450.01 1384.6L1450.57 1384.93L1451.13 1383.91L1451.69 1383.88L1452.25 1384.45L1452.82 1384.39L1453.38 1383.62L1453.94 1383.86L1454.5 1384.29L1455.06 1384.83L1455.62 1384.52L1456.18 1384.17L1456.75 1384.46L1457.31 1384.48L1457.87 1383.42L1458.43 1383.33L1458.99 1383.62L1459.55 1384.75L1460.11 1384.28L1460.68 1384.54L1461.24 1383.46L1461.8 1384.85L1462.36 1384.45L1462.92 1384.06L1463.48 1383.57L1464.04 1384L1464.61 1383.81L1465.17 1382.76L1465.73 1383.07L1466.29 1383.79L1466.85 1384.8L1467.41 1383.95L1467.97 1384.05L1468.54 1384.3L1469.1 1384.56L1469.66 1385.08L1470.22 1384.14L1470.78 1384.92L1471.34 1383.71L1471.9 1384.27L1472.47 1384.22L1473.03 1383.47L1473.59 1383.91L1474.15 1383.85L1474.71 1383.82L1475.27 1384.15L1475.83 1383.11L1476.4 1383.59L1476.96 1383.81L1477.52 1384.55L1478.08 1383.65L1478.64 1384.42L1479.2 1384.59L1479.76 1383.98L1480.33 1383.17L1480.89 1383.41L1481.45 1384.06L1482.01 1384.14L1482.57 1383.85L1483.13 1384.21L1483.69 1383.88L1484.26 1384.32L1484.82 1383.87L1485.38 1384.2L1485.94 1384.41L1486.5 1384.64L1487.06 1384.58L1487.62 1383.61L1488.19 1383.46L1488.75 1383.04L1489.31 1384.57L1489.87 1383.57L1490.43 1384.15L1490.99 1384.16L1491.55 1384.42L1492.12 1383.65L1492.68 1384.24L1493.24 1383.2L1493.8 1384.27L1494.36 1384.03L1494.92 1383.6L1495.48 1383.73L1496.05 1383.51L1496.61 1384.89L1497.17 1384.18L1497.73 1384.88L1498.29 1384.09L1498.85 1383.38L1499.41 1384.4L1499.98 1384.94L1500.54 1383.52L1501.1 1384.36L1501.66 1383.54L1502.22 1383.67L1502.78 1383.96L1503.34 1383.8L1503.91 1383.12L1504.47 1385.07L1505.03 1384.18L1505.59 1384.65L1506.15 1385.21L1506.71 1383.68L1507.27 1383.06L1507.84 1384.03L1508.4 1383.94L1508.96 1383.7L1509.52 1384.51L1510.08 1384.59L1510.64 1383.65L1511.2 1383.35L1511.77 1383.57L1512.33 1384.43L1512.89 1384.34L1513.45 1384.01L1514.01 1383.39L1514.57 1384.51L1515.13 1382.92L1515.7 1384.37L1516.26 1382.81L1516.82 1384.47L1517.38 1382.95L1517.94 1384.27L1518.5 1384.82L1519.06 1383.86L1519.63 1383.87L1520.19 1383.33L1520.75 1384.74L1521.31 1383.52L1521.87 1383.66L1522.43 1384.72L1522.99 1383.77L1523.56 1382.49L1524.12 1384.66L1524.68 1384.19L1525.24 1383.98L1525.8 1383.65L1526.36 1384.61L1526.92 1383.03L1527.49 1384L1528.05 1384.99L1528.61 1383.3L1529.17 1383.58L1529.73 1382.97L1530.29 1384L1530.85 1382.57L1531.42 1383.56L1531.98 1383.64L1532.54 1384.69L1533.1 1383.12L1533.66 1384.13L1534.22 1384.05L1534.78 1383.45L1535.35 1383.55L1535.91 1383.53L1536.47 1382.74L1537.03 1383.69L1537.59 1383.13L1538.15 1383.67L1538.71 1383.21L1539.28 1382.96L1539.84 1383.67L1540.4 1382.49L1540.96 1383.38L1541.52 1384.66L1542.08 1383.48L1542.64 1383.17L1543.21 1382.9L1543.77 1384.1L1544.33 1383.76L1544.89 1384.25L1545.45 1384.16L1546.01 1383.32L1546.57 1383.95L1547.14 1384.21L1547.7 1384.35L1548.26 1383.61L1548.82 1383.62L1549.38 1383.48L1549.94 1383.94L1550.5 1384.85L1551.07 1383.8L1551.63 1383.39L1552.19 1384.23L1552.75 1383.86L1553.31 1385.09L1553.87 1383.75L1554.43 1383.56L1555 1383.37L1555.56 1383.99L1556.12 1384.32L1556.68 1383.75L1557.24 1382.7L1557.8 1383.11L1558.36 1384.1L1558.93 1383.92L1559.49 1383.62L1560.05 1383.39L1560.61 1384.23L1561.17 1383.82L1561.73 1383.22L1562.29 1383.16L1562.86 1383.36L1563.42 1383.8L1563.98 1383.63L1564.54 1384.68L1565.1 1383.95L1565.66 1383.8L1566.22 1383.78L1566.79 1383.28L1567.35 1384.68L1567.91 1383.87L1568.47 1383.65L1569.03 1384.07L1569.59 1384.82L1570.15 1383.78L1570.72 1383.2L1571.28 1384.05L1571.84 1383.96L1572.4 1383.38L1572.96 1383.82L1573.52 1383.11L1574.08 1384.04L1574.65 1382.7L1575.21 1383.38L1575.77 1383.75L1576.33 1384.02L1576.89 1384L1577.45 1383.62L1578.01 1383.7L1578.58 1383.66L1579.14 1384.17L1579.7 1384.18L1580.26 1383.38L1580.82 1383.25L1581.38 1384.1L1581.94 1383.37L1582.51 1384.21L1583.07 1384.44L1583.63 1384.16L1584.19 1384.01L1584.75 1384.08L1585.31 1385.34L1585.87 1382.51L1586.44 1383.56L1587 1382.65L1587.56 1384.51L1588.12 1384.05L1588.68 1383.07L1589.24 1384.11L1589.8 1383.57L1590.37 1383.81L1590.93 1382.96L1591.49 1385.12L1592.05 1383.59L1592.61 1383.68L1593.17 1383.33L1593.73 1383.56L1594.3 1383.48L1594.86 1383.9L1595.42 1383.51L1595.98 1383.86L1596.54 1382.7L1597.1 1383.82L1597.66 1383.96L1598.23 1383.26L1598.79 1384.14L1599.35 1384.27L1599.91 1382.94L1600.47 1383.66L1601.03 1384.25L1601.59 1383.97L1602.16 1383.42L1602.72 1382.54L1603.28 1382.56L1603.84 1383.68L1604.4 1382.98L1604.96 1383.61L1605.52 1383.5L1606.09 1383.72L1606.65 1385.1L1607.21 1383.69L1607.77 1383.76L1608.33 1384.12L1608.89 1383.47L1609.45 1383.88L1610.02 1384.34L1610.58 1383.65L1611.14 1383.1L1611.7 1382.46L1612.26 1384.5L1612.82 1382.9L1613.38 1384.08L1613.94 1383.58L1614.51 1383.25L1615.07 1384.18L1615.63 1383.35L1616.19 1383.6L1616.75 1383.42L1617.31 1384.16L1617.87 1383.72L1618.44 1383.69L1619 1383.81L1619.56 1384.02L1620.12 1383.3L1620.68 1383.34L1621.24 1383.68L1621.8 1383.59L1622.37 1383.25L1622.93 1382.74L1623.49 1383.91L1624.05 1384.38L1624.61 1382.21L1625.17 1383.87L1625.73 1384.05L1626.3 1383.36L1626.86 1383.35L1627.42 1383.49L1627.98 1383.43L1628.54 1384.23L1629.1 1383.95L1629.66 1384.37L1630.23 1382.72L1630.79 1383.19L1631.35 1384.8L1631.91 1383.66L1632.47 1383.67L1633.03 1382.64L1633.59 1383.3L1634.16 1382.02L1634.72 1383.54L1635.28 1383.77L1635.84 1383.25L1636.4 1384.34L1636.96 1383.99L1637.52 1383.48L1638.09 1383.25L1638.65 1384.24L1639.21 1385L1639.77 1383.95L1640.33 1382.68L1640.89 1383.01L1641.45 1383.98L1642.02 1382.75L1642.58 1384.01L1643.14 1383.55L1643.7 1383.26L1644.26 1381.77L1644.82 1382.94L1645.38 1383.34L1645.95 1383.91L1646.51 1382.97L1647.07 1383.37L1647.63 1383.68L1648.19 1383.43L1648.75 1383.89L1649.31 1383.37L1649.88 1384.06L1650.44 1383.42L1651 1383.14L1651.56 1382.55L1652.12 1383.61L1652.68 1383.82L1653.24 1384.33L1653.81 1383.65L1654.37 1383.38L1654.93 1384.03L1655.49 1382.78L1656.05 1383.18L1656.61 1383.92L1657.17 1384.1L1657.74 1384.76L1658.3 1384.33L1658.86 1383.85L1659.42 1383.55L1659.98 1383.08L1660.54 1382.95L1661.1 1382.61L1661.67 1383.24L1662.23 1381.4L1662.79 1383.55L1663.35 1383.09L1663.91 1382.75L1664.47 1382.99L1665.03 1382.76L1665.6 1383.08L1666.16 1383.74L1666.72 1382.93L1667.28 1383.65L1667.84 1383.11L1668.4 1383.13L1668.96 1383.2L1669.53 1383.58L1670.09 1383.78L1670.65 1383.83L1671.21 1383.3L1671.77 1384.44L1672.33 1383.67L1672.89 1383.35L1673.46 1383.39L1674.02 1382.57L1674.58 1383.32L1675.14 1384.07L1675.7 1384.14L1676.26 1383L1676.82 1383.21L1677.39 1383.78L1677.95 1383.96L1678.51 1383.15L1679.07 1383.57L1679.63 1383.24L1680.19 1383.46L1680.75 1383.53L1681.32 1383.39L1681.88 1383.4L1682.44 1383.86L1683 1384.09L1683.56 1383.22L1684.12 1383.41L1684.68 1382.99L1685.25 1382.61L1685.81 1383.66L1686.37 1384.08L1686.93 1383.22L1687.49 1382.68L1688.05 1383.57L1688.61 1383.25L1689.18 1383.63L1689.74 1383.48L1690.3 1383.76L1690.86 1382.85L1691.42 1383.6L1691.98 1384.01L1692.54 1382.46L1693.11 1383.28L1693.67 1384.31L1694.23 1383.75L1694.79 1383.35L1695.35 1382.9L1695.91 1383.02L1696.47 1383.57L1697.04 1383.58L1697.6 1382.67L1698.16 1383.93L1698.72 1383.5L1699.28 1383.62L1699.84 1382.75L1700.4 1382.49L1700.97 1383.08L1701.53 1383.06L1702.09 1383.9L1702.65 1383.15L1703.21 1382.65L1703.77 1382.89L1704.33 1383.91L1704.9 1382.89L1705.46 1382.73L1706.02 1383.72L1706.58 1383.67L1707.14 1383.85L1707.7 1383.52L1708.26 1383.15L1708.83 1382.69L1709.39 1383.66L1709.95 1382.71L1710.51 1382.93L1711.07 1382.39L1711.63 1382.78L1712.19 1382.92L1712.76 1382.94L1713.32 1383.84L1713.88 1382.94L1714.44 1382.51L1715 1383.67L1715.56 1383.26L1716.12 1382.21L1716.69 1382.8L1717.25 1382.88L1717.81 1383.18L1718.37 1383.34L1718.93 1383.41L1719.49 1383.87L1720.05 1382.28L1720.62 1383.95L1721.18 1382.5L1721.74 1383.66L1722.3 1384.15" fill="none" stroke="#ff7f0e" stroke-width="4.0" stroke-linejoin="round" stroke-linecap="butt"/>
</g>
<path d="M1355.2 1545H1410.6" stroke="#1f77b4" stroke-width="4.0"/>
<path d="M1455.5 1545H1510.9" stroke="#2ca02c" stroke-width="4.0"/>
<path d="M1554.2 1545H1609.5" stroke="#ff7f0e" stroke-width="4.0"/>
<text transform="matrix(0.3488 0 0 0.3426 1419.48 1557.26)" font-size="100" font-style="italic">v</text>
<text transform="matrix(0.3949 0 0 0.3328 1518.12 1558.29)" font-size="100" font-style="italic">ξ</text>
<text transform="matrix(0.3546 0 0 0.3206 1618.48 1557.18)" font-size="100">Total</text>
<path d="M133.06 398.7V391.7M133.06 60V67M166.12 398.7V391.7M166.12 60V67M199.18 398.7V391.7M199.18 60V67M232.23 398.7V391.7M232.23 60V67M265.29 398.7V391.7M265.29 60V67M298.35 398.7V391.7M298.35 60V67M331.41 398.7V391.7M331.41 60V67M364.47 398.7V391.7M364.47 60V67M397.52 398.7V391.7M397.52 60V67M430.58 398.7V391.7M430.58 60V67M463.64 398.7V391.7M463.64 60V67M133.06 398.7V384.7M133.06 60V74M298.35 398.7V384.7M298.35 60V74M463.64 398.7V384.7M463.64 60V74M100 379.88H107M496.7 379.88H489.7M100 361.07H107M496.7 361.07H489.7M100 342.25H107M496.7 342.25H489.7M100 323.43H107M496.7 323.43H489.7M100 304.62H107M496.7 304.62H489.7M100 285.8H107M496.7 285.8H489.7M100 266.98H107M496.7 266.98H489.7M100 248.17H107M496.7 248.17H489.7M100 229.35H107M496.7 229.35H489.7M100 210.53H107M496.7 210.53H489.7M100 191.72H107M496.7 191.72H489.7M100 172.9H107M496.7 172.9H489.7M100 154.08H107M496.7 154.08H489.7M100 135.27H107M496.7 135.27H489.7M100 116.45H107M496.7 116.45H489.7M100 97.63H107M496.7 97.63H489.7M100 78.82H107M496.7 78.82H489.7M100 304.62H114M496.7 304.62H482.7M100 210.53H114M496.7 210.53H482.7M100 116.45H114M496.7 116.45H482.7" stroke="#000" stroke-width="1.9" fill="none"/>
<rect x="100" y="60" width="396.7" height="338.7" fill="none" stroke="#000" stroke-width="2.0"/>
<path d="M541.83 398.7V391.7M541.83 60V67M574.87 398.7V391.7M574.87 60V67M607.9 398.7V391.7M607.9 60V67M640.93 398.7V391.7M640.93 60V67M673.97 398.7V391.7M673.97 60V67M707 398.7V391.7M707 60V67M740.03 398.7V391.7M740.03 60V67M773.07 398.7V391.7M773.07 60V67M806.1 398.7V391.7M806.1 60V67M839.13 398.7V391.7M839.13 60V67M872.17 398.7V391.7M872.17 60V67M541.83 398.7V384.7M541.83 60V74M707 398.7V384.7M707 60V74M872.17 398.7V384.7M872.17 60V74M508.8 379.88H515.8M905.2 379.88H898.2M508.8 361.07H515.8M905.2 361.07H898.2M508.8 342.25H515.8M905.2 342.25H898.2M508.8 323.43H515.8M905.2 323.43H898.2M508.8 304.62H515.8M905.2 304.62H898.2M508.8 285.8H515.8M905.2 285.8H898.2M508.8 266.98H515.8M905.2 266.98H898.2M508.8 248.17H515.8M905.2 248.17H898.2M508.8 229.35H515.8M905.2 229.35H898.2M508.8 210.53H515.8M905.2 210.53H898.2M508.8 191.72H515.8M905.2 191.72H898.2M508.8 172.9H515.8M905.2 172.9H898.2M508.8 154.08H515.8M905.2 154.08H898.2M508.8 135.27H515.8M905.2 135.27H898.2M508.8 116.45H515.8M905.2 116.45H898.2M508.8 97.63H515.8M905.2 97.63H898.2M508.8 78.82H515.8M905.2 78.82H898.2M508.8 304.62H522.8M905.2 304.62H891.2M508.8 210.53H522.8M905.2 210.53H891.2M508.8 116.45H522.8M905.2 116.45H891.2" stroke="#000" stroke-width="1.9" fill="none"/>
<rect x="508.8" y="60" width="396.4" height="338.7" fill="none" stroke="#000" stroke-width="2.0"/>
<path d="M950.16 398.7V391.7M950.16 60V67M983.22 398.7V391.7M983.22 60V67M1016.27 398.7V391.7M1016.27 60V67M1049.33 398.7V391.7M1049.33 60V67M1082.39 398.7V391.7M1082.39 60V67M1115.45 398.7V391.7M1115.45 60V67M1148.51 398.7V391.7M1148.51 60V67M1181.57 398.7V391.7M1181.57 60V67M1214.62 398.7V391.7M1214.62 60V67M1247.68 398.7V391.7M1247.68 60V67M1280.74 398.7V391.7M1280.74 60V67M950.16 398.7V384.7M950.16 60V74M1115.45 398.7V384.7M1115.45 60V74M1280.74 398.7V384.7M1280.74 60V74M917.1 379.88H924.1M1313.8 379.88H1306.8M917.1 361.07H924.1M1313.8 361.07H1306.8M917.1 342.25H924.1M1313.8 342.25H1306.8M917.1 323.43H924.1M1313.8 323.43H1306.8M917.1 304.62H924.1M1313.8 304.62H1306.8M917.1 285.8H924.1M1313.8 285.8H1306.8M917.1 266.98H924.1M1313.8 266.98H1306.8M917.1 248.17H924.1M1313.8 248.17H1306.8M917.1 229.35H924.1M1313.8 229.35H1306.8M917.1 210.53H924.1M1313.8 210.53H1306.8M917.1 191.72H924.1M1313.8 191.72H1306.8M917.1 172.9H924.1M1313.8 172.9H1306.8M917.1 154.08H924.1M1313.8 154.08H1306.8M917.1 135.27H924.1M1313.8 135.27H1306.8M917.1 116.45H924.1M1313.8 116.45H1306.8M917.1 97.63H924.1M1313.8 97.63H1306.8M917.1 78.82H924.1M1313.8 78.82H1306.8M917.1 304.62H931.1M1313.8 304.62H1299.8M917.1 210.53H931.1M1313.8 210.53H1299.8M917.1 116.45H931.1M1313.8 116.45H1299.8" stroke="#000" stroke-width="1.9" fill="none"/>
<rect x="917.1" y="60" width="396.7" height="338.7" fill="none" stroke="#000" stroke-width="2.0"/>
<path d="M1358.93 398.7V391.7M1358.93 60V67M1391.97 398.7V391.7M1391.97 60V67M1425 398.7V391.7M1425 60V67M1458.03 398.7V391.7M1458.03 60V67M1491.07 398.7V391.7M1491.07 60V67M1524.1 398.7V391.7M1524.1 60V67M1557.13 398.7V391.7M1557.13 60V67M1590.17 398.7V391.7M1590.17 60V67M1623.2 398.7V391.7M1623.2 60V67M1656.23 398.7V391.7M1656.23 60V67M1689.27 398.7V391.7M1689.27 60V67M1358.93 398.7V384.7M1358.93 60V74M1524.1 398.7V384.7M1524.1 60V74M1689.27 398.7V384.7M1689.27 60V74M1325.9 379.88H1332.9M1722.3 379.88H1715.3M1325.9 361.07H1332.9M1722.3 361.07H1715.3M1325.9 342.25H1332.9M1722.3 342.25H1715.3M1325.9 323.43H1332.9M1722.3 323.43H1715.3M1325.9 304.62H1332.9M1722.3 304.62H1715.3M1325.9 285.8H1332.9M1722.3 285.8H1715.3M1325.9 266.98H1332.9M1722.3 266.98H1715.3M1325.9 248.17H1332.9M1722.3 248.17H1715.3M1325.9 229.35H1332.9M1722.3 229.35H1715.3M1325.9 210.53H1332.9M1722.3 210.53H1715.3M1325.9 191.72H1332.9M1722.3 191.72H1715.3M1325.9 172.9H1332.9M1722.3 172.9H1715.3M1325.9 154.08H1332.9M1722.3 154.08H1715.3M1325.9 135.27H1332.9M1722.3 135.27H1715.3M1325.9 116.45H1332.9M1722.3 116.45H1715.3M1325.9 97.63H1332.9M1722.3 97.63H1715.3M1325.9 78.82H1332.9M1722.3 78.82H1715.3M1325.9 304.62H1339.9M1722.3 304.62H1708.3M1325.9 210.53H1339.9M1722.3 210.53H1708.3M1325.9 116.45H1339.9M1722.3 116.45H1708.3" stroke="#000" stroke-width="1.9" fill="none"/>
<rect x="1325.9" y="60" width="396.4" height="338.7" fill="none" stroke="#000" stroke-width="2.0"/>
<path d="M133.06 831.5V824.5M133.06 492.9V499.9M166.12 831.5V824.5M166.12 492.9V499.9M199.18 831.5V824.5M199.18 492.9V499.9M232.23 831.5V824.5M232.23 492.9V499.9M265.29 831.5V824.5M265.29 492.9V499.9M298.35 831.5V824.5M298.35 492.9V499.9M331.41 831.5V824.5M331.41 492.9V499.9M364.47 831.5V824.5M364.47 492.9V499.9M397.52 831.5V824.5M397.52 492.9V499.9M430.58 831.5V824.5M430.58 492.9V499.9M463.64 831.5V824.5M463.64 492.9V499.9M133.06 831.5V817.5M133.06 492.9V506.9M298.35 831.5V817.5M298.35 492.9V506.9M463.64 831.5V817.5M463.64 492.9V506.9M100 793.88H107M496.7 793.88H489.7M100 756.26H107M496.7 756.26H489.7M100 718.63H107M496.7 718.63H489.7M100 681.01H107M496.7 681.01H489.7M100 643.39H107M496.7 643.39H489.7M100 605.77H107M496.7 605.77H489.7M100 568.14H107M496.7 568.14H489.7M100 530.52H107M496.7 530.52H489.7M100 681.01H114M496.7 681.01H482.7M100 530.52H114M496.7 530.52H482.7" stroke="#000" stroke-width="1.9" fill="none"/>
<rect x="100" y="492.9" width="396.7" height="338.6" fill="none" stroke="#000" stroke-width="2.0"/>
<path d="M541.83 831.5V824.5M541.83 492.9V499.9M574.87 831.5V824.5M574.87 492.9V499.9M607.9 831.5V824.5M607.9 492.9V499.9M640.93 831.5V824.5M640.93 492.9V499.9M673.97 831.5V824.5M673.97 492.9V499.9M707 831.5V824.5M707 492.9V499.9M740.03 831.5V824.5M740.03 492.9V499.9M773.07 831.5V824.5M773.07 492.9V499.9M806.1 831.5V824.5M806.1 492.9V499.9M839.13 831.5V824.5M839.13 492.9V499.9M872.17 831.5V824.5M872.17 492.9V499.9M541.83 831.5V817.5M541.83 492.9V506.9M707 831.5V817.5M707 492.9V506.9M872.17 831.5V817.5M872.17 492.9V506.9M508.8 793.88H515.8M905.2 793.88H898.2M508.8 756.26H515.8M905.2 756.26H898.2M508.8 718.63H515.8M905.2 718.63H898.2M508.8 681.01H515.8M905.2 681.01H898.2M508.8 643.39H515.8M905.2 643.39H898.2M508.8 605.77H515.8M905.2 605.77H898.2M508.8 568.14H515.8M905.2 568.14H898.2M508.8 530.52H515.8M905.2 530.52H898.2M508.8 681.01H522.8M905.2 681.01H891.2M508.8 530.52H522.8M905.2 530.52H891.2" stroke="#000" stroke-width="1.9" fill="none"/>
<rect x="508.8" y="492.9" width="396.4" height="338.6" fill="none" stroke="#000" stroke-width="2.0"/>
<path d="M950.16 831.5V824.5M950.16 492.9V499.9M983.22 831.5V824.5M983.22 492.9V499.9M1016.27 831.5V824.5M1016.27 492.9V499.9M1049.33 831.5V824.5M1049.33 492.9V499.9M1082.39 831.5V824.5M1082.39 492.9V499.9M1115.45 831.5V824.5M1115.45 492.9V499.9M1148.51 831.5V824.5M1148.51 492.9V499.9M1181.57 831.5V824.5M1181.57 492.9V499.9M1214.62 831.5V824.5M1214.62 492.9V499.9M1247.68 831.5V824.5M1247.68 492.9V499.9M1280.74 831.5V824.5M1280.74 492.9V499.9M950.16 831.5V817.5M950.16 492.9V506.9M1115.45 831.5V817.5M1115.45 492.9V506.9M1280.74 831.5V817.5M1280.74 492.9V506.9M917.1 793.88H924.1M1313.8 793.88H1306.8M917.1 756.26H924.1M1313.8 756.26H1306.8M917.1 718.63H924.1M1313.8 718.63H1306.8M917.1 681.01H924.1M1313.8 681.01H1306.8M917.1 643.39H924.1M1313.8 643.39H1306.8M917.1 605.77H924.1M1313.8 605.77H1306.8M917.1 568.14H924.1M1313.8 568.14H1306.8M917.1 530.52H924.1M1313.8 530.52H1306.8M917.1 681.01H931.1M1313.8 681.01H1299.8M917.1 530.52H931.1M1313.8 530.52H1299.8" stroke="#000" stroke-width="1.9" fill="none"/>
<rect x="917.1" y="492.9" width="396.7" height="338.6" fill="none" stroke="#000" stroke-width="2.0"/>
<path d="M1358.93 831.5V824.5M1358.93 492.9V499.9M1391.97 831.5V824.5M1391.97 492.9V499.9M1425 831.5V824.5M1425 492.9V499.9M1458.03 831.5V824.5M1458.03 492.9V499.9M1491.07 831.5V824.5M1491.07 492.9V499.9M1524.1 831.5V824.5M1524.1 492.9V499.9M1557.13 831.5V824.5M1557.13 492.9V499.9M1590.17 831.5V824.5M1590.17 492.9V499.9M1623.2 831.5V824.5M1623.2 492.9V499.9M1656.23 831.5V824.5M1656.23 492.9V499.9M1689.27 831.5V824.5M1689.27 492.9V499.9M1358.93 831.5V817.5M1358.93 492.9V506.9M1524.1 831.5V817.5M1524.1 492.9V506.9M1689.27 831.5V817.5M1689.27 492.9V506.9M1325.9 793.88H1332.9M1722.3 793.88H1715.3M1325.9 756.26H1332.9M1722.3 756.26H1715.3M1325.9 718.63H1332.9M1722.3 718.63H1715.3M1325.9 681.01H1332.9M1722.3 681.01H1715.3M1325.9 643.39H1332.9M1722.3 643.39H1715.3M1325.9 605.77H1332.9M1722.3 605.77H1715.3M1325.9 568.14H1332.9M1722.3 568.14H1715.3M1325.9 530.52H1332.9M1722.3 530.52H1715.3M1325.9 681.01H1339.9M1722.3 681.01H1708.3M1325.9 530.52H1339.9M1722.3 530.52H1708.3" stroke="#000" stroke-width="1.9" fill="none"/>
<rect x="1325.9" y="492.9" width="396.4" height="338.6" fill="none" stroke="#000" stroke-width="2.0"/>
<path d="M102.51 1264.1V1257.1M102.51 925.5V932.5M135.15 1264.1V1257.1M135.15 925.5V932.5M167.79 1264.1V1257.1M167.79 925.5V932.5M200.43 1264.1V1257.1M200.43 925.5V932.5M233.07 1264.1V1257.1M233.07 925.5V932.5M265.71 1264.1V1257.1M265.71 925.5V932.5M298.35 1264.1V1257.1M298.35 925.5V932.5M330.99 1264.1V1257.1M330.99 925.5V932.5M363.63 1264.1V1257.1M363.63 925.5V932.5M396.27 1264.1V1257.1M396.27 925.5V932.5M428.91 1264.1V1257.1M428.91 925.5V932.5M461.55 1264.1V1257.1M461.55 925.5V932.5M494.19 1264.1V1257.1M494.19 925.5V932.5M135.15 1264.1V1250.1M135.15 925.5V939.5M298.35 1264.1V1250.1M298.35 925.5V939.5M461.55 1264.1V1250.1M461.55 925.5V939.5M100 1249.12H107M496.7 1249.12H489.7M100 1223.4H107M496.7 1223.4H489.7M100 1197.68H107M496.7 1197.68H489.7M100 1171.96H107M496.7 1171.96H489.7M100 1146.24H107M496.7 1146.24H489.7M100 1120.52H107M496.7 1120.52H489.7M100 1094.8H107M496.7 1094.8H489.7M100 1069.08H107M496.7 1069.08H489.7M100 1043.36H107M496.7 1043.36H489.7M100 1017.64H107M496.7 1017.64H489.7M100 991.92H107M496.7 991.92H489.7M100 966.2H107M496.7 966.2H489.7M100 940.48H107M496.7 940.48H489.7M100 1223.4H114M496.7 1223.4H482.7M100 1094.8H114M496.7 1094.8H482.7M100 966.2H114M496.7 966.2H482.7" stroke="#000" stroke-width="1.9" fill="none"/>
<rect x="100" y="925.5" width="396.7" height="338.6" fill="none" stroke="#000" stroke-width="2.0"/>
<path d="M511.31 1264.1V1257.1M511.31 925.5V932.5M543.93 1264.1V1257.1M543.93 925.5V932.5M576.54 1264.1V1257.1M576.54 925.5V932.5M609.16 1264.1V1257.1M609.16 925.5V932.5M641.77 1264.1V1257.1M641.77 925.5V932.5M674.39 1264.1V1257.1M674.39 925.5V932.5M707 1264.1V1257.1M707 925.5V932.5M739.61 1264.1V1257.1M739.61 925.5V932.5M772.23 1264.1V1257.1M772.23 925.5V932.5M804.84 1264.1V1257.1M804.84 925.5V932.5M837.46 1264.1V1257.1M837.46 925.5V932.5M870.07 1264.1V1257.1M870.07 925.5V932.5M902.69 1264.1V1257.1M902.69 925.5V932.5M543.93 1264.1V1250.1M543.93 925.5V939.5M707 1264.1V1250.1M707 925.5V939.5M870.07 1264.1V1250.1M870.07 925.5V939.5M508.8 1249.12H515.8M905.2 1249.12H898.2M508.8 1223.4H515.8M905.2 1223.4H898.2M508.8 1197.68H515.8M905.2 1197.68H898.2M508.8 1171.96H515.8M905.2 1171.96H898.2M508.8 1146.24H515.8M905.2 1146.24H898.2M508.8 1120.52H515.8M905.2 1120.52H898.2M508.8 1094.8H515.8M905.2 1094.8H898.2M508.8 1069.08H515.8M905.2 1069.08H898.2M508.8 1043.36H515.8M905.2 1043.36H898.2M508.8 1017.64H515.8M905.2 1017.64H898.2M508.8 991.92H515.8M905.2 991.92H898.2M508.8 966.2H515.8M905.2 966.2H898.2M508.8 940.48H515.8M905.2 940.48H898.2M508.8 1223.4H522.8M905.2 1223.4H891.2M508.8 1094.8H522.8M905.2 1094.8H891.2M508.8 966.2H522.8M905.2 966.2H891.2" stroke="#000" stroke-width="1.9" fill="none"/>
<rect x="508.8" y="925.5" width="396.4" height="338.6" fill="none" stroke="#000" stroke-width="2.0"/>
<path d="M919.61 1264.1V1257.1M919.61 925.5V932.5M952.25 1264.1V1257.1M952.25 925.5V932.5M984.89 1264.1V1257.1M984.89 925.5V932.5M1017.53 1264.1V1257.1M1017.53 925.5V932.5M1050.17 1264.1V1257.1M1050.17 925.5V932.5M1082.81 1264.1V1257.1M1082.81 925.5V932.5M1115.45 1264.1V1257.1M1115.45 925.5V932.5M1148.09 1264.1V1257.1M1148.09 925.5V932.5M1180.73 1264.1V1257.1M1180.73 925.5V932.5M1213.37 1264.1V1257.1M1213.37 925.5V932.5M1246.01 1264.1V1257.1M1246.01 925.5V932.5M1278.65 1264.1V1257.1M1278.65 925.5V932.5M1311.29 1264.1V1257.1M1311.29 925.5V932.5M952.25 1264.1V1250.1M952.25 925.5V939.5M1115.45 1264.1V1250.1M1115.45 925.5V939.5M1278.65 1264.1V1250.1M1278.65 925.5V939.5M917.1 1249.12H924.1M1313.8 1249.12H1306.8M917.1 1223.4H924.1M1313.8 1223.4H1306.8M917.1 1197.68H924.1M1313.8 1197.68H1306.8M917.1 1171.96H924.1M1313.8 1171.96H1306.8M917.1 1146.24H924.1M1313.8 1146.24H1306.8M917.1 1120.52H924.1M1313.8 1120.52H1306.8M917.1 1094.8H924.1M1313.8 1094.8H1306.8M917.1 1069.08H924.1M1313.8 1069.08H1306.8M917.1 1043.36H924.1M1313.8 1043.36H1306.8M917.1 1017.64H924.1M1313.8 1017.64H1306.8M917.1 991.92H924.1M1313.8 991.92H1306.8M917.1 966.2H924.1M1313.8 966.2H1306.8M917.1 940.48H924.1M1313.8 940.48H1306.8M917.1 1223.4H931.1M1313.8 1223.4H1299.8M917.1 1094.8H931.1M1313.8 1094.8H1299.8M917.1 966.2H931.1M1313.8 966.2H1299.8" stroke="#000" stroke-width="1.9" fill="none"/>
<rect x="917.1" y="925.5" width="396.7" height="338.6" fill="none" stroke="#000" stroke-width="2.0"/>
<path d="M1328.41 1264.1V1257.1M1328.41 925.5V932.5M1361.03 1264.1V1257.1M1361.03 925.5V932.5M1393.64 1264.1V1257.1M1393.64 925.5V932.5M1426.26 1264.1V1257.1M1426.26 925.5V932.5M1458.87 1264.1V1257.1M1458.87 925.5V932.5M1491.49 1264.1V1257.1M1491.49 925.5V932.5M1524.1 1264.1V1257.1M1524.1 925.5V932.5M1556.71 1264.1V1257.1M1556.71 925.5V932.5M1589.33 1264.1V1257.1M1589.33 925.5V932.5M1621.94 1264.1V1257.1M1621.94 925.5V932.5M1654.56 1264.1V1257.1M1654.56 925.5V932.5M1687.17 1264.1V1257.1M1687.17 925.5V932.5M1719.79 1264.1V1257.1M1719.79 925.5V932.5M1361.03 1264.1V1250.1M1361.03 925.5V939.5M1524.1 1264.1V1250.1M1524.1 925.5V939.5M1687.17 1264.1V1250.1M1687.17 925.5V939.5M1325.9 1249.12H1332.9M1722.3 1249.12H1715.3M1325.9 1223.4H1332.9M1722.3 1223.4H1715.3M1325.9 1197.68H1332.9M1722.3 1197.68H1715.3M1325.9 1171.96H1332.9M1722.3 1171.96H1715.3M1325.9 1146.24H1332.9M1722.3 1146.24H1715.3M1325.9 1120.52H1332.9M1722.3 1120.52H1715.3M1325.9 1094.8H1332.9M1722.3 1094.8H1715.3M1325.9 1069.08H1332.9M1722.3 1069.08H1715.3M1325.9 1043.36H1332.9M1722.3 1043.36H1715.3M1325.9 1017.64H1332.9M1722.3 1017.64H1715.3M1325.9 991.92H1332.9M1722.3 991.92H1715.3M1325.9 966.2H1332.9M1722.3 966.2H1715.3M1325.9 940.48H1332.9M1722.3 940.48H1715.3M1325.9 1223.4H1339.9M1722.3 1223.4H1708.3M1325.9 1094.8H1339.9M1722.3 1094.8H1708.3M1325.9 966.2H1339.9M1722.3 966.2H1708.3" stroke="#000" stroke-width="1.9" fill="none"/>
<rect x="1325.9" y="925.5" width="396.4" height="338.6" fill="none" stroke="#000" stroke-width="2.0"/>
<path d="M548.44 1595V1588M548.44 1358V1365M588.08 1595V1588M588.08 1358V1365M627.72 1595V1588M627.72 1358V1365M667.36 1595V1588M667.36 1358V1365M707 1595V1588M707 1358V1365M746.64 1595V1588M746.64 1358V1365M786.28 1595V1588M786.28 1358V1365M825.92 1595V1588M825.92 1358V1365M865.56 1595V1588M865.56 1358V1365M707 1595V1581M707 1358V1372M508.8 1582.24H515.8M905.2 1582.24H898.2M508.8 1557.36H515.8M905.2 1557.36H898.2M508.8 1532.48H515.8M905.2 1532.48H898.2M508.8 1507.6H515.8M905.2 1507.6H898.2M508.8 1482.72H515.8M905.2 1482.72H898.2M508.8 1457.84H515.8M905.2 1457.84H898.2M508.8 1432.96H515.8M905.2 1432.96H898.2M508.8 1408.08H515.8M905.2 1408.08H898.2M508.8 1383.2H515.8M905.2 1383.2H898.2M508.8 1507.6H522.8M905.2 1507.6H891.2M508.8 1383.2H522.8M905.2 1383.2H891.2" stroke="#000" stroke-width="1.9" fill="none"/>
<rect x="508.8" y="1358" width="396.4" height="237" fill="none" stroke="#000" stroke-width="2.0"/>
<path d="M956.77 1595V1588M956.77 1358V1365M996.44 1595V1588M996.44 1358V1365M1036.11 1595V1588M1036.11 1358V1365M1075.78 1595V1588M1075.78 1358V1365M1115.45 1595V1588M1115.45 1358V1365M1155.12 1595V1588M1155.12 1358V1365M1194.79 1595V1588M1194.79 1358V1365M1234.46 1595V1588M1234.46 1358V1365M1274.13 1595V1588M1274.13 1358V1365M1115.45 1595V1581M1115.45 1358V1372M917.1 1582.24H924.1M1313.8 1582.24H1306.8M917.1 1557.36H924.1M1313.8 1557.36H1306.8M917.1 1532.48H924.1M1313.8 1532.48H1306.8M917.1 1507.6H924.1M1313.8 1507.6H1306.8M917.1 1482.72H924.1M1313.8 1482.72H1306.8M917.1 1457.84H924.1M1313.8 1457.84H1306.8M917.1 1432.96H924.1M1313.8 1432.96H1306.8M917.1 1408.08H924.1M1313.8 1408.08H1306.8M917.1 1383.2H924.1M1313.8 1383.2H1306.8M917.1 1507.6H931.1M1313.8 1507.6H1299.8M917.1 1383.2H931.1M1313.8 1383.2H1299.8" stroke="#000" stroke-width="1.9" fill="none"/>
<rect x="917.1" y="1358" width="396.7" height="237" fill="none" stroke="#000" stroke-width="2.0"/>
<path d="M1352.33 1595V1588M1352.33 1358V1365M1378.75 1595V1588M1378.75 1358V1365M1405.18 1595V1588M1405.18 1358V1365M1431.61 1595V1588M1431.61 1358V1365M1458.03 1595V1588M1458.03 1358V1365M1484.46 1595V1588M1484.46 1358V1365M1510.89 1595V1588M1510.89 1358V1365M1537.31 1595V1588M1537.31 1358V1365M1563.74 1595V1588M1563.74 1358V1365M1590.17 1595V1588M1590.17 1358V1365M1616.59 1595V1588M1616.59 1358V1365M1643.02 1595V1588M1643.02 1358V1365M1669.45 1595V1588M1669.45 1358V1365M1695.87 1595V1588M1695.87 1358V1365M1458.03 1595V1581M1458.03 1358V1372M1590.17 1595V1581M1590.17 1358V1372M1325.9 1582.24H1332.9M1722.3 1582.24H1715.3M1325.9 1557.36H1332.9M1722.3 1557.36H1715.3M1325.9 1532.48H1332.9M1722.3 1532.48H1715.3M1325.9 1507.6H1332.9M1722.3 1507.6H1715.3M1325.9 1482.72H1332.9M1722.3 1482.72H1715.3M1325.9 1457.84H1332.9M1722.3 1457.84H1715.3M1325.9 1432.96H1332.9M1722.3 1432.96H1715.3M1325.9 1408.08H1332.9M1722.3 1408.08H1715.3M1325.9 1383.2H1332.9M1722.3 1383.2H1715.3M1325.9 1507.6H1339.9M1722.3 1507.6H1708.3M1325.9 1383.2H1339.9M1722.3 1383.2H1708.3" stroke="#000" stroke-width="1.9" fill="none"/>
<rect x="1325.9" y="1358" width="396.4" height="237" fill="none" stroke="#000" stroke-width="2.0"/>
<text transform="matrix(0.4538 0 0 0.3200 104.49 430.84)" font-size="100">−</text>
<text transform="matrix(0.3166 0 0 0.3481 130.09 429.15)" font-size="100">10</text>
<text transform="matrix(0.3153 0 0 0.3481 291.07 429.15)" font-size="100">0</text>
<text transform="matrix(0.3166 0 0 0.3481 447.62 429.15)" font-size="100">10</text>
<text transform="matrix(0.4538 0 0 0.3200 513.26 430.84)" font-size="100">−</text>
<text transform="matrix(0.3166 0 0 0.3481 538.86 429.15)" font-size="100">10</text>
<text transform="matrix(0.3153 0 0 0.3481 699.72 429.15)" font-size="100">0</text>
<text transform="matrix(0.3166 0 0 0.3481 856.15 429.15)" font-size="100">10</text>
<text transform="matrix(0.4538 0 0 0.3200 921.59 430.84)" font-size="100">−</text>
<text transform="matrix(0.3166 0 0 0.3481 947.19 429.15)" font-size="100">10</text>
<text transform="matrix(0.3153 0 0 0.3481 1108.17 429.15)" font-size="100">0</text>
<text transform="matrix(0.3166 0 0 0.3481 1264.72 429.15)" font-size="100">10</text>
<text transform="matrix(0.4538 0 0 0.3200 1330.36 430.84)" font-size="100">−</text>
<text transform="matrix(0.3166 0 0 0.3481 1355.96 429.15)" font-size="100">10</text>
<text transform="matrix(0.3153 0 0 0.3481 1516.82 429.15)" font-size="100">0</text>
<text transform="matrix(0.3166 0 0 0.3481 1673.25 429.15)" font-size="100">10</text>
<text transform="matrix(0.4538 0 0 0.3200 111.74 863.64)" font-size="100">−</text>
<text transform="matrix(0.3280 0 0 0.3534 138.22 861.95)" font-size="100">5</text>
<text transform="matrix(0.3153 0 0 0.3481 291.07 861.95)" font-size="100">0</text>
<text transform="matrix(0.3280 0 0 0.3534 455.76 861.95)" font-size="100">5</text>
<text transform="matrix(0.4538 0 0 0.3200 520.51 863.64)" font-size="100">−</text>
<text transform="matrix(0.3280 0 0 0.3534 547.00 861.95)" font-size="100">5</text>
<text transform="matrix(0.3153 0 0 0.3481 699.72 861.95)" font-size="100">0</text>
<text transform="matrix(0.3280 0 0 0.3534 864.28 861.95)" font-size="100">5</text>
<text transform="matrix(0.4538 0 0 0.3200 928.84 863.64)" font-size="100">−</text>
<text transform="matrix(0.3280 0 0 0.3534 955.32 861.95)" font-size="100">5</text>
<text transform="matrix(0.3153 0 0 0.3481 1108.17 861.95)" font-size="100">0</text>
<text transform="matrix(0.3280 0 0 0.3534 1272.86 861.95)" font-size="100">5</text>
<text transform="matrix(0.4538 0 0 0.3200 1337.61 863.64)" font-size="100">−</text>
<text transform="matrix(0.3280 0 0 0.3534 1364.10 861.95)" font-size="100">5</text>
<text transform="matrix(0.3153 0 0 0.3481 1516.82 861.95)" font-size="100">0</text>
<text transform="matrix(0.3280 0 0 0.3534 1681.38 861.95)" font-size="100">5</text>
<text transform="matrix(0.4538 0 0 0.3200 113.83 1296.24)" font-size="100">−</text>
<text transform="matrix(0.3280 0 0 0.3534 140.32 1294.55)" font-size="100">5</text>
<text transform="matrix(0.3153 0 0 0.3481 291.07 1294.55)" font-size="100">0</text>
<text transform="matrix(0.3280 0 0 0.3534 453.66 1294.55)" font-size="100">5</text>
<text transform="matrix(0.4538 0 0 0.3200 522.61 1296.24)" font-size="100">−</text>
<text transform="matrix(0.3280 0 0 0.3534 549.09 1294.55)" font-size="100">5</text>
<text transform="matrix(0.3153 0 0 0.3481 699.72 1294.55)" font-size="100">0</text>
<text transform="matrix(0.3280 0 0 0.3534 862.19 1294.55)" font-size="100">5</text>
<text transform="matrix(0.4538 0 0 0.3200 930.93 1296.24)" font-size="100">−</text>
<text transform="matrix(0.3280 0 0 0.3534 957.42 1294.55)" font-size="100">5</text>
<text transform="matrix(0.3153 0 0 0.3481 1108.17 1294.55)" font-size="100">0</text>
<text transform="matrix(0.3280 0 0 0.3534 1270.76 1294.55)" font-size="100">5</text>
<text transform="matrix(0.4538 0 0 0.3200 1339.71 1296.24)" font-size="100">−</text>
<text transform="matrix(0.3280 0 0 0.3534 1366.19 1294.55)" font-size="100">5</text>
<text transform="matrix(0.3153 0 0 0.3481 1516.82 1294.55)" font-size="100">0</text>
<text transform="matrix(0.3280 0 0 0.3534 1679.29 1294.55)" font-size="100">5</text>
<text transform="matrix(0.3226 0 0 0.3456 489.24 1625.28)" font-size="100">0.0</text>
<text transform="matrix(0.3232 0 0 0.3456 687.44 1625.28)" font-size="100">0.5</text>
<text transform="matrix(0.3226 0 0 0.3456 897.54 1625.28)" font-size="100">0.0</text>
<text transform="matrix(0.3281 0 0 0.3456 1095.21 1625.28)" font-size="100">5.0</text>
<text transform="matrix(0.3226 0 0 0.3456 1306.34 1625.28)" font-size="100">0.0</text>
<text transform="matrix(0.3285 0 0 0.3456 1420.86 1625.28)" font-size="100">100.0</text>
<text transform="matrix(0.3276 0 0 0.3456 1553.79 1625.28)" font-size="100">200.0</text>
<text transform="matrix(0.3284 0 0 0.3441 36.37 410.78)" font-size="100">0.00</text>
<text transform="matrix(0.3288 0 0 0.3441 36.37 316.70)" font-size="100">0.05</text>
<text transform="matrix(0.3284 0 0 0.3441 36.37 222.62)" font-size="100">0.10</text>
<text transform="matrix(0.3288 0 0 0.3441 36.37 128.53)" font-size="100">0.15</text>
<text transform="matrix(0.3226 0 0 0.3441 53.49 843.58)" font-size="100">0.0</text>
<text transform="matrix(0.3326 0 0 0.3441 52.85 693.09)" font-size="100">0.2</text>
<text transform="matrix(0.3215 0 0 0.3441 52.89 542.61)" font-size="100">0.4</text>
<text transform="matrix(0.4538 0 0 0.3200 36.53 1237.34)" font-size="100">−</text>
<text transform="matrix(0.3166 0 0 0.3467 62.13 1235.65)" font-size="100">10</text>
<text transform="matrix(0.3153 0 0 0.3467 78.02 1107.05)" font-size="100">0</text>
<text transform="matrix(0.3166 0 0 0.3467 62.13 978.45)" font-size="100">10</text>
<text transform="matrix(0.3153 0 0 0.3467 486.82 1519.85)" font-size="100">0</text>
<text transform="matrix(0.3007 0 0 0.3545 488.17 1395.80)" font-size="100">1</text>
<text transform="matrix(0.3442 0 0 0.3319 244.48 468.47)" font-size="100" font-style="italic">v</text>
<text transform="matrix(0.2382 0 0 0.4157 273.21 471.09)" font-size="100">[</text>
<text transform="matrix(0.2905 0 0 0.3521 281.13 468.45)" font-size="100" font-style="italic">δ</text>
<text transform="matrix(0.3830 0 0 0.3489 297.28 471.61)" font-size="100">·</text>
<text transform="matrix(0.3270 0 0 0.3250 309.34 468.47)" font-size="100" font-style="italic">ω</text>
<text transform="matrix(0.2389 0 0 0.2256 331.97 473.11)" font-size="100" font-style="italic">p</text>
<text transform="matrix(0.2178 0 0 0.4157 343.64 471.09)" font-size="100">]</text>
<text transform="matrix(0.3442 0 0 0.3319 653.13 468.47)" font-size="100" font-style="italic">v</text>
<text transform="matrix(0.2382 0 0 0.4157 681.86 471.09)" font-size="100">[</text>
<text transform="matrix(0.2905 0 0 0.3521 689.78 468.45)" font-size="100" font-style="italic">δ</text>
<text transform="matrix(0.3830 0 0 0.3489 705.93 471.61)" font-size="100">·</text>
<text transform="matrix(0.3270 0 0 0.3250 717.99 468.47)" font-size="100" font-style="italic">ω</text>
<text transform="matrix(0.2389 0 0 0.2256 740.62 473.11)" font-size="100" font-style="italic">p</text>
<text transform="matrix(0.2178 0 0 0.4157 752.29 471.09)" font-size="100">]</text>
<text transform="matrix(0.3442 0 0 0.3319 1061.58 468.47)" font-size="100" font-style="italic">v</text>
<text transform="matrix(0.2382 0 0 0.4157 1090.31 471.09)" font-size="100">[</text>
<text transform="matrix(0.2905 0 0 0.3521 1098.23 468.45)" font-size="100" font-style="italic">δ</text>
<text transform="matrix(0.3830 0 0 0.3489 1114.38 471.61)" font-size="100">·</text>
<text transform="matrix(0.3270 0 0 0.3250 1126.44 468.47)" font-size="100" font-style="italic">ω</text>
<text transform="matrix(0.2389 0 0 0.2256 1149.07 473.11)" font-size="100" font-style="italic">p</text>
<text transform="matrix(0.2178 0 0 0.4157 1160.74 471.09)" font-size="100">]</text>
<text transform="matrix(0.3442 0 0 0.3319 1470.23 468.47)" font-size="100" font-style="italic">v</text>
<text transform="matrix(0.2382 0 0 0.4157 1498.96 471.09)" font-size="100">[</text>
<text transform="matrix(0.2905 0 0 0.3521 1506.88 468.45)" font-size="100" font-style="italic">δ</text>
<text transform="matrix(0.3830 0 0 0.3489 1523.03 471.61)" font-size="100">·</text>
<text transform="matrix(0.3270 0 0 0.3250 1535.09 468.47)" font-size="100" font-style="italic">ω</text>
<text transform="matrix(0.2389 0 0 0.2256 1557.72 473.11)" font-size="100" font-style="italic">p</text>
<text transform="matrix(0.2178 0 0 0.4157 1569.39 471.09)" font-size="100">]</text>
<text transform="matrix(0.3771 0 0 0.3476 267.48 901.63)" font-size="100" font-style="italic">ξ</text>
<text transform="matrix(0.2202 0 0 0.4193 296.45 904.14)" font-size="100">[</text>
<text transform="matrix(0.3173 0 0 0.3592 303.85 901.04)" font-size="100" font-style="italic">δ</text>
<text transform="matrix(0.2222 0 0 0.4193 319.32 904.14)" font-size="100">]</text>
<text transform="matrix(0.3771 0 0 0.3476 676.13 901.63)" font-size="100" font-style="italic">ξ</text>
<text transform="matrix(0.2202 0 0 0.4193 705.10 904.14)" font-size="100">[</text>
<text transform="matrix(0.3173 0 0 0.3592 712.50 901.04)" font-size="100" font-style="italic">δ</text>
<text transform="matrix(0.2222 0 0 0.4193 727.97 904.14)" font-size="100">]</text>
<text transform="matrix(0.3771 0 0 0.3476 1084.58 901.63)" font-size="100" font-style="italic">ξ</text>
<text transform="matrix(0.2202 0 0 0.4193 1113.55 904.14)" font-size="100">[</text>
<text transform="matrix(0.3173 0 0 0.3592 1120.95 901.04)" font-size="100" font-style="italic">δ</text>
<text transform="matrix(0.2222 0 0 0.4193 1136.42 904.14)" font-size="100">]</text>
<text transform="matrix(0.3771 0 0 0.3476 1493.23 901.63)" font-size="100" font-style="italic">ξ</text>
<text transform="matrix(0.2202 0 0 0.4193 1522.20 904.14)" font-size="100">[</text>
<text transform="matrix(0.3173 0 0 0.3592 1529.60 901.04)" font-size="100" font-style="italic">δ</text>
<text transform="matrix(0.2222 0 0 0.4193 1545.07 904.14)" font-size="100">]</text>
<text transform="matrix(0.3771 0 0 0.3476 267.48 1334.23)" font-size="100" font-style="italic">ξ</text>
<text transform="matrix(0.2202 0 0 0.4193 296.45 1336.74)" font-size="100">[</text>
<text transform="matrix(0.3173 0 0 0.3592 303.85 1333.64)" font-size="100" font-style="italic">δ</text>
<text transform="matrix(0.2222 0 0 0.4193 319.32 1336.74)" font-size="100">]</text>
<text transform="matrix(0.3771 0 0 0.3476 676.13 1334.23)" font-size="100" font-style="italic">ξ</text>
<text transform="matrix(0.2202 0 0 0.4193 705.10 1336.74)" font-size="100">[</text>
<text transform="matrix(0.3173 0 0 0.3592 712.50 1333.64)" font-size="100" font-style="italic">δ</text>
<text transform="matrix(0.2222 0 0 0.4193 727.97 1336.74)" font-size="100">]</text>
<text transform="matrix(0.3771 0 0 0.3476 1084.58 1334.23)" font-size="100" font-style="italic">ξ</text>
<text transform="matrix(0.2202 0 0 0.4193 1113.55 1336.74)" font-size="100">[</text>
<text transform="matrix(0.3173 0 0 0.3592 1120.95 1333.64)" font-size="100" font-style="italic">δ</text>
<text transform="matrix(0.2222 0 0 0.4193 1136.42 1336.74)" font-size="100">]</text>
<text transform="matrix(0.3771 0 0 0.3476 1493.23 1334.23)" font-size="100" font-style="italic">ξ</text>
<text transform="matrix(0.2202 0 0 0.4193 1522.20 1336.74)" font-size="100">[</text>
<text transform="matrix(0.3173 0 0 0.3592 1529.60 1333.64)" font-size="100" font-style="italic">δ</text>
<text transform="matrix(0.2222 0 0 0.4193 1545.07 1336.74)" font-size="100">]</text>
<text transform="matrix(0.3564 0 0 0.3757 659.90 1666.42)" font-size="100" font-style="italic">t</text>
<text transform="matrix(0.2157 0 0 0.4108 684.58 1669.55)" font-size="100">[</text>
<text transform="matrix(0.3206 0 0 0.3187 690.66 1666.48)" font-size="100" font-style="italic">ω</text>
<text transform="matrix(0.2445 0 0 0.2256 712.61 1674.61)" font-size="100" font-style="italic">p</text>
<text transform="matrix(0.3140 0 0 0.3200 714.13 1658.64)" font-size="100">−</text>
<text transform="matrix(0.2270 0 0 0.2530 732.51 1654.60)" font-size="100">1</text>
<text transform="matrix(0.2178 0 0 0.4108 744.54 1669.55)" font-size="100">]</text>
<text transform="matrix(0.3564 0 0 0.3757 1068.35 1666.42)" font-size="100" font-style="italic">t</text>
<text transform="matrix(0.2157 0 0 0.4108 1093.03 1669.55)" font-size="100">[</text>
<text transform="matrix(0.3206 0 0 0.3187 1099.11 1666.48)" font-size="100" font-style="italic">ω</text>
<text transform="matrix(0.2445 0 0 0.2256 1121.06 1674.61)" font-size="100" font-style="italic">p</text>
<text transform="matrix(0.3140 0 0 0.3200 1122.58 1658.64)" font-size="100">−</text>
<text transform="matrix(0.2270 0 0 0.2530 1140.96 1654.60)" font-size="100">1</text>
<text transform="matrix(0.2178 0 0 0.4108 1152.99 1669.55)" font-size="100">]</text>
<text transform="matrix(0.3564 0 0 0.3757 1477.00 1666.42)" font-size="100" font-style="italic">t</text>
<text transform="matrix(0.2157 0 0 0.4108 1501.68 1669.55)" font-size="100">[</text>
<text transform="matrix(0.3206 0 0 0.3187 1507.76 1666.48)" font-size="100" font-style="italic">ω</text>
<text transform="matrix(0.2445 0 0 0.2256 1529.71 1674.61)" font-size="100" font-style="italic">p</text>
<text transform="matrix(0.3140 0 0 0.3200 1531.23 1658.64)" font-size="100">−</text>
<text transform="matrix(0.2270 0 0 0.2530 1549.61 1654.60)" font-size="100">1</text>
<text transform="matrix(0.2178 0 0 0.4108 1561.64 1669.55)" font-size="100">]</text>
<g transform="rotate(-90)">
<text transform="matrix(0.3389 0 0 0.3476 -281.62 23.03)" font-size="100">Density</text>
</g>
<g transform="rotate(-90)">
<text transform="matrix(0.3366 0 0 0.3362 -714.61 38.57)" font-size="100">Density</text>
</g>
<g transform="rotate(-90)">
<text transform="matrix(0.3512 0 0 0.3468 -1148.53 43.35)" font-size="100" font-style="italic">v</text>
</g>
<g transform="rotate(-90)">
<text transform="matrix(0.2247 0 0 0.4241 -1119.49 46.47)" font-size="100">[</text>
</g>
<g transform="rotate(-90)">
<text transform="matrix(0.3128 0 0 0.3606 -1112.24 43.34)" font-size="100" font-style="italic">δ</text>
</g>
<g transform="rotate(-90)">
<text transform="matrix(0.3574 0 0 0.3319 -1095.74 45.34)" font-size="100">·</text>
</g>
<g transform="rotate(-90)">
<text transform="matrix(0.3190 0 0 0.3313 -1083.64 43.37)" font-size="100" font-style="italic">ω</text>
</g>
<g transform="rotate(-90)">
<text transform="matrix(0.2351 0 0 0.2388 -1061.15 47.92)" font-size="100" font-style="italic">p</text>
</g>
<g transform="rotate(-90)">
<text transform="matrix(0.2089 0 0 0.4241 -1049.33 46.47)" font-size="100">]</text>
</g>
<g transform="rotate(-90)">
<text transform="matrix(0.3059 0 0 0.3857 -1570.78 471.80)" font-size="100">(</text>
</g>
<g transform="rotate(-90)">
<text transform="matrix(0.4394 0 0 0.3807 -1559.30 471.82)" font-size="100" font-style="italic">S</text>
</g>
<g transform="rotate(-90)">
<text transform="matrix(0.4516 0 0 0.4300 -1529.16 476.97)" font-size="100">−</text>
</g>
<g transform="rotate(-90)">
<text transform="matrix(0.4330 0 0 0.3807 -1494.29 471.82)" font-size="100" font-style="italic">S</text>
</g>
<g transform="rotate(-90)">
<text transform="matrix(0.2376 0 0 0.2474 -1474.89 476.65)" font-size="100">0</text>
</g>
<g transform="rotate(-90)">
<text transform="matrix(0.3146 0 0 0.3835 -1462.02 471.75)" font-size="100">)</text>
</g>
<g transform="rotate(-90)">
<text transform="matrix(0.4613 0 0 0.5194 -1447.90 479.38)" font-size="100">/</text>
</g>
<g transform="rotate(-90)">
<text transform="matrix(0.4200 0 0 0.3824 -1432.25 471.68)" font-size="100">|</text>
</g>
<g transform="rotate(-90)">
<text transform="matrix(0.4447 0 0 0.3807 -1422.56 471.72)" font-size="100" font-style="italic">S</text>
</g>
<g transform="rotate(-90)">
<text transform="matrix(0.2376 0 0 0.2474 -1402.59 476.65)" font-size="100">0</text>
</g>
<g transform="rotate(-90)">
<text transform="matrix(0.4200 0 0 0.3824 -1389.15 471.68)" font-size="100">|</text>
</g>
<text transform="matrix(0.4225 0 0 0.4643 217.11 34.34)" font-size="100" font-style="italic">t</text>
<text transform="matrix(0.5613 0 0 0.3720 242.39 36.12)" font-size="100">=</text>
<text transform="matrix(0.3953 0 0 0.4119 284.32 34.39)" font-size="100">0</text>
<text transform="matrix(0.3873 0 0 0.3875 315.24 34.41)" font-size="100" font-style="italic">ω</text>
<text transform="matrix(0.2863 0 0 0.2813 341.95 43.92)" font-size="100" font-style="italic">p</text>
<text transform="matrix(0.3742 0 0 0.4000 343.63 24.90)" font-size="100">−</text>
<text transform="matrix(0.2809 0 0 0.2985 365.04 19.70)" font-size="100">1</text>
<text transform="matrix(0.4025 0 0 0.4643 625.86 34.34)" font-size="100" font-style="italic">t</text>
<text transform="matrix(0.5742 0 0 0.3720 650.43 36.12)" font-size="100">=</text>
<text transform="matrix(0.3631 0 0 0.4136 693.02 34.30)" font-size="100">1</text>
<text transform="matrix(0.3968 0 0 0.3875 723.31 34.41)" font-size="100" font-style="italic">ω</text>
<text transform="matrix(0.2749 0 0 0.2813 751.18 43.92)" font-size="100" font-style="italic">p</text>
<text transform="matrix(0.3742 0 0 0.4000 751.73 24.90)" font-size="100">−</text>
<text transform="matrix(0.2809 0 0 0.2985 773.74 19.70)" font-size="100">1</text>
<text transform="matrix(0.4059 0 0 0.4643 1024.95 34.34)" font-size="100" font-style="italic">t</text>
<text transform="matrix(0.5634 0 0 0.3720 1049.78 36.12)" font-size="100">=</text>
<text transform="matrix(0.3829 0 0 0.4119 1091.85 34.39)" font-size="100">10</text>
<text transform="matrix(0.3968 0 0 0.3875 1141.41 34.41)" font-size="100" font-style="italic">ω</text>
<text transform="matrix(0.2768 0 0 0.2813 1169.29 43.92)" font-size="100" font-style="italic">p</text>
<text transform="matrix(0.3806 0 0 0.4000 1170.00 24.90)" font-size="100">−</text>
<text transform="matrix(0.2610 0 0 0.2985 1192.12 19.70)" font-size="100">1</text>
<text transform="matrix(0.4125 0 0 0.4643 1423.74 34.34)" font-size="100" font-style="italic">t</text>
<text transform="matrix(0.5785 0 0 0.3720 1448.51 36.12)" font-size="100">=</text>
<text transform="matrix(0.3894 0 0 0.4119 1490.15 34.39)" font-size="100">300</text>
<text transform="matrix(0.3905 0 0 0.3875 1559.63 34.41)" font-size="100" font-style="italic">ω</text>
<text transform="matrix(0.3014 0 0 0.2813 1586.53 43.92)" font-size="100" font-style="italic">p</text>
<text transform="matrix(0.3720 0 0 0.4000 1588.04 24.90)" font-size="100">−</text>
<text transform="matrix(0.2667 0 0 0.2985 1609.97 19.70)" font-size="100">1</text></svg></body></html>
